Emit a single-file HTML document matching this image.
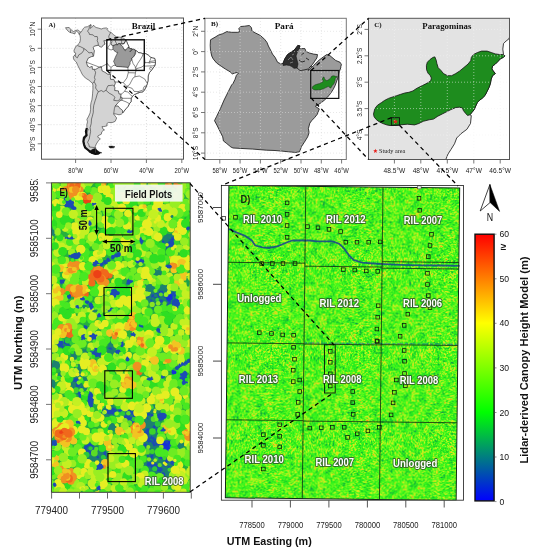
<!DOCTYPE html>
<html><head><meta charset="utf-8"><title>Figure</title>
<style>html,body{margin:0;padding:0;background:#fff;width:550px;height:550px;overflow:hidden}svg{display:block}</style>
</head><body>
<svg width="550" height="550" viewBox="0 0 550 550">
<defs>
<clipPath id="cA"><rect x="41.5" y="18" width="142" height="141.2"/></clipPath>
<clipPath id="cB"><rect x="204.9" y="18.3" width="141.4" height="141.2"/></clipPath>
<clipPath id="cC"><rect x="368.5" y="18.3" width="141" height="141.2"/></clipPath>
</defs>
<rect width="550" height="550" fill="#fff"/>
<g clip-path="url(#cA)">
<line x1="75.6" y1="18" x2="75.6" y2="159.2" stroke="#c8c8c8" stroke-width="0.6" stroke-dasharray="1 2"/>
<line x1="111" y1="18" x2="111" y2="159.2" stroke="#c8c8c8" stroke-width="0.6" stroke-dasharray="1 2"/>
<line x1="146.4" y1="18" x2="146.4" y2="159.2" stroke="#c8c8c8" stroke-width="0.6" stroke-dasharray="1 2"/>
<line x1="181.8" y1="18" x2="181.8" y2="159.2" stroke="#c8c8c8" stroke-width="0.6" stroke-dasharray="1 2"/>
<line x1="41.5" y1="29.2" x2="183.5" y2="29.2" stroke="#c8c8c8" stroke-width="0.6" stroke-dasharray="1 2"/>
<line x1="41.5" y1="48.3" x2="183.5" y2="48.3" stroke="#c8c8c8" stroke-width="0.6" stroke-dasharray="1 2"/>
<line x1="41.5" y1="67.4" x2="183.5" y2="67.4" stroke="#c8c8c8" stroke-width="0.6" stroke-dasharray="1 2"/>
<line x1="41.5" y1="86.5" x2="183.5" y2="86.5" stroke="#c8c8c8" stroke-width="0.6" stroke-dasharray="1 2"/>
<line x1="41.5" y1="105.6" x2="183.5" y2="105.6" stroke="#c8c8c8" stroke-width="0.6" stroke-dasharray="1 2"/>
<line x1="41.5" y1="124.7" x2="183.5" y2="124.7" stroke="#c8c8c8" stroke-width="0.6" stroke-dasharray="1 2"/>
<line x1="41.5" y1="143.8" x2="183.5" y2="143.8" stroke="#c8c8c8" stroke-width="0.6" stroke-dasharray="1 2"/>
<path d="M69.2 27.5 L71.2 30 L73.5 31.5 L75.6 30.5 L77.4 30 L79.3 31.1 L80.4 31.9 L81.3 31.9 L82.3 30.3 L83.4 28.4 L84.5 27.3 L85.9 26.9 L87.5 26.7 L89.2 25.6 L90.8 24.6 L91.4 26 L90.5 27.3 L90.3 28.4 L91.5 27.5 L92.9 26.3 L93.5 25.2 L94.4 26.3 L96.1 27.5 L98.6 28.1 L101.3 29 L103.6 28.2 L106.4 27.9 L107.6 28.6 L107.1 29.4 L109.2 31.9 L111 32.3 L112.4 33.8 L113.8 34.9 L114.9 35.7 L116.3 36.8 L118.4 37 L121.6 37.4 L123.7 38.4 L125.9 39.9 L126.6 41.4 L127.6 44.1 L128.7 46 L128.9 47.9 L127.3 48.7 L129.4 48.9 L131.5 48.7 L132.6 49.4 L134.7 50 L136.8 51 L138.4 52.7 L140.4 52.9 L142.9 53.6 L145.5 53.6 L148.2 55 L150.3 57.1 L152.6 58 L154.7 58.4 L155.4 61.3 L155.4 63.6 L154.7 65.9 L152.8 68.4 L151.2 70.6 L149.2 72.9 L148.2 76 L148 80.8 L147.3 83.6 L146.4 86.1 L144.8 89.4 L143 91.8 L140.2 92.2 L137.6 93.2 L134.4 94.5 L132.2 96.4 L131.2 98.7 L131 101.8 L129.4 103.7 L128 106.4 L126 108.7 L124.1 111.1 L122.7 112.9 L121.3 114.2 L119 114.8 L116.7 114.2 L114.7 113.8 L113.7 114 L115.2 116.1 L116.7 118 L115.2 121.3 L112.8 122.4 L108.3 122.6 L106.9 123.6 L107.1 125.8 L103.9 126.6 L102 126.6 L103 129.1 L104.5 129.9 L103.4 130.4 L101.8 131.8 L101.3 134.2 L98.1 135.8 L97.7 137.1 L100.4 138.8 L98.3 140.9 L96.3 144 L95.1 146.9 L96.1 148.2 L94.2 148.8 L92.4 150.5 L91 151.2 L88.9 150.5 L87.5 149.5 L85.3 147.6 L84.5 144.8 L83.4 140.9 L85.2 138.1 L83.6 137.1 L85.5 135.2 L87.1 132.3 L88.2 129.5 L86.9 127.6 L86.8 124.7 L87.5 121.8 L86.9 119.4 L88.7 116.1 L90.1 112.9 L90.6 109.4 L90.6 105.6 L91 102.7 L91.9 99.9 L92.4 96 L92.6 93.2 L92.9 89.4 L92.9 85.5 L92.6 83.3 L90.8 81.9 L88.9 80.2 L86.2 78.5 L83.9 76.6 L82.1 74.1 L80.9 71.6 L79.5 68.9 L77.7 65.3 L76.3 62.1 L74.2 60.1 L73.5 58.8 L73.3 56.5 L75.1 55 L75.8 53.1 L74.2 52.3 L74 50.2 L75.2 47.9 L75.6 46.6 L77.4 45.4 L77.9 44.5 L79.5 43 L80.2 40.9 L80.4 38.4 L80 35.7 L79 34 L78.4 32.6 L76.5 31.3 L75.1 32.4 L74.7 34 L72.9 33.2 L71.2 32.8 L69.2 32.1 L67.1 30 L65.5 27.7Z" fill="#d3d3d3" stroke="#111" stroke-width="0.5"/>
<path d="M86.9 128.1 L85.9 131.4 L86.6 135.2 L83.9 138.1 L83.4 141.5 L84.1 144.8 L85.2 147.6 L87.5 149.5 L89.8 151.4 L92.4 153 L95.4 153.9 L98.1 153.7 L99.5 152.6" fill="none" stroke="#111" stroke-width="2.2" stroke-linejoin="round"/>
<path d="M95.8 148.8 L95.8 153.2 L98.6 153.5 L101.8 152.8 L99.5 152 L96.8 150.1Z" fill="#111" stroke="#111" stroke-width="0.5"/>
<path d="M95.4 148.8 L92.9 149.1 L90.6 150.7 L88.9 152 L91.9 153.3 L95.1 153.9 L95.4 153.2Z" fill="#111" stroke="#111" stroke-width="0.5"/>
<path d="M108.9 146.3 L111.9 146.1 L114.9 146.7 L113.7 147.8 L110.5 148 L109.1 147.2Z" fill="#111" stroke="#111" stroke-width="0.5"/>
<path d="M90.8 24.6 L89.4 27.1 L88.9 29.2 L87.5 31.1 L89.1 33 L89.4 34.4 L93.1 34.9 L94.7 36.6 L97.2 36.5 L97.7 38.8 L97.2 40.7 L98.1 42.8 L98.3 45.2" fill="none" stroke="#111" stroke-width="0.5"/>
<path d="M77.5 45.6 L80.7 46.8 L83.9 48.5 L87.1 50.8 L88.9 52.9 L92.1 52.5 L93.3 56.3" fill="none" stroke="#111" stroke-width="0.5"/>
<path d="M75.1 54.8 L75.6 56.7 L77.4 57.8 L78.8 54.8 L81.6 53.3 L83.6 50.6 L83.9 48.5" fill="none" stroke="#111" stroke-width="0.5"/>
<path d="M94 69.3 L95.6 72.2 L95.2 74.5 L94.4 77.5 L95.1 79.4 L94.2 81.7 L92.6 83.3" fill="none" stroke="#111" stroke-width="0.5"/>
<path d="M94.2 81.7 L96 85.2 L95.6 88 L96.7 89.6 L98.3 91.8 L97.2 94.1 L96.1 98 L95.1 100.8 L93.7 105.6 L93.3 109.4 L93.3 112.3 L92.4 116.1 L91.5 119 L91.2 123.7 L90.1 127.6 L90.6 131.4 L90.1 134.2 L89.2 139 L87.6 142.3 L88.9 144.8 L89.4 147 L95.1 147.6" fill="none" stroke="#111" stroke-width="0.5"/>
<path d="M98.3 91.8 L101.3 90.5 L103.4 91.8 L106 90.3 L107.1 87.5 L108 85.7 L112.6 85.2 L114.2 86.1" fill="none" stroke="#111" stroke-width="0.5"/>
<path d="M106 90.3 L109.2 93.2 L112.8 95.1 L114.9 97.2 L113.7 100.3 L117.2 100.8 L119.9 99.9 L120.6 97" fill="none" stroke="#111" stroke-width="0.5"/>
<path d="M115.2 106 L114.4 108.5 L114 111.5 L113.7 114" fill="none" stroke="#111" stroke-width="0.5"/>
<path d="M111 32.3 L109.8 34 L108.9 35.9 L108.7 37.2 L109.8 38.4" fill="none" stroke="#111" stroke-width="0.5"/>
<path d="M116.3 36.8 L115.2 40.7 L115.8 42.2 L117.2 44.7" fill="none" stroke="#111" stroke-width="0.5"/>
<path d="M121.6 37.4 L120.9 39.7 L121.6 41.4 L121.6 43.9" fill="none" stroke="#111" stroke-width="0.5"/>
<path d="M80.4 31.9 L79.3 34.5" fill="none" stroke="#111" stroke-width="0.5"/>
<path d="M70.5 30.2 L70.5 32.6" fill="none" stroke="#111" stroke-width="0.5"/>
<path d="M125.9 39.9 L126.6 41.4 L127.6 44.1 L128.7 46 L128.9 47.9 L127.3 48.7 L129.4 48.9 L131.5 48.7 L132.6 49.4 L134.7 50 L136.8 51 L138.4 52.7 L140.4 52.9 L142.9 53.6 L145.5 53.6 L148.2 55 L150.3 57.1 L152.6 58 L154.7 58.4 L155.4 61.3 L155.4 63.6 L154.7 65.9 L152.8 68.4 L151.2 70.6 L149.2 72.9 L148.2 76 L148 80.8 L147.3 83.6 L146.4 86.1 L144.8 89.4 L143 91.8 L140.2 92.2 L137.6 93.2 L134.4 94.5 L132.2 96.4 L131.2 98.7 L131 101.8 L129.4 103.7 L128 106.4 L126 108.7 L124.1 111.1 L122.7 112.9 L122.5 110.4 L119 107.5 L118.1 106 L115.2 106 L118.1 102.7 L119.9 100.8 L122 100.1 L122 97.4 L120.6 97 L121.1 94.1 L119 93.9 L118.4 90.9 L114.7 90.5 L114.9 87.5 L114.2 86.1 L115.4 83.1 L113.8 79.4 L110.6 79.4 L110.3 77.1 L110.6 74.5 L107.6 74.1 L104.8 72.2 L102.2 71 L101.6 68.4 L101.4 66.8 L99.3 67.2 L95.8 69.3 L94 69.3 L92.4 69.3 L92.2 66.4 L89.4 67.4 L88.3 66.3 L87.6 66.3 L86.4 62.2 L88.2 58.2 L91.2 56.7 L93.5 56.3 L94.4 50.6 L93.7 49.4 L93.3 47.3 L94.2 46.2 L98.3 45.2 L99 46 L100.4 46.8 L101.3 47.2 L103 45.8 L103.9 44.5 L105 44.1 L103.9 40.7 L106 40.7 L108.7 39.7 L109.8 38.4 L111 38.6 L111.4 40.7 L111.9 41.6 L111.2 43.7 L111.9 45.4 L114 45.4 L117.2 44.7 L119.9 43.5 L121.6 43.9 L123.6 43.9 L125.2 41.6Z" fill="#fff" stroke="#111" stroke-width="0.6"/>
<path d="M111 38.6 L110.1 44.5 L108.5 46.4 L107.5 48.3 L111 50 L113.1 49.3" fill="none" stroke="#111" stroke-width="0.5"/>
<path d="M125.9 39.9 L124.3 43.5 L122 43.9" fill="none" stroke="#111" stroke-width="0.5"/>
<path d="M120 43.7 L121.6 46.4 L124.3 49.3 L126.6 50.2" fill="none" stroke="#111" stroke-width="0.5"/>
<path d="M86.4 62.2 L99 67" fill="none" stroke="#111" stroke-width="0.5"/>
<path d="M99.3 67.2 L101.4 66.8 L107.5 63.6 L108.3 65.1 L111 67.4 L114 65.1" fill="none" stroke="#111" stroke-width="0.5"/>
<path d="M111 67.4 L110.6 74.5" fill="none" stroke="#111" stroke-width="0.5"/>
<path d="M114 65.1 L117.2 66.1 L127.8 67" fill="none" stroke="#111" stroke-width="0.5"/>
<path d="M127.8 67 L128.3 72.7 L126.9 77.9 L123.4 82.7 L126 85.5" fill="none" stroke="#111" stroke-width="0.5"/>
<path d="M114.9 81.9 L122.5 82.5 L123.4 82.7" fill="none" stroke="#111" stroke-width="0.5"/>
<path d="M126 85.5 L126.9 87.5 L124.6 91.3 L122.5 93.2 L121.1 94.1" fill="none" stroke="#111" stroke-width="0.5"/>
<path d="M131.4 58.4 L133.1 63.6 L135.2 66.6 L135.8 71.2 L135.4 72.9" fill="none" stroke="#111" stroke-width="0.5"/>
<path d="M135.4 72.9 L128.3 72.7" fill="none" stroke="#111" stroke-width="0.5"/>
<path d="M135.4 72.9 L134.9 76.9 L133.1 77.9 L129.6 84.6 L126.9 86.5" fill="none" stroke="#111" stroke-width="0.5"/>
<path d="M132.6 49.4 L135.4 50.6 L135.8 53.1 L134.9 55 L132.9 57.5 L131.4 58.4" fill="none" stroke="#111" stroke-width="0.5"/>
<path d="M143.2 53.6 L142 56.9 L140.2 59.8 L137.6 63.6 L135.8 67.4 L136.7 68.5" fill="none" stroke="#111" stroke-width="0.5"/>
<path d="M144.1 54 L144.6 57.8 L145 62.6 L144.1 65.5 L141.1 67.4 L136.7 68.5 L135.8 71.2" fill="none" stroke="#111" stroke-width="0.5"/>
<path d="M151.2 57.3 L149.9 60.7 L148.9 62.6" fill="none" stroke="#111" stroke-width="0.5"/>
<path d="M148.9 62.6 L145 62.6" fill="none" stroke="#111" stroke-width="0.5"/>
<path d="M155.2 60.7 L150.8 61.3 L148.9 62.6" fill="none" stroke="#111" stroke-width="0.5"/>
<path d="M155.2 62.6 L151.7 62.4 L148.9 63.2" fill="none" stroke="#111" stroke-width="0.5"/>
<path d="M154.9 65.3 L152.6 65.9 L149.9 65.9 L145.5 66.1 L144.1 65.5" fill="none" stroke="#111" stroke-width="0.5"/>
<path d="M152.8 68.4 L150.3 67 L149.6 68.9 L150.8 70.3" fill="none" stroke="#111" stroke-width="0.5"/>
<path d="M147.1 83.1 L144.6 78.9 L139.3 76 L135.8 76.6 L134.9 76.9" fill="none" stroke="#111" stroke-width="0.5"/>
<path d="M146.4 86.1 L144.6 86.1 L143.2 88.4 L144.3 89.4" fill="none" stroke="#111" stroke-width="0.5"/>
<path d="M144.3 89.4 L141.1 90.7 L137.9 91.7 L138.3 92.8" fill="none" stroke="#111" stroke-width="0.5"/>
<path d="M137.9 91.7 L134 91.3 L132.2 88.4 L126.9 86.5" fill="none" stroke="#111" stroke-width="0.5"/>
<path d="M132.2 96.4 L130.5 94.7 L127.8 92 L124.6 91.3" fill="none" stroke="#111" stroke-width="0.5"/>
<path d="M131.2 98.3 L127.8 98.3 L122 98.3" fill="none" stroke="#111" stroke-width="0.5"/>
<path d="M129.4 103.7 L126 101.8 L122 100.3" fill="none" stroke="#111" stroke-width="0.5"/>
<path d="M210.5 39.8 L215.2 37.1 L218.6 35 L222.7 33.7 L226.8 31.6 L231.6 32.3 L237.7 32.3 L239.8 31.6 L238.8 28.6 L240.7 26.5 L244.5 26.2 L249.3 25.5 L251.4 27.5 L252 31 L255.5 33 L259.5 35 L262.3 37.1 L265 39.8 L267 42.5 L268.4 46 L270.5 50 L272.5 54.1 L275.2 57.5 L277.6 62.3 L280.9 63.9 L283 63.4 L284.7 59 L287.5 54.6 L291.3 51.9 L294 50.3 L296.7 47 L297.8 45.4 L300 45.9 L298.9 48.6 L301.6 48.6 L304.9 48.6 L306 51.4 L309.3 53 L313.6 54.1 L317.5 54.6 L316.9 57.9 L314.7 61.2 L312.5 64.5 L309.3 67.7 L308.2 70.5 L313.6 65.5 L319.1 60.1 L323.5 56.8 L326.7 54.6 L330 55.7 L335.6 60.4 L340.1 62.3 L341.4 64.2 L340.7 68 L338.8 73.1 L338.2 76.9 L336.9 80.7 L335 85.8 L333.1 89.6 L330.5 93.5 L327.4 97.3 L324.8 99.8 L321.6 102.4 L317.8 104.9 L315.3 106.2 L315.9 106.8 L319.3 108.9 L317.3 114.3 L314.5 117.7 L311.8 120.5 L309.8 123.2 L308.4 128.6 L309.1 132.7 L307.7 136.8 L304.3 142.3 L301.6 146.4 L299.5 151.8 L295.5 152.5 L288.6 151.8 L281.8 151.1 L275 150.5 L266.4 150.2 L252.7 149.1 L240.5 148.4 L233 148 L230.9 147 L226.8 143.6 L223.4 140.9 L222.7 136.8 L220 131.4 L217.3 125.9 L214.5 120.7 L216.6 116.4 L220 109.5 L224.1 100 L228.2 91.8 L231.6 85 L233 83.5 L235 79.4 L236.4 75.3 L238.4 73.2 L237 72.5 L234.3 73.2 L232.3 73.9 L230.2 71.9 L225.5 69.1 L221.4 66.4 L216.6 63 L213.2 58.9 L211.8 56.2 L210.5 50.7 L210.2 45.3Z" fill="#9a9a9a" stroke="#111" stroke-width="3" transform="matrix(0.17438,0,0,0.18818,76.21,38.65)"/>
<rect x="106.8" y="39.8" width="37.5" height="30.6" fill="none" stroke="#111" stroke-width="1.4"/>
</g>
<rect x="41.5" y="18" width="142" height="141.2" fill="none" stroke="#555" stroke-width="1"/>
<text x="48.4" y="26.8" font-family="'Liberation Serif', 'Times New Roman', serif" font-weight="bold" font-size="6.6" fill="#111">A)</text>
<text x="143.6" y="29" text-anchor="middle" font-family="'Liberation Serif', 'Times New Roman', serif" font-weight="bold" font-size="9" fill="#111">Brazil</text>
<line x1="75.6" y1="159.2" x2="75.6" y2="163" stroke="#555" stroke-width="0.8"/>
<text x="75.6" y="173" text-anchor="middle" font-family="'Liberation Sans', Arial, sans-serif" font-size="6.6" fill="#222" textLength="14.5" lengthAdjust="spacingAndGlyphs">80°W</text>
<line x1="111" y1="159.2" x2="111" y2="163" stroke="#555" stroke-width="0.8"/>
<text x="111" y="173" text-anchor="middle" font-family="'Liberation Sans', Arial, sans-serif" font-size="6.6" fill="#222" textLength="14.5" lengthAdjust="spacingAndGlyphs">60°W</text>
<line x1="146.4" y1="159.2" x2="146.4" y2="163" stroke="#555" stroke-width="0.8"/>
<text x="146.4" y="173" text-anchor="middle" font-family="'Liberation Sans', Arial, sans-serif" font-size="6.6" fill="#222" textLength="14.5" lengthAdjust="spacingAndGlyphs">40°W</text>
<line x1="181.8" y1="159.2" x2="181.8" y2="163" stroke="#555" stroke-width="0.8"/>
<text x="181.8" y="173" text-anchor="middle" font-family="'Liberation Sans', Arial, sans-serif" font-size="6.6" fill="#222" textLength="14.5" lengthAdjust="spacingAndGlyphs">20°W</text>
<line x1="37.7" y1="29.2" x2="41.5" y2="29.2" stroke="#555" stroke-width="0.8"/>
<text transform="translate(34.6,29.2) rotate(-90)" text-anchor="middle" font-family="'Liberation Sans', Arial, sans-serif" font-size="6.6" fill="#222">10°N</text>
<line x1="37.7" y1="48.3" x2="41.5" y2="48.3" stroke="#555" stroke-width="0.8"/>
<text transform="translate(34.6,48.3) rotate(-90)" text-anchor="middle" font-family="'Liberation Sans', Arial, sans-serif" font-size="6.6" fill="#222">0°</text>
<line x1="37.7" y1="67.4" x2="41.5" y2="67.4" stroke="#555" stroke-width="0.8"/>
<text transform="translate(34.6,67.4) rotate(-90)" text-anchor="middle" font-family="'Liberation Sans', Arial, sans-serif" font-size="6.6" fill="#222">10°S</text>
<line x1="37.7" y1="86.5" x2="41.5" y2="86.5" stroke="#555" stroke-width="0.8"/>
<text transform="translate(34.6,86.5) rotate(-90)" text-anchor="middle" font-family="'Liberation Sans', Arial, sans-serif" font-size="6.6" fill="#222">20°S</text>
<line x1="37.7" y1="105.6" x2="41.5" y2="105.6" stroke="#555" stroke-width="0.8"/>
<text transform="translate(34.6,105.6) rotate(-90)" text-anchor="middle" font-family="'Liberation Sans', Arial, sans-serif" font-size="6.6" fill="#222">30°S</text>
<line x1="37.7" y1="124.7" x2="41.5" y2="124.7" stroke="#555" stroke-width="0.8"/>
<text transform="translate(34.6,124.7) rotate(-90)" text-anchor="middle" font-family="'Liberation Sans', Arial, sans-serif" font-size="6.6" fill="#222">40°S</text>
<line x1="37.7" y1="143.8" x2="41.5" y2="143.8" stroke="#555" stroke-width="0.8"/>
<text transform="translate(34.6,143.8) rotate(-90)" text-anchor="middle" font-family="'Liberation Sans', Arial, sans-serif" font-size="6.6" fill="#222">50°S</text>
<g clip-path="url(#cB)">
<path d="M210.5 39.8 L215.2 37.1 L218.6 35 L222.7 33.7 L226.8 31.6 L231.6 32.3 L237.7 32.3 L239.8 31.6 L238.8 28.6 L240.7 26.5 L244.5 26.2 L249.3 25.5 L251.4 27.5 L252 31 L255.5 33 L259.5 35 L262.3 37.1 L265 39.8 L267 42.5 L268.4 46 L270.5 50 L272.5 54.1 L275.2 57.5 L277.6 62.3 L280.9 63.9 L283 63.4 L284.7 59 L287.5 54.6 L291.3 51.9 L294 50.3 L296.7 47 L297.8 45.4 L300 45.9 L298.9 48.6 L301.6 48.6 L304.9 48.6 L306 51.4 L309.3 53 L313.6 54.1 L317.5 54.6 L316.9 57.9 L314.7 61.2 L312.5 64.5 L309.3 67.7 L308.2 70.5 L313.6 65.5 L319.1 60.1 L323.5 56.8 L326.7 54.6 L330 55.7 L335.6 60.4 L340.1 62.3 L341.4 64.2 L340.7 68 L338.8 73.1 L338.2 76.9 L336.9 80.7 L335 85.8 L333.1 89.6 L330.5 93.5 L327.4 97.3 L324.8 99.8 L321.6 102.4 L317.8 104.9 L315.3 106.2 L315.9 106.8 L319.3 108.9 L317.3 114.3 L314.5 117.7 L311.8 120.5 L309.8 123.2 L308.4 128.6 L309.1 132.7 L307.7 136.8 L304.3 142.3 L301.6 146.4 L299.5 151.8 L295.5 152.5 L288.6 151.8 L281.8 151.1 L275 150.5 L266.4 150.2 L252.7 149.1 L240.5 148.4 L233 148 L230.9 147 L226.8 143.6 L223.4 140.9 L222.7 136.8 L220 131.4 L217.3 125.9 L214.5 120.7 L216.6 116.4 L220 109.5 L224.1 100 L228.2 91.8 L231.6 85 L233 83.5 L235 79.4 L236.4 75.3 L238.4 73.2 L237 72.5 L234.3 73.2 L232.3 73.9 L230.2 71.9 L225.5 69.1 L221.4 66.4 L216.6 63 L213.2 58.9 L211.8 56.2 L210.5 50.7 L210.2 45.3Z" fill="#9b9b9b" stroke="#111" stroke-width="0.8" stroke-linejoin="round"/>
<path d="M283 63.4 L284.7 59 L287.5 54.6 L291.3 51.9 L294 50.3 L296.7 47 L297.8 45.4 L300 45.9 L298.9 48.6 L297.5 52 L296 56 L297 60 L298 64 L297 68 L294 68.3 L291.8 66.6 L289.6 65.5 L286.4 65 L283.1 65.5 Z" fill="#2e2e2e" stroke="#111" stroke-width="0.6"/>
<path d="M288 60 L291 57 L293 60 M290 63 L293 62 M292 55 L294 54" fill="none" stroke="#8a8a8a" stroke-width="0.8"/>
<path d="M297 68 L300 70.5 L304 70 L308 69 M299 60 L302 62 L305 61 M301 55 L304 53 M306 58 L309 60 M309.3 67.7 L312 66" fill="none" stroke="#111" stroke-width="0.8"/>
<line x1="219.8" y1="18" x2="219.8" y2="160" stroke="#d8d8d8" stroke-width="0.6" stroke-dasharray="1 2"/>
<line x1="204" y1="31.3" x2="347" y2="31.3" stroke="#d8d8d8" stroke-width="0.6" stroke-dasharray="1 2"/>
<line x1="240.1" y1="18" x2="240.1" y2="160" stroke="#d8d8d8" stroke-width="0.6" stroke-dasharray="1 2"/>
<line x1="204" y1="51.6" x2="347" y2="51.6" stroke="#d8d8d8" stroke-width="0.6" stroke-dasharray="1 2"/>
<line x1="260.4" y1="18" x2="260.4" y2="160" stroke="#d8d8d8" stroke-width="0.6" stroke-dasharray="1 2"/>
<line x1="204" y1="71.9" x2="347" y2="71.9" stroke="#d8d8d8" stroke-width="0.6" stroke-dasharray="1 2"/>
<line x1="280.7" y1="18" x2="280.7" y2="160" stroke="#d8d8d8" stroke-width="0.6" stroke-dasharray="1 2"/>
<line x1="204" y1="92.2" x2="347" y2="92.2" stroke="#d8d8d8" stroke-width="0.6" stroke-dasharray="1 2"/>
<line x1="301" y1="18" x2="301" y2="160" stroke="#d8d8d8" stroke-width="0.6" stroke-dasharray="1 2"/>
<line x1="204" y1="112.5" x2="347" y2="112.5" stroke="#d8d8d8" stroke-width="0.6" stroke-dasharray="1 2"/>
<line x1="321.3" y1="18" x2="321.3" y2="160" stroke="#d8d8d8" stroke-width="0.6" stroke-dasharray="1 2"/>
<line x1="204" y1="132.8" x2="347" y2="132.8" stroke="#d8d8d8" stroke-width="0.6" stroke-dasharray="1 2"/>
<line x1="341.6" y1="18" x2="341.6" y2="160" stroke="#d8d8d8" stroke-width="0.6" stroke-dasharray="1 2"/>
<line x1="204" y1="153.1" x2="347" y2="153.1" stroke="#d8d8d8" stroke-width="0.6" stroke-dasharray="1 2"/>
<path d="M373.5 114.1 L374.8 108.6 L377.5 105.2 L381.6 102.5 L384.4 100.5 L388.5 98.4 L392.5 97 L396.6 95.7 L400.7 94.3 L404.8 93 L408.9 92.3 L413 90.9 L415 89.5 L417.1 88.2 L419.8 86.8 L422.5 85.5 L425.3 84.1 L428 82.7 L430.7 80.7 L431.4 78 L430 75.2 L428 73.2 L426.6 69.8 L426.4 65.7 L427.3 62.3 L430 59.5 L432.8 57.5 L434.8 56.8 L436.2 60.2 L436.9 63.6 L438.2 67.7 L441 70.5 L443.5 73.6 L447.5 75.7 L451.6 75.7 L455.7 73.6 L459.8 70.9 L463.9 67.5 L468 64.1 L470.7 60.7 L471.4 57.3 L473.5 54.5 L477.5 52.5 L481.6 51.1 L487.1 51.1 L491.2 52.5 L495.3 53.9 L499.4 54.5 L502.8 54.5 L504.8 55.9 L503.5 57.3 L500.7 58.6 L498 61.4 L495.3 64.1 L492.5 66.1 L491.9 68.9 L493.2 70.9 L495.3 73.6 L492.5 75.7 L491.2 79.1 L490.5 83.2 L489.1 87.3 L487.1 91.4 L485 95.5 L482.3 98.2 L479.6 100.2 L477.5 102.3 L476.2 105 L474.2 109.6 L472 112.5 L469.8 114.7 L467.6 115.5 L465.5 113.3 L463.3 110.4 L462.5 108.2 L459.6 107.2 L456 107.5 L450.9 109.6 L446.5 111.8 L442.2 114 L437.8 116.2 L433.5 119.1 L429.1 119.8 L423.3 121.3 L418.9 123.5 L414.5 124.9 L407.3 124.2 L400 124.9 L395 125.5 L390 125.5 L387.1 125 L383 123.6 L378.9 121.6 L376.2 119.5 L374.1 116.8Z" fill="#1e8c1e" stroke="#111" stroke-width="2" transform="matrix(0.19187,0,0,0.1915,240.55,66.03)"/>
<rect x="310.7" y="70.5" width="28.1" height="27.9" fill="none" stroke="#111" stroke-width="1.2"/>
</g>
<rect x="204.9" y="18.3" width="141.4" height="141.2" fill="none" stroke="#777" stroke-width="1"/>
<text x="211" y="26.3" font-family="'Liberation Serif', 'Times New Roman', serif" font-weight="bold" font-size="7" fill="#111">B)</text>
<text x="284.2" y="29" text-anchor="middle" font-family="'Liberation Serif', 'Times New Roman', serif" font-weight="bold" font-size="9.2" fill="#111">Pará</text>
<line x1="219.8" y1="159.5" x2="219.8" y2="163.5" stroke="#555" stroke-width="0.8"/>
<text x="219.8" y="173" text-anchor="middle" font-family="'Liberation Sans', Arial, sans-serif" font-size="6.6" fill="#222" textLength="14.5" lengthAdjust="spacingAndGlyphs">58°W</text>
<line x1="240.1" y1="159.5" x2="240.1" y2="163.5" stroke="#555" stroke-width="0.8"/>
<text x="240.1" y="173" text-anchor="middle" font-family="'Liberation Sans', Arial, sans-serif" font-size="6.6" fill="#222" textLength="14.5" lengthAdjust="spacingAndGlyphs">56°W</text>
<line x1="260.4" y1="159.5" x2="260.4" y2="163.5" stroke="#555" stroke-width="0.8"/>
<text x="260.4" y="173" text-anchor="middle" font-family="'Liberation Sans', Arial, sans-serif" font-size="6.6" fill="#222" textLength="14.5" lengthAdjust="spacingAndGlyphs">54°W</text>
<line x1="280.7" y1="159.5" x2="280.7" y2="163.5" stroke="#555" stroke-width="0.8"/>
<text x="280.7" y="173" text-anchor="middle" font-family="'Liberation Sans', Arial, sans-serif" font-size="6.6" fill="#222" textLength="14.5" lengthAdjust="spacingAndGlyphs">52°W</text>
<line x1="301" y1="159.5" x2="301" y2="163.5" stroke="#555" stroke-width="0.8"/>
<text x="301" y="173" text-anchor="middle" font-family="'Liberation Sans', Arial, sans-serif" font-size="6.6" fill="#222" textLength="14.5" lengthAdjust="spacingAndGlyphs">50°W</text>
<line x1="321.3" y1="159.5" x2="321.3" y2="163.5" stroke="#555" stroke-width="0.8"/>
<text x="321.3" y="173" text-anchor="middle" font-family="'Liberation Sans', Arial, sans-serif" font-size="6.6" fill="#222" textLength="14.5" lengthAdjust="spacingAndGlyphs">48°W</text>
<line x1="341.6" y1="159.5" x2="341.6" y2="163.5" stroke="#555" stroke-width="0.8"/>
<text x="341.6" y="173" text-anchor="middle" font-family="'Liberation Sans', Arial, sans-serif" font-size="6.6" fill="#222" textLength="14.5" lengthAdjust="spacingAndGlyphs">46°W</text>
<line x1="201" y1="31.3" x2="204.9" y2="31.3" stroke="#555" stroke-width="0.8"/>
<text transform="translate(198,31.3) rotate(-90)" text-anchor="middle" font-family="'Liberation Sans', Arial, sans-serif" font-size="6.6" fill="#222">2°N</text>
<line x1="201" y1="51.6" x2="204.9" y2="51.6" stroke="#555" stroke-width="0.8"/>
<text transform="translate(198,51.6) rotate(-90)" text-anchor="middle" font-family="'Liberation Sans', Arial, sans-serif" font-size="6.6" fill="#222">0°</text>
<line x1="201" y1="71.9" x2="204.9" y2="71.9" stroke="#555" stroke-width="0.8"/>
<text transform="translate(198,71.9) rotate(-90)" text-anchor="middle" font-family="'Liberation Sans', Arial, sans-serif" font-size="6.6" fill="#222">2°S</text>
<line x1="201" y1="92.2" x2="204.9" y2="92.2" stroke="#555" stroke-width="0.8"/>
<text transform="translate(198,92.2) rotate(-90)" text-anchor="middle" font-family="'Liberation Sans', Arial, sans-serif" font-size="6.6" fill="#222">4°S</text>
<line x1="201" y1="112.5" x2="204.9" y2="112.5" stroke="#555" stroke-width="0.8"/>
<text transform="translate(198,112.5) rotate(-90)" text-anchor="middle" font-family="'Liberation Sans', Arial, sans-serif" font-size="6.6" fill="#222">6°S</text>
<line x1="201" y1="132.8" x2="204.9" y2="132.8" stroke="#555" stroke-width="0.8"/>
<text transform="translate(198,132.8) rotate(-90)" text-anchor="middle" font-family="'Liberation Sans', Arial, sans-serif" font-size="6.6" fill="#222">8°S</text>
<line x1="201" y1="153.1" x2="204.9" y2="153.1" stroke="#555" stroke-width="0.8"/>
<text transform="translate(198,153.1) rotate(-90)" text-anchor="middle" font-family="'Liberation Sans', Arial, sans-serif" font-size="6.6" fill="#222">10°S</text>
<g clip-path="url(#cC)">
<path d="M368.5 18.3 L509.5 18.3 L509.5 37.2 L508.9 38.9 L506.2 40.9 L503.5 43.6 L502.8 49.1 L503.5 54.5 L504.8 55.9 L503.5 57.3 L500.7 58.6 L498 61.4 L495.3 64.1 L492.5 66.1 L491.9 68.9 L493.2 70.9 L495.3 73.6 L492.5 75.7 L491.2 79.1 L490.5 83.2 L489.1 87.3 L487.1 91.4 L485 95.5 L482.3 98.2 L479.6 100.2 L477.5 102.3 L476.2 105 L474.2 109.6 L472 112.5 L469.8 114.7 L471.3 115.5 L470.5 123.5 L466.9 129.3 L461.1 133.6 L456.7 138 L454.5 143.8 L450.9 149.6 L448 154 L445.8 159.5 L368.5 159.5Z" fill="#e3e3e3" stroke="none"/>
<path d="M509.5 37.2 L508.9 38.9 L506.2 40.9 L503.5 43.6 L502.8 49.1 L503.5 54.5 L504.8 55.9 L503.5 57.3 L500.7 58.6 L498 61.4 L495.3 64.1 L492.5 66.1 L491.9 68.9 L493.2 70.9 L495.3 73.6 L492.5 75.7 L491.2 79.1 L490.5 83.2 L489.1 87.3 L487.1 91.4 L485 95.5 L482.3 98.2 L479.6 100.2 L477.5 102.3 L476.2 105 L474.2 109.6 L472 112.5 L469.8 114.7 L471.3 115.5 L470.5 123.5 L466.9 129.3 L461.1 133.6 L456.7 138 L454.5 143.8 L450.9 149.6 L448 154 L445.8 159.5" fill="none" stroke="#111" stroke-width="0.8"/>
<path d="M373.5 114.1 L374.8 108.6 L377.5 105.2 L381.6 102.5 L384.4 100.5 L388.5 98.4 L392.5 97 L396.6 95.7 L400.7 94.3 L404.8 93 L408.9 92.3 L413 90.9 L415 89.5 L417.1 88.2 L419.8 86.8 L422.5 85.5 L425.3 84.1 L428 82.7 L430.7 80.7 L431.4 78 L430 75.2 L428 73.2 L426.6 69.8 L426.4 65.7 L427.3 62.3 L430 59.5 L432.8 57.5 L434.8 56.8 L436.2 60.2 L436.9 63.6 L438.2 67.7 L441 70.5 L443.5 73.6 L447.5 75.7 L451.6 75.7 L455.7 73.6 L459.8 70.9 L463.9 67.5 L468 64.1 L470.7 60.7 L471.4 57.3 L473.5 54.5 L477.5 52.5 L481.6 51.1 L487.1 51.1 L491.2 52.5 L495.3 53.9 L499.4 54.5 L502.8 54.5 L504.8 55.9 L503.5 57.3 L500.7 58.6 L498 61.4 L495.3 64.1 L492.5 66.1 L491.9 68.9 L493.2 70.9 L495.3 73.6 L492.5 75.7 L491.2 79.1 L490.5 83.2 L489.1 87.3 L487.1 91.4 L485 95.5 L482.3 98.2 L479.6 100.2 L477.5 102.3 L476.2 105 L474.2 109.6 L472 112.5 L469.8 114.7 L467.6 115.5 L465.5 113.3 L463.3 110.4 L462.5 108.2 L459.6 107.2 L456 107.5 L450.9 109.6 L446.5 111.8 L442.2 114 L437.8 116.2 L433.5 119.1 L429.1 119.8 L423.3 121.3 L418.9 123.5 L414.5 124.9 L407.3 124.2 L400 124.9 L395 125.5 L390 125.5 L387.1 125 L383 123.6 L378.9 121.6 L376.2 119.5 L374.1 116.8Z" fill="#1e8c1e" stroke="#111" stroke-width="0.8" stroke-linejoin="round"/>
<line x1="394.4" y1="18" x2="394.4" y2="160" stroke="#f4f4f4" stroke-opacity="0.9" stroke-width="0.6" stroke-dasharray="1 2"/>
<line x1="368" y1="29.4" x2="510" y2="29.4" stroke="#f4f4f4" stroke-opacity="0.9" stroke-width="0.6" stroke-dasharray="1 2"/>
<line x1="420.8" y1="18" x2="420.8" y2="160" stroke="#f4f4f4" stroke-opacity="0.9" stroke-width="0.6" stroke-dasharray="1 2"/>
<line x1="368" y1="55.8" x2="510" y2="55.8" stroke="#f4f4f4" stroke-opacity="0.9" stroke-width="0.6" stroke-dasharray="1 2"/>
<line x1="447.3" y1="18" x2="447.3" y2="160" stroke="#f4f4f4" stroke-opacity="0.9" stroke-width="0.6" stroke-dasharray="1 2"/>
<line x1="368" y1="82.2" x2="510" y2="82.2" stroke="#f4f4f4" stroke-opacity="0.9" stroke-width="0.6" stroke-dasharray="1 2"/>
<line x1="473.8" y1="18" x2="473.8" y2="160" stroke="#f4f4f4" stroke-opacity="0.9" stroke-width="0.6" stroke-dasharray="1 2"/>
<line x1="368" y1="108.6" x2="510" y2="108.6" stroke="#f4f4f4" stroke-opacity="0.9" stroke-width="0.6" stroke-dasharray="1 2"/>
<line x1="500.2" y1="18" x2="500.2" y2="160" stroke="#f4f4f4" stroke-opacity="0.9" stroke-width="0.6" stroke-dasharray="1 2"/>
<line x1="368" y1="135" x2="510" y2="135" stroke="#f4f4f4" stroke-opacity="0.9" stroke-width="0.6" stroke-dasharray="1 2"/>
<rect x="391.4" y="117.7" width="8.1" height="7.5" fill="none" stroke="#111" stroke-width="0.9"/>
</g>
<rect x="368.5" y="18.3" width="141" height="141.2" fill="none" stroke="#555" stroke-width="1"/>
<path d="M395.5 119 L396.2 120.7 L398 120.8 L396.6 122 L397 123.7 L395.5 122.8 L394 123.7 L394.4 122 L393 120.8 L394.8 120.7Z" fill="#e8201c"/>
<path d="M375.4 148.7 L376 150.2 L377.6 150.3 L376.4 151.3 L376.8 152.9 L375.4 152 L374 152.9 L374.4 151.3 L373.2 150.3 L374.8 150.2Z" fill="#e8201c"/>
<text x="379" y="153.2" font-family="'Liberation Serif', 'Times New Roman', serif" font-size="6.2" fill="#222">Study area</text>
<text x="374.3" y="26.5" font-family="'Liberation Serif', 'Times New Roman', serif" font-weight="bold" font-size="7" fill="#111">C)</text>
<text x="446.8" y="28.6" text-anchor="middle" font-family="'Liberation Serif', 'Times New Roman', serif" font-weight="bold" font-size="9" fill="#111" textLength="49" lengthAdjust="spacingAndGlyphs">Paragominas</text>
<line x1="394.4" y1="159.5" x2="394.4" y2="163.5" stroke="#555" stroke-width="0.8"/>
<text x="394.4" y="173" text-anchor="middle" font-family="'Liberation Sans', Arial, sans-serif" font-size="6.6" fill="#222">48.5°W</text>
<line x1="420.8" y1="159.5" x2="420.8" y2="163.5" stroke="#555" stroke-width="0.8"/>
<text x="420.8" y="173" text-anchor="middle" font-family="'Liberation Sans', Arial, sans-serif" font-size="6.6" fill="#222">48°W</text>
<line x1="447.3" y1="159.5" x2="447.3" y2="163.5" stroke="#555" stroke-width="0.8"/>
<text x="447.3" y="173" text-anchor="middle" font-family="'Liberation Sans', Arial, sans-serif" font-size="6.6" fill="#222">47.5°W</text>
<line x1="473.8" y1="159.5" x2="473.8" y2="163.5" stroke="#555" stroke-width="0.8"/>
<text x="473.8" y="173" text-anchor="middle" font-family="'Liberation Sans', Arial, sans-serif" font-size="6.6" fill="#222">47°W</text>
<line x1="500.2" y1="159.5" x2="500.2" y2="163.5" stroke="#555" stroke-width="0.8"/>
<text x="500.2" y="173" text-anchor="middle" font-family="'Liberation Sans', Arial, sans-serif" font-size="6.6" fill="#222">46.5°W</text>
<line x1="364.5" y1="29.4" x2="368.5" y2="29.4" stroke="#555" stroke-width="0.8"/>
<text transform="translate(361.5,29.4) rotate(-90)" text-anchor="middle" font-family="'Liberation Sans', Arial, sans-serif" font-size="6.6" fill="#222">2°S</text>
<line x1="364.5" y1="55.8" x2="368.5" y2="55.8" stroke="#555" stroke-width="0.8"/>
<text transform="translate(361.5,55.8) rotate(-90)" text-anchor="middle" font-family="'Liberation Sans', Arial, sans-serif" font-size="6.6" fill="#222">2.5°S</text>
<line x1="364.5" y1="82.2" x2="368.5" y2="82.2" stroke="#555" stroke-width="0.8"/>
<text transform="translate(361.5,82.2) rotate(-90)" text-anchor="middle" font-family="'Liberation Sans', Arial, sans-serif" font-size="6.6" fill="#222">3°S</text>
<line x1="364.5" y1="108.6" x2="368.5" y2="108.6" stroke="#555" stroke-width="0.8"/>
<text transform="translate(361.5,108.6) rotate(-90)" text-anchor="middle" font-family="'Liberation Sans', Arial, sans-serif" font-size="6.6" fill="#222">3.5°S</text>
<line x1="364.5" y1="135" x2="368.5" y2="135" stroke="#555" stroke-width="0.8"/>
<text transform="translate(361.5,135) rotate(-90)" text-anchor="middle" font-family="'Liberation Sans', Arial, sans-serif" font-size="6.6" fill="#222">4°S</text>
<defs>
<clipPath id="cD"><path d="M229.2 185.5 L460 185.5 L456.1 500.2 L225.4 500.2Z"/></clipPath>
<filter id="nD" x="0" y="0" width="1" height="1" color-interpolation-filters="sRGB"><feTurbulence type="fractalNoise" baseFrequency="0.55" numOctaves="2" seed="5" result="t1"/><feColorMatrix in="t1" type="matrix" values="1 0 0 0 0  1 0 0 0 0  1 0 0 0 0  0 0 0 0 1" result="a1"/><feTurbulence type="fractalNoise" baseFrequency="0.13" numOctaves="2" seed="9" result="t2"/><feColorMatrix in="t2" type="matrix" values="1 0 0 0 0  1 0 0 0 0  1 0 0 0 0  0 0 0 0 1" result="a2"/><feComposite in="a1" in2="a2" operator="arithmetic" k1="0" k2="0.85" k3="0.45" k4="-0.105"/><feComponentTransfer><feFuncR type="table" tableValues="0.098 0.098 0.098 0.098 0.098 0.098 0.098 0.118 0.149 0.176 0.216 0.294 0.412 0.569 0.725 0.843 0.910 0.933 0.941 0.941 0.922"/><feFuncG type="table" tableValues="0.490 0.490 0.490 0.502 0.541 0.608 0.714 0.816 0.894 0.941 0.965 0.973 0.973 0.973 0.965 0.933 0.855 0.745 0.588 0.373 0.235"/><feFuncB type="table" tableValues="0.392 0.392 0.392 0.384 0.345 0.282 0.204 0.149 0.118 0.110 0.110 0.110 0.110 0.110 0.110 0.110 0.110 0.110 0.102 0.086 0.078"/></feComponentTransfer><feGaussianBlur stdDeviation="0.2"/></filter>
</defs>
<clipPath id="cDf"><rect x="221.4" y="185.5" width="242.1" height="314.7"/></clipPath>
<g clip-path="url(#cDf)">
<g transform="translate(228.9,185.5) rotate(0.65)">
<clipPath id="cDr"><rect x="0" y="0" width="230.8" height="312.3"/></clipPath>
<g clip-path="url(#cDr)">
<rect x="-2" y="-2" width="235" height="317" filter="url(#nD)"/>
</g>
</g>
<path d="M229 229 L236.4 232.4 L244.5 235.6 L251.9 240.5 L255.2 245.5 L262.5 247.4 L269 248 L277.3 246.3 L285.5 243 L292 240.5 L301.8 240.5 L310 240.5 L316.4 241.4 L332.7 241.4 L339.3 243.8 L344.2 248.7 L349 255.3 L354 260.2 L362.2 262.6 L373.6 263.5 L385 264.2 L400 264.8 L420 265.3 L440 265.5 L459.5 265.8" fill="none" stroke="#1a4a8a" stroke-opacity="0.9" stroke-width="1.8" stroke-linejoin="round"/>
<path d="M380 343.5 L457 344.3 M304 342.9 L380 343.7" fill="none" stroke="#1a6aa0" stroke-opacity="0.55" stroke-width="1.4" stroke-dasharray="3 1.5 6 2"/>
<g transform="translate(228.9,185.5) rotate(0.65)" stroke="#0e2a12" stroke-width="0.8">
<rect x="0" y="0" width="230.8" height="312.3" fill="none" stroke-width="1"/>
<line x1="76.9" y1="0" x2="76.9" y2="312.3"/>
<line x1="154.1" y1="0" x2="154.1" y2="312.3"/>
<line x1="0" y1="76.8" x2="76.9" y2="76.8"/>
<line x1="0" y1="157.4" x2="76.9" y2="157.4"/>
<line x1="0" y1="234.3" x2="76.9" y2="234.3"/>
<line x1="76.9" y1="79.8" x2="154.1" y2="79.8"/>
<line x1="76.9" y1="157.7" x2="154.1" y2="157.7"/>
<line x1="76.9" y1="234.7" x2="154.1" y2="234.7"/>
<line x1="154.1" y1="74.4" x2="230.8" y2="74.4"/>
<line x1="154.1" y1="80.9" x2="230.8" y2="80.9"/>
<line x1="154.1" y1="157.4" x2="230.8" y2="157.4"/>
<line x1="154.1" y1="234.7" x2="230.8" y2="234.7"/>
</g>
</g>
<g fill="none" stroke="#0a160a" stroke-width="0.75">
<rect x="233.7" y="215.5" width="3.6" height="3.6"/>
<rect x="285.3" y="201.1" width="3.6" height="3.6"/>
<rect x="285.3" y="212.6" width="3.6" height="3.6"/>
<rect x="285.3" y="223.7" width="3.6" height="3.6"/>
<rect x="285.3" y="235.5" width="3.6" height="3.6"/>
<rect x="259.9" y="261.7" width="3.6" height="3.6"/>
<rect x="270.6" y="261.7" width="3.6" height="3.6"/>
<rect x="281.2" y="261.7" width="3.6" height="3.6"/>
<rect x="293.2" y="261.7" width="3.6" height="3.6"/>
<rect x="305.7" y="224.8" width="3.6" height="3.6"/>
<rect x="316.2" y="226" width="3.6" height="3.6"/>
<rect x="327.2" y="227.6" width="3.6" height="3.6"/>
<rect x="338.8" y="229.7" width="3.6" height="3.6"/>
<rect x="344" y="240.4" width="3.6" height="3.6"/>
<rect x="355.2" y="240.4" width="3.6" height="3.6"/>
<rect x="366.9" y="240.4" width="3.6" height="3.6"/>
<rect x="378.4" y="240.1" width="3.6" height="3.6"/>
<rect x="341.6" y="267.9" width="3.6" height="3.6"/>
<rect x="353" y="268.2" width="3.6" height="3.6"/>
<rect x="364.5" y="269.1" width="3.6" height="3.6"/>
<rect x="375.9" y="269.6" width="3.6" height="3.6"/>
<rect x="417.2" y="196.5" width="3.6" height="3.6"/>
<rect x="418" y="208.5" width="3.6" height="3.6"/>
<rect x="429.7" y="232.5" width="3.6" height="3.6"/>
<rect x="428.2" y="243.7" width="3.6" height="3.6"/>
<rect x="426.5" y="254.8" width="3.6" height="3.6"/>
<rect x="257.5" y="330.9" width="3.6" height="3.6"/>
<rect x="269.7" y="331.7" width="3.6" height="3.6"/>
<rect x="280.9" y="333.1" width="3.6" height="3.6"/>
<rect x="291.8" y="333.4" width="3.6" height="3.6"/>
<rect x="376.4" y="303.9" width="3.6" height="3.6"/>
<rect x="375.9" y="315.4" width="3.6" height="3.6"/>
<rect x="375.1" y="327.2" width="3.6" height="3.6"/>
<rect x="375.1" y="339.1" width="3.6" height="3.6"/>
<rect x="425.7" y="271.5" width="3.6" height="3.6"/>
<rect x="425.7" y="282.7" width="3.6" height="3.6"/>
<rect x="426.5" y="293.8" width="3.6" height="3.6"/>
<rect x="428.2" y="305.9" width="3.6" height="3.6"/>
<rect x="406" y="312.4" width="3.6" height="3.6"/>
<rect x="402.4" y="323.6" width="3.6" height="3.6"/>
<rect x="398.3" y="334.5" width="3.6" height="3.6"/>
<rect x="291.8" y="345.5" width="3.6" height="3.6"/>
<rect x="292.7" y="357.4" width="3.6" height="3.6"/>
<rect x="291.5" y="368.4" width="3.6" height="3.6"/>
<rect x="291.5" y="379.8" width="3.6" height="3.6"/>
<rect x="297.9" y="378.2" width="3.6" height="3.6"/>
<rect x="297.9" y="389.7" width="3.6" height="3.6"/>
<rect x="296.4" y="400.6" width="3.6" height="3.6"/>
<rect x="295.9" y="412.6" width="3.6" height="3.6"/>
<rect x="328.5" y="349.6" width="3.6" height="3.6"/>
<rect x="328.5" y="360.5" width="3.6" height="3.6"/>
<rect x="328.5" y="372" width="3.6" height="3.6"/>
<rect x="328.5" y="384.2" width="3.6" height="3.6"/>
<rect x="350.9" y="389.7" width="3.6" height="3.6"/>
<rect x="350.9" y="400.8" width="3.6" height="3.6"/>
<rect x="351.4" y="412.6" width="3.6" height="3.6"/>
<rect x="375.6" y="339.7" width="3.6" height="3.6"/>
<rect x="402.4" y="348.7" width="3.6" height="3.6"/>
<rect x="402.7" y="359.4" width="3.6" height="3.6"/>
<rect x="402.7" y="371.7" width="3.6" height="3.6"/>
<rect x="394.6" y="378.2" width="3.6" height="3.6"/>
<rect x="403.6" y="383.9" width="3.6" height="3.6"/>
<rect x="392.6" y="390.5" width="3.6" height="3.6"/>
<rect x="391.3" y="401.1" width="3.6" height="3.6"/>
<rect x="389.3" y="413.1" width="3.6" height="3.6"/>
<rect x="277.9" y="423" width="3.6" height="3.6"/>
<rect x="261.6" y="432.8" width="3.6" height="3.6"/>
<rect x="277.9" y="434.5" width="3.6" height="3.6"/>
<rect x="261.6" y="443.5" width="3.6" height="3.6"/>
<rect x="277.9" y="445.1" width="3.6" height="3.6"/>
<rect x="261.6" y="467.2" width="3.6" height="3.6"/>
<rect x="308" y="426.3" width="3.6" height="3.6"/>
<rect x="319.5" y="426" width="3.6" height="3.6"/>
<rect x="330.6" y="425.5" width="3.6" height="3.6"/>
<rect x="342.4" y="425.5" width="3.6" height="3.6"/>
<rect x="345.7" y="435.6" width="3.6" height="3.6"/>
<rect x="355.5" y="432" width="3.6" height="3.6"/>
<rect x="366.1" y="429.1" width="3.6" height="3.6"/>
<rect x="377.6" y="425.5" width="3.6" height="3.6"/>
<rect x="221.9" y="216.5" width="3.6" height="3.6" stroke="#222"/>
<rect x="324.5" y="344.8" width="10.7" height="48.2" stroke-width="0.9"/>
</g>
<rect x="417.5" y="185.9" width="3.6" height="3" fill="#e8f0e8" stroke="#333" stroke-width="0.5"/>
<text x="262.5" y="223" text-anchor="middle" font-family="'Liberation Sans', Arial, sans-serif" font-weight="bold" font-size="10.2" fill="#fff" stroke="#2a3a2a" stroke-opacity="0.7" stroke-width="2" paint-order="stroke" stroke-linejoin="round" textLength="39" lengthAdjust="spacingAndGlyphs">RIL 2010</text>
<text x="345.8" y="223" text-anchor="middle" font-family="'Liberation Sans', Arial, sans-serif" font-weight="bold" font-size="10.2" fill="#fff" stroke="#2a3a2a" stroke-opacity="0.7" stroke-width="2" paint-order="stroke" stroke-linejoin="round" textLength="39.5" lengthAdjust="spacingAndGlyphs">RIL 2012</text>
<text x="423" y="224" text-anchor="middle" font-family="'Liberation Sans', Arial, sans-serif" font-weight="bold" font-size="10.2" fill="#fff" stroke="#2a3a2a" stroke-opacity="0.7" stroke-width="2" paint-order="stroke" stroke-linejoin="round" textLength="38.5" lengthAdjust="spacingAndGlyphs">RIL 2007</text>
<text x="259.3" y="302.2" text-anchor="middle" font-family="'Liberation Sans', Arial, sans-serif" font-weight="bold" font-size="10.2" fill="#fff" stroke="#2a3a2a" stroke-opacity="0.7" stroke-width="2" paint-order="stroke" stroke-linejoin="round" textLength="44.2" lengthAdjust="spacingAndGlyphs">Unlogged</text>
<text x="339.3" y="307" text-anchor="middle" font-family="'Liberation Sans', Arial, sans-serif" font-weight="bold" font-size="10.2" fill="#fff" stroke="#2a3a2a" stroke-opacity="0.7" stroke-width="2" paint-order="stroke" stroke-linejoin="round" textLength="39.4" lengthAdjust="spacingAndGlyphs">RIL 2012</text>
<text x="422.6" y="307.2" text-anchor="middle" font-family="'Liberation Sans', Arial, sans-serif" font-weight="bold" font-size="10.2" fill="#fff" stroke="#2a3a2a" stroke-opacity="0.7" stroke-width="2" paint-order="stroke" stroke-linejoin="round" textLength="39.2" lengthAdjust="spacingAndGlyphs">RIL 2006</text>
<text x="258.5" y="382.5" text-anchor="middle" font-family="'Liberation Sans', Arial, sans-serif" font-weight="bold" font-size="10.2" fill="#fff" stroke="#2a3a2a" stroke-opacity="0.7" stroke-width="2" paint-order="stroke" stroke-linejoin="round" textLength="39.3" lengthAdjust="spacingAndGlyphs">RIL 2013</text>
<text x="342.2" y="382.5" text-anchor="middle" font-family="'Liberation Sans', Arial, sans-serif" font-weight="bold" font-size="10.2" fill="#fff" stroke="#2a3a2a" stroke-opacity="0.7" stroke-width="2" paint-order="stroke" stroke-linejoin="round" textLength="38.4" lengthAdjust="spacingAndGlyphs">RIL 2008</text>
<text x="418.9" y="383.8" text-anchor="middle" font-family="'Liberation Sans', Arial, sans-serif" font-weight="bold" font-size="10.2" fill="#fff" stroke="#2a3a2a" stroke-opacity="0.7" stroke-width="2" paint-order="stroke" stroke-linejoin="round" textLength="38.5" lengthAdjust="spacingAndGlyphs">RIL 2008</text>
<text x="264.2" y="463.2" text-anchor="middle" font-family="'Liberation Sans', Arial, sans-serif" font-weight="bold" font-size="10.2" fill="#fff" stroke="#2a3a2a" stroke-opacity="0.7" stroke-width="2" paint-order="stroke" stroke-linejoin="round" textLength="39.3" lengthAdjust="spacingAndGlyphs">RIL 2010</text>
<text x="334.8" y="466.4" text-anchor="middle" font-family="'Liberation Sans', Arial, sans-serif" font-weight="bold" font-size="10.2" fill="#fff" stroke="#2a3a2a" stroke-opacity="0.7" stroke-width="2" paint-order="stroke" stroke-linejoin="round" textLength="38.5" lengthAdjust="spacingAndGlyphs">RIL 2007</text>
<text x="415.2" y="466.6" text-anchor="middle" font-family="'Liberation Sans', Arial, sans-serif" font-weight="bold" font-size="10.2" fill="#fff" stroke="#2a3a2a" stroke-opacity="0.7" stroke-width="2" paint-order="stroke" stroke-linejoin="round" textLength="44.2" lengthAdjust="spacingAndGlyphs">Unlogged</text>
<text x="240.5" y="203" font-family="'Liberation Sans', Arial, sans-serif" font-weight="bold" font-size="11" fill="#0f2a10" textLength="9.8" lengthAdjust="spacingAndGlyphs">D)</text>
<rect x="221.4" y="185.5" width="242.1" height="314.7" fill="none" stroke="#333" stroke-width="0.9"/>
<line x1="213" y1="207.5" x2="221.4" y2="207.5" stroke="#333" stroke-width="0.9"/>
<text transform="translate(202.6,207.5) rotate(-90)" text-anchor="middle" font-family="'Liberation Sans', Arial, sans-serif" font-size="7.6" fill="#222" textLength="31" lengthAdjust="spacingAndGlyphs">9587000</text>
<line x1="213" y1="284.3" x2="221.4" y2="284.3" stroke="#333" stroke-width="0.9"/>
<text transform="translate(202.6,284.3) rotate(-90)" text-anchor="middle" font-family="'Liberation Sans', Arial, sans-serif" font-size="7.6" fill="#222" textLength="31" lengthAdjust="spacingAndGlyphs">9586000</text>
<line x1="213" y1="361.1" x2="221.4" y2="361.1" stroke="#333" stroke-width="0.9"/>
<text transform="translate(202.6,361.1) rotate(-90)" text-anchor="middle" font-family="'Liberation Sans', Arial, sans-serif" font-size="7.6" fill="#222" textLength="31" lengthAdjust="spacingAndGlyphs">9585000</text>
<line x1="213" y1="438" x2="221.4" y2="438" stroke="#333" stroke-width="0.9"/>
<text transform="translate(202.6,438) rotate(-90)" text-anchor="middle" font-family="'Liberation Sans', Arial, sans-serif" font-size="7.6" fill="#222" textLength="31" lengthAdjust="spacingAndGlyphs">9584000</text>
<line x1="252" y1="500.2" x2="252" y2="507.5" stroke="#444" stroke-width="0.9"/>
<text x="252" y="528" text-anchor="middle" font-family="'Liberation Sans', Arial, sans-serif" font-size="8.6" fill="#222" textLength="25.5" lengthAdjust="spacingAndGlyphs">778500</text>
<line x1="290.4" y1="500.2" x2="290.4" y2="507.5" stroke="#444" stroke-width="0.9"/>
<text x="290.4" y="528" text-anchor="middle" font-family="'Liberation Sans', Arial, sans-serif" font-size="8.6" fill="#222" textLength="25.5" lengthAdjust="spacingAndGlyphs">779000</text>
<line x1="328.9" y1="500.2" x2="328.9" y2="507.5" stroke="#444" stroke-width="0.9"/>
<text x="328.9" y="528" text-anchor="middle" font-family="'Liberation Sans', Arial, sans-serif" font-size="8.6" fill="#222" textLength="25.5" lengthAdjust="spacingAndGlyphs">779500</text>
<line x1="367.4" y1="500.2" x2="367.4" y2="507.5" stroke="#444" stroke-width="0.9"/>
<text x="367.4" y="528" text-anchor="middle" font-family="'Liberation Sans', Arial, sans-serif" font-size="8.6" fill="#222" textLength="25.5" lengthAdjust="spacingAndGlyphs">780000</text>
<line x1="405.8" y1="500.2" x2="405.8" y2="507.5" stroke="#444" stroke-width="0.9"/>
<text x="405.8" y="528" text-anchor="middle" font-family="'Liberation Sans', Arial, sans-serif" font-size="8.6" fill="#222" textLength="25.5" lengthAdjust="spacingAndGlyphs">780500</text>
<line x1="444.2" y1="500.2" x2="444.2" y2="507.5" stroke="#444" stroke-width="0.9"/>
<text x="444.2" y="528" text-anchor="middle" font-family="'Liberation Sans', Arial, sans-serif" font-size="8.6" fill="#222" textLength="25.5" lengthAdjust="spacingAndGlyphs">781000</text>
<defs><clipPath id="cE"><rect x="51.4" y="182.8" width="138.8" height="309.5"/></clipPath></defs>
<filter id="soft" x="-2%" y="-2%" width="104%" height="104%"><feGaussianBlur stdDeviation="0.45"/></filter>
<g clip-path="url(#cE)"><g filter="url(#soft)">
<rect x="51.4" y="182.8" width="138.8" height="309.5" fill="#26b03c"/>
<ellipse cx="169.5" cy="241.8" rx="6.8" ry="7.4" fill="#1c8070"/><circle cx="167.9" cy="245.3" r="2.5" fill="#1c8070"/><circle cx="174.2" cy="244.3" r="2" fill="#1c8070"/><circle cx="174.3" cy="243.8" r="1.6" fill="#1c8070"/><circle cx="166.5" cy="243.3" r="1.6" fill="#1c8070"/><circle cx="163.8" cy="245" r="1.7" fill="#1c8070"/><circle cx="170.4" cy="247.8" r="2.9" fill="#1c8070"/><circle cx="165.4" cy="239.4" r="3" fill="#1c8070"/><circle cx="175.8" cy="243.9" r="1.9" fill="#1c8070"/><circle cx="171.6" cy="244.8" r="2" fill="#1c8070"/><circle cx="171" cy="238.1" r="2.4" fill="#1c8070"/><circle cx="166.6" cy="238" r="2.3" fill="#1c8070"/><circle cx="172.5" cy="243.2" r="1.8" fill="#1c8070"/><circle cx="167.5" cy="237.1" r="2" fill="#1c8070"/><circle cx="165.3" cy="239.1" r="1.9" fill="#1c8070"/><circle cx="171.1" cy="235.6" r="1.9" fill="#1c8070"/><circle cx="164.9" cy="239.3" r="2.8" fill="#1c8070"/><circle cx="169" cy="237.3" r="3" fill="#1c8070"/><circle cx="173" cy="245.3" r="2.6" fill="#1c8070"/><circle cx="172.4" cy="246.3" r="1.6" fill="#1c8070"/><circle cx="166.5" cy="235.9" r="2.4" fill="#1c8070"/>
<circle cx="172.3" cy="238.7" r="2" fill="#1c4cb4"/>
<circle cx="163.1" cy="241.9" r="1.3" fill="#1c4cb4"/>
<circle cx="174.1" cy="240" r="2" fill="#1c4cb4"/>
<circle cx="169" cy="237.5" r="1.9" fill="#1c4cb4"/>
<circle cx="171.2" cy="238.1" r="1.7" fill="#1c4cb4"/>
<circle cx="165.5" cy="248" r="1.6" fill="#1c4cb4"/>
<circle cx="170.8" cy="243.1" r="2.1" fill="#1c4cb4"/>
<circle cx="169.2" cy="236.9" r="2.3" fill="#1c8070"/>
<circle cx="173.7" cy="244.3" r="1.9" fill="#1c4cb4"/>
<circle cx="172.3" cy="235.2" r="1.5" fill="#1c8070"/>
<ellipse cx="162" cy="297" rx="14.8" ry="10.3" fill="#1c8070"/><circle cx="174.7" cy="296.2" r="3.2" fill="#1c8070"/><circle cx="162.9" cy="302.1" r="2.6" fill="#1c8070"/><circle cx="158.4" cy="293.1" r="4.2" fill="#1c8070"/><circle cx="165.8" cy="302.8" r="2.6" fill="#1c8070"/><circle cx="150.2" cy="295.2" r="3" fill="#1c8070"/><circle cx="172.1" cy="304.1" r="4.5" fill="#1c8070"/><circle cx="154.5" cy="289.3" r="3.4" fill="#1c8070"/><circle cx="172.5" cy="289.3" r="3.9" fill="#1c8070"/><circle cx="152.5" cy="294.4" r="3.2" fill="#1c8070"/><circle cx="151.8" cy="297.8" r="2.7" fill="#1c8070"/><circle cx="172.5" cy="296.3" r="2.6" fill="#1c8070"/><circle cx="155.9" cy="293.9" r="3.6" fill="#1c8070"/><circle cx="147.2" cy="294.6" r="3.7" fill="#1c8070"/><circle cx="169.7" cy="299.5" r="3.2" fill="#1c8070"/><circle cx="151.9" cy="289" r="3.7" fill="#1c8070"/><circle cx="154.5" cy="297.9" r="3.4" fill="#1c8070"/><circle cx="172.9" cy="295.9" r="3" fill="#1c8070"/><circle cx="170.3" cy="304.3" r="4" fill="#1c8070"/><circle cx="149.2" cy="298.2" r="3.5" fill="#1c8070"/><circle cx="166.2" cy="307.2" r="3.1" fill="#1c8070"/><circle cx="156.5" cy="287.3" r="4" fill="#1c8070"/><circle cx="158.3" cy="305.3" r="2.5" fill="#1c8070"/><circle cx="168.4" cy="290.5" r="4.4" fill="#1c8070"/><circle cx="156.7" cy="301.7" r="3.5" fill="#1c8070"/><circle cx="149.6" cy="296.9" r="3.7" fill="#1c8070"/><circle cx="165.2" cy="287.9" r="2.7" fill="#1c8070"/><circle cx="162.7" cy="304.1" r="4.1" fill="#1c8070"/><circle cx="165.4" cy="304.3" r="4" fill="#1c8070"/><circle cx="175.7" cy="296.4" r="3.4" fill="#1c8070"/><circle cx="166.2" cy="304.9" r="3.1" fill="#1c8070"/><circle cx="166.7" cy="288.4" r="3.1" fill="#1c8070"/><circle cx="169.2" cy="296.2" r="2.5" fill="#1c8070"/><circle cx="152.5" cy="298.3" r="3.4" fill="#1c8070"/><circle cx="174.1" cy="296.2" r="2.3" fill="#1c8070"/><circle cx="170.2" cy="293.3" r="3.8" fill="#1c8070"/><circle cx="165.9" cy="292.4" r="3.2" fill="#1c8070"/><circle cx="160" cy="291.3" r="4.3" fill="#1c8070"/><circle cx="150.7" cy="300.5" r="2.5" fill="#1c8070"/><circle cx="174.4" cy="294" r="3.4" fill="#1c8070"/><circle cx="161.7" cy="291.9" r="2.7" fill="#1c8070"/><circle cx="168.8" cy="296.8" r="3.7" fill="#1c8070"/><circle cx="149.7" cy="298.9" r="3.7" fill="#1c8070"/><circle cx="153" cy="292.7" r="4.5" fill="#1c8070"/><circle cx="168.5" cy="303.7" r="2.3" fill="#1c8070"/><circle cx="166" cy="288.2" r="2.5" fill="#1c8070"/><circle cx="162" cy="291.5" r="4.6" fill="#1c8070"/><circle cx="166.9" cy="306.5" r="2.4" fill="#1c8070"/><circle cx="164.6" cy="304.6" r="4.1" fill="#1c8070"/><circle cx="156.7" cy="304.1" r="4.2" fill="#1c8070"/><circle cx="174.4" cy="300.5" r="4.4" fill="#1c8070"/><circle cx="154.7" cy="288.7" r="3.5" fill="#1c8070"/><circle cx="168.8" cy="288" r="2.6" fill="#1c8070"/><circle cx="168.5" cy="303.4" r="4.3" fill="#1c8070"/><circle cx="164" cy="288.7" r="4.1" fill="#1c8070"/><circle cx="166.6" cy="301.4" r="3.7" fill="#1c8070"/><circle cx="167.2" cy="300.4" r="3.9" fill="#1c8070"/><circle cx="151.2" cy="295.5" r="4.1" fill="#1c8070"/><circle cx="167.3" cy="293.7" r="2.7" fill="#1c8070"/><circle cx="169.2" cy="298.4" r="3.3" fill="#1c8070"/><circle cx="176.5" cy="298.8" r="2.4" fill="#1c8070"/><circle cx="154.9" cy="306.6" r="3.7" fill="#1c8070"/><circle cx="164.8" cy="303" r="3.5" fill="#1c8070"/><circle cx="166" cy="289.7" r="2.9" fill="#1c8070"/>
<circle cx="147.5" cy="295.5" r="2.3" fill="#1c4cb4"/>
<circle cx="167.5" cy="293.9" r="1.7" fill="#1c8070"/>
<circle cx="169.5" cy="302" r="1.3" fill="#1c4cb4"/>
<circle cx="155.5" cy="299.2" r="1.6" fill="#1c4cb4"/>
<circle cx="166.9" cy="294.4" r="2.1" fill="#1c4cb4"/>
<circle cx="156.7" cy="301.1" r="1.4" fill="#1c8070"/>
<circle cx="164.9" cy="307.5" r="1.7" fill="#1c8070"/>
<circle cx="168.7" cy="304.6" r="1.5" fill="#1c4cb4"/>
<circle cx="151.8" cy="300.3" r="1.6" fill="#1c4cb4"/>
<circle cx="159" cy="299.6" r="1.6" fill="#1c8070"/>
<circle cx="152.2" cy="294.6" r="1.2" fill="#1c8070"/>
<circle cx="153.5" cy="296.4" r="2.4" fill="#1c4cb4"/>
<circle cx="175.9" cy="296.1" r="2.4" fill="#1c4cb4"/>
<circle cx="169.1" cy="299.9" r="2.3" fill="#1c4cb4"/>
<circle cx="161.3" cy="300.9" r="1.7" fill="#1c4cb4"/>
<circle cx="165.3" cy="292" r="1.4" fill="#1c4cb4"/>
<circle cx="150.2" cy="293.1" r="1.3" fill="#1c4cb4"/>
<circle cx="164.1" cy="292.5" r="2.3" fill="#1c8070"/>
<circle cx="173.6" cy="293.7" r="2.2" fill="#1c4cb4"/>
<circle cx="156.3" cy="293.8" r="1.5" fill="#1c4cb4"/>
<circle cx="153.3" cy="298.8" r="1.9" fill="#1c8070"/>
<circle cx="159.6" cy="295.4" r="2.1" fill="#1c4cb4"/>
<circle cx="169.9" cy="295.9" r="1.4" fill="#1c8070"/>
<circle cx="154.1" cy="291.2" r="1.4" fill="#1c8070"/>
<circle cx="155.4" cy="297" r="1.6" fill="#1c4cb4"/>
<circle cx="165" cy="296.9" r="1.2" fill="#1c4cb4"/>
<circle cx="155.5" cy="295.5" r="1.8" fill="#1c8070"/>
<circle cx="173.1" cy="303.1" r="1.7" fill="#1c8070"/>
<circle cx="147.8" cy="294.1" r="2.4" fill="#1c8070"/>
<circle cx="156.1" cy="287" r="1.6" fill="#1c4cb4"/>
<circle cx="161.2" cy="293" r="2.4" fill="#1c4cb4"/>
<ellipse cx="64" cy="343.5" rx="8.1" ry="4" fill="#1c8070"/><circle cx="65.9" cy="341.9" r="1.5" fill="#1c8070"/><circle cx="68.2" cy="341.5" r="0.9" fill="#1c8070"/><circle cx="61.2" cy="341.1" r="1.4" fill="#1c8070"/><circle cx="70.5" cy="342.9" r="1.5" fill="#1c8070"/><circle cx="68.3" cy="344.1" r="1.1" fill="#1c8070"/><circle cx="69.4" cy="343.6" r="1.2" fill="#1c8070"/><circle cx="69.2" cy="343.3" r="0.9" fill="#1c8070"/><circle cx="67.5" cy="341.9" r="1.1" fill="#1c8070"/><circle cx="61.9" cy="345.2" r="1.2" fill="#1c8070"/><circle cx="61.3" cy="341.5" r="1.6" fill="#1c8070"/><circle cx="70.4" cy="345.6" r="1" fill="#1c8070"/><circle cx="59.3" cy="342.1" r="1.2" fill="#1c8070"/><circle cx="61.2" cy="342" r="1.8" fill="#1c8070"/>
<circle cx="66" cy="342.2" r="2.3" fill="#1c4cb4"/>
<circle cx="60.2" cy="345.1" r="2.4" fill="#1c4cb4"/>
<circle cx="62.6" cy="346.8" r="1.4" fill="#1c4cb4"/>
<circle cx="69.3" cy="341.4" r="2.1" fill="#1c4cb4"/>
<circle cx="68" cy="345.9" r="1.8" fill="#1c4cb4"/>
<circle cx="67" cy="340.6" r="2.3" fill="#1c4cb4"/>
<ellipse cx="111.5" cy="349" rx="4" ry="8.1" fill="#1c8070"/><circle cx="114.8" cy="347.2" r="1" fill="#1c8070"/><circle cx="114.8" cy="350.8" r="1.8" fill="#1c8070"/><circle cx="109.4" cy="353.1" r="0.9" fill="#1c8070"/><circle cx="114.6" cy="349.7" r="1.1" fill="#1c8070"/><circle cx="111.2" cy="354.8" r="1" fill="#1c8070"/><circle cx="115.2" cy="345.7" r="1" fill="#1c8070"/><circle cx="107.9" cy="347.8" r="1.3" fill="#1c8070"/><circle cx="112.9" cy="341.7" r="1.1" fill="#1c8070"/><circle cx="111.6" cy="344.3" r="1.5" fill="#1c8070"/><circle cx="107.7" cy="350.9" r="1" fill="#1c8070"/><circle cx="113.6" cy="346.3" r="0.9" fill="#1c8070"/><circle cx="110" cy="345.6" r="1.4" fill="#1c8070"/><circle cx="109.8" cy="354.9" r="1.5" fill="#1c8070"/>
<circle cx="110.4" cy="346.8" r="1.8" fill="#1c8070"/>
<circle cx="111.1" cy="356" r="2" fill="#1c4cb4"/>
<circle cx="107.9" cy="349.5" r="1.5" fill="#1c8070"/>
<circle cx="110.1" cy="349.6" r="2.3" fill="#1c4cb4"/>
<circle cx="111" cy="351.3" r="1.8" fill="#1c8070"/>
<circle cx="107.8" cy="351" r="2.4" fill="#1c8070"/>
<ellipse cx="89.5" cy="449.7" rx="5.9" ry="5.7" fill="#1c4cb4"/><circle cx="93.5" cy="449.6" r="2.4" fill="#1c4cb4"/><circle cx="92.1" cy="448.5" r="1.4" fill="#1c4cb4"/><circle cx="89.4" cy="446.3" r="1.7" fill="#1c4cb4"/><circle cx="85.6" cy="446.9" r="1.6" fill="#1c4cb4"/><circle cx="92.5" cy="452.2" r="1.9" fill="#1c4cb4"/><circle cx="92.4" cy="447" r="1.5" fill="#1c4cb4"/><circle cx="94.3" cy="448.2" r="1.8" fill="#1c4cb4"/><circle cx="88.9" cy="445.8" r="1.7" fill="#1c4cb4"/><circle cx="92.2" cy="452.2" r="1.7" fill="#1c4cb4"/><circle cx="87.4" cy="453" r="2.4" fill="#1c4cb4"/><circle cx="90.4" cy="452.1" r="2.2" fill="#1c4cb4"/><circle cx="89.4" cy="452.4" r="1.8" fill="#1c4cb4"/><circle cx="91.5" cy="447.7" r="2.4" fill="#1c4cb4"/>
<circle cx="89.7" cy="444.2" r="1.5" fill="#1c4cb4"/>
<circle cx="91.2" cy="446.9" r="2.3" fill="#1c4cb4"/>
<circle cx="93.5" cy="449" r="1.6" fill="#1c8070"/>
<circle cx="90.4" cy="445.9" r="1.2" fill="#1c4cb4"/>
<circle cx="84.8" cy="453" r="1.9" fill="#1c4cb4"/>
<circle cx="89.2" cy="448.4" r="2.1" fill="#1c8070"/>
<ellipse cx="151.8" cy="431" rx="8.1" ry="25.7" fill="#1c8070"/><circle cx="148.6" cy="422" r="3.4" fill="#1c8070"/><circle cx="143.7" cy="433.3" r="2.8" fill="#1c8070"/><circle cx="154.5" cy="446.7" r="2.3" fill="#1c8070"/><circle cx="151.5" cy="454" r="3" fill="#1c8070"/><circle cx="147.8" cy="439.4" r="2.7" fill="#1c8070"/><circle cx="149.8" cy="419.4" r="3" fill="#1c8070"/><circle cx="157.2" cy="439.8" r="3.3" fill="#1c8070"/><circle cx="146.2" cy="425.2" r="2.4" fill="#1c8070"/><circle cx="152.1" cy="412.9" r="2.8" fill="#1c8070"/><circle cx="152" cy="445.1" r="2.8" fill="#1c8070"/><circle cx="149.5" cy="446.6" r="3.3" fill="#1c8070"/><circle cx="152.9" cy="442.2" r="3.4" fill="#1c8070"/><circle cx="146.4" cy="446.5" r="2.2" fill="#1c8070"/><circle cx="150.9" cy="454" r="2.7" fill="#1c8070"/><circle cx="147" cy="423.3" r="3" fill="#1c8070"/><circle cx="144.4" cy="426.7" r="3.3" fill="#1c8070"/><circle cx="158.5" cy="445" r="2.5" fill="#1c8070"/><circle cx="148.3" cy="416.6" r="2.4" fill="#1c8070"/><circle cx="155.1" cy="406.6" r="2" fill="#1c8070"/><circle cx="145.2" cy="441.6" r="3.2" fill="#1c8070"/><circle cx="157.7" cy="427.2" r="1.9" fill="#1c8070"/><circle cx="159.2" cy="420" r="2.8" fill="#1c8070"/><circle cx="146.1" cy="434.7" r="3.2" fill="#1c8070"/><circle cx="152.5" cy="444.6" r="3.5" fill="#1c8070"/><circle cx="157.8" cy="446.4" r="3.1" fill="#1c8070"/><circle cx="156.4" cy="410.1" r="2" fill="#1c8070"/><circle cx="152.4" cy="419.7" r="2" fill="#1c8070"/><circle cx="148.4" cy="425.9" r="3.1" fill="#1c8070"/><circle cx="158.3" cy="426" r="2.8" fill="#1c8070"/><circle cx="145" cy="440" r="2" fill="#1c8070"/><circle cx="149.2" cy="455.9" r="2.1" fill="#1c8070"/><circle cx="151.3" cy="454.7" r="1.8" fill="#1c8070"/><circle cx="143.5" cy="424.7" r="2.3" fill="#1c8070"/><circle cx="148.7" cy="453.5" r="2.2" fill="#1c8070"/><circle cx="145.6" cy="427.7" r="1.9" fill="#1c8070"/><circle cx="146" cy="442.4" r="1.9" fill="#1c8070"/><circle cx="154.5" cy="454.7" r="3" fill="#1c8070"/><circle cx="155.9" cy="438.3" r="2.6" fill="#1c8070"/><circle cx="147.7" cy="444.9" r="3.1" fill="#1c8070"/><circle cx="150.7" cy="414.3" r="2.5" fill="#1c8070"/><circle cx="156.8" cy="431.7" r="3.3" fill="#1c8070"/><circle cx="157.3" cy="438.9" r="2.2" fill="#1c8070"/><circle cx="152.3" cy="416.6" r="2.6" fill="#1c8070"/><circle cx="151" cy="456.2" r="2" fill="#1c8070"/><circle cx="147.1" cy="416.3" r="3.4" fill="#1c8070"/><circle cx="143.7" cy="433.4" r="1.9" fill="#1c8070"/><circle cx="145" cy="416.5" r="1.9" fill="#1c8070"/><circle cx="158.3" cy="434.1" r="2.5" fill="#1c8070"/><circle cx="150.7" cy="417.2" r="2.6" fill="#1c8070"/><circle cx="150.6" cy="415.1" r="2" fill="#1c8070"/><circle cx="155.7" cy="437.7" r="2.1" fill="#1c8070"/><circle cx="148.2" cy="414.9" r="2.6" fill="#1c8070"/><circle cx="149.1" cy="452.1" r="3.3" fill="#1c8070"/><circle cx="157.6" cy="429.3" r="2" fill="#1c8070"/><circle cx="155.3" cy="437" r="2.6" fill="#1c8070"/><circle cx="156.6" cy="417.7" r="3.2" fill="#1c8070"/><circle cx="146.4" cy="447" r="2.4" fill="#1c8070"/><circle cx="153.1" cy="419" r="3.1" fill="#1c8070"/><circle cx="153.9" cy="449.7" r="2.6" fill="#1c8070"/><circle cx="148.6" cy="451.6" r="2.7" fill="#1c8070"/><circle cx="148.5" cy="419.7" r="2.9" fill="#1c8070"/><circle cx="147.3" cy="440.7" r="2.6" fill="#1c8070"/><circle cx="153.1" cy="419.3" r="2.2" fill="#1c8070"/><circle cx="157.9" cy="439" r="2.5" fill="#1c8070"/><circle cx="147.6" cy="453.7" r="1.9" fill="#1c8070"/><circle cx="151.6" cy="408.8" r="3.5" fill="#1c8070"/><circle cx="149.7" cy="452.7" r="2.9" fill="#1c8070"/><circle cx="154.6" cy="406.4" r="1.9" fill="#1c8070"/><circle cx="153.7" cy="419.4" r="3.1" fill="#1c8070"/><circle cx="144.5" cy="436" r="3.2" fill="#1c8070"/><circle cx="158.3" cy="418.5" r="2" fill="#1c8070"/><circle cx="148.2" cy="431.3" r="3.5" fill="#1c8070"/><circle cx="149.5" cy="452" r="2.1" fill="#1c8070"/><circle cx="152.5" cy="455.8" r="2.6" fill="#1c8070"/><circle cx="153.2" cy="410.7" r="2.7" fill="#1c8070"/><circle cx="148.4" cy="439.8" r="2.5" fill="#1c8070"/><circle cx="148.3" cy="415.7" r="2.8" fill="#1c8070"/><circle cx="154.8" cy="446.3" r="2" fill="#1c8070"/><circle cx="157.8" cy="440.3" r="2.2" fill="#1c8070"/><circle cx="144.3" cy="443.8" r="3.5" fill="#1c8070"/><circle cx="153.8" cy="442.9" r="2.6" fill="#1c8070"/><circle cx="155.5" cy="421.5" r="2.8" fill="#1c8070"/><circle cx="152.9" cy="408" r="3.2" fill="#1c8070"/><circle cx="150.4" cy="446.2" r="2.3" fill="#1c8070"/><circle cx="151.7" cy="446.5" r="2.6" fill="#1c8070"/>
<circle cx="153.4" cy="443.1" r="1.5" fill="#1c4cb4"/>
<circle cx="152.6" cy="437.4" r="1.5" fill="#1c4cb4"/>
<circle cx="147.7" cy="430.4" r="2.2" fill="#1c4cb4"/>
<circle cx="150.2" cy="432.2" r="1.2" fill="#1c4cb4"/>
<circle cx="156.2" cy="409.2" r="1.2" fill="#1c8070"/>
<circle cx="152" cy="437" r="1.9" fill="#1c4cb4"/>
<circle cx="152.6" cy="438" r="1.8" fill="#1c4cb4"/>
<circle cx="147.7" cy="435.3" r="2.1" fill="#1c4cb4"/>
<circle cx="157" cy="443.9" r="1.9" fill="#1c4cb4"/>
<circle cx="156.6" cy="434.7" r="1.3" fill="#1c8070"/>
<circle cx="158.9" cy="436.5" r="2.3" fill="#1c4cb4"/>
<circle cx="154.1" cy="415.3" r="1.6" fill="#1c4cb4"/>
<circle cx="150.3" cy="442.3" r="2.2" fill="#1c4cb4"/>
<circle cx="146.4" cy="432.8" r="2.2" fill="#1c4cb4"/>
<circle cx="145.3" cy="424.3" r="1.3" fill="#1c4cb4"/>
<circle cx="148.2" cy="439.4" r="2.4" fill="#1c4cb4"/>
<circle cx="148.8" cy="455.7" r="1.6" fill="#1c4cb4"/>
<circle cx="155.9" cy="419.4" r="1.2" fill="#1c8070"/>
<circle cx="148.5" cy="417.7" r="1.7" fill="#1c4cb4"/>
<circle cx="148.7" cy="435.3" r="1.3" fill="#1c4cb4"/>
<circle cx="145.1" cy="445.1" r="1.8" fill="#1c4cb4"/>
<circle cx="153.1" cy="435.5" r="1.4" fill="#1c8070"/>
<circle cx="157.5" cy="442.3" r="1.6" fill="#1c4cb4"/>
<circle cx="154.2" cy="445.1" r="1.4" fill="#1c4cb4"/>
<circle cx="154.3" cy="427" r="1.8" fill="#1c4cb4"/>
<circle cx="149.3" cy="454.5" r="1.3" fill="#1c8070"/>
<circle cx="149.2" cy="450.4" r="2" fill="#1c4cb4"/>
<circle cx="157.4" cy="418.9" r="2.2" fill="#1c4cb4"/>
<circle cx="146.8" cy="411.7" r="1.9" fill="#1c4cb4"/>
<circle cx="156.2" cy="410.7" r="1.4" fill="#1c4cb4"/>
<circle cx="159.8" cy="437.8" r="1.4" fill="#1c8070"/>
<circle cx="154.8" cy="440.4" r="2.1" fill="#1c4cb4"/>
<circle cx="158" cy="436.2" r="2.1" fill="#1c4cb4"/>
<circle cx="149.4" cy="417.6" r="1.7" fill="#1c8070"/>
<circle cx="145.4" cy="424.4" r="1.6" fill="#1c8070"/>
<circle cx="150.3" cy="443.6" r="1.7" fill="#1c8070"/>
<circle cx="146.5" cy="436.9" r="1.2" fill="#1c4cb4"/>
<circle cx="157.6" cy="429.4" r="1.7" fill="#1c4cb4"/>
<circle cx="152.9" cy="413" r="1.4" fill="#1c8070"/>
<circle cx="150" cy="435.1" r="1.6" fill="#1c8070"/>
<circle cx="156.6" cy="440.8" r="1.8" fill="#1c4cb4"/>
<circle cx="154.8" cy="433.5" r="2.3" fill="#1c8070"/>
<ellipse cx="128" cy="416.5" rx="6.3" ry="6.8" fill="#1c4cb4"/><circle cx="128.8" cy="411.5" r="1.5" fill="#1c4cb4"/><circle cx="123.7" cy="416.4" r="2.7" fill="#1c4cb4"/><circle cx="132" cy="421.4" r="2.8" fill="#1c4cb4"/><circle cx="127.3" cy="410.2" r="1.7" fill="#1c4cb4"/><circle cx="132.7" cy="415.9" r="2.7" fill="#1c4cb4"/><circle cx="131" cy="414.6" r="2.5" fill="#1c4cb4"/><circle cx="130.8" cy="415.1" r="1.9" fill="#1c4cb4"/><circle cx="128.1" cy="412.8" r="2.7" fill="#1c4cb4"/><circle cx="127.1" cy="422.8" r="1.6" fill="#1c4cb4"/><circle cx="121.7" cy="416.4" r="1.7" fill="#1c4cb4"/><circle cx="127.6" cy="421.6" r="1.8" fill="#1c4cb4"/><circle cx="131.4" cy="417.4" r="1.6" fill="#1c4cb4"/><circle cx="133" cy="414.2" r="2.7" fill="#1c4cb4"/><circle cx="130.8" cy="421.9" r="1.6" fill="#1c4cb4"/><circle cx="122.8" cy="415.4" r="1.9" fill="#1c4cb4"/><circle cx="131.4" cy="412.7" r="2.2" fill="#1c4cb4"/><circle cx="130.4" cy="414.2" r="2.8" fill="#1c4cb4"/>
<circle cx="125.1" cy="413.2" r="2.2" fill="#1c8070"/>
<circle cx="125.1" cy="419.5" r="1.4" fill="#1c8070"/>
<circle cx="128.4" cy="411.8" r="1.4" fill="#1c4cb4"/>
<circle cx="131.5" cy="415.5" r="1.8" fill="#1c8070"/>
<circle cx="123.8" cy="411.1" r="1.9" fill="#1c4cb4"/>
<circle cx="132.5" cy="412.8" r="2.1" fill="#1c4cb4"/>
<circle cx="131.1" cy="421" r="1.7" fill="#1c4cb4"/>
<circle cx="127" cy="417.7" r="1.8" fill="#1c4cb4"/>
<ellipse cx="167" cy="446.6" rx="6.8" ry="6.3" fill="#1830d8"/><circle cx="165.2" cy="444.2" r="1.4" fill="#1830d8"/><circle cx="164.9" cy="449.1" r="1.9" fill="#1830d8"/><circle cx="167.9" cy="451.6" r="2.2" fill="#1830d8"/><circle cx="168.6" cy="451.6" r="2.1" fill="#1830d8"/><circle cx="171.6" cy="451.4" r="1.7" fill="#1830d8"/><circle cx="169" cy="449.2" r="2.3" fill="#1830d8"/><circle cx="171.4" cy="442.4" r="2" fill="#1830d8"/><circle cx="166.7" cy="449.4" r="2.3" fill="#1830d8"/><circle cx="162.8" cy="445" r="2.3" fill="#1830d8"/><circle cx="160.5" cy="448.8" r="2.4" fill="#1830d8"/><circle cx="167.1" cy="452.9" r="1.5" fill="#1830d8"/><circle cx="162.4" cy="445.7" r="1.7" fill="#1830d8"/><circle cx="172.9" cy="448.7" r="1.4" fill="#1830d8"/><circle cx="160.4" cy="444.6" r="1.6" fill="#1830d8"/><circle cx="168.7" cy="451.5" r="2.1" fill="#1830d8"/><circle cx="162.9" cy="442" r="1.6" fill="#1830d8"/><circle cx="165.4" cy="450.3" r="1.5" fill="#1830d8"/>
<circle cx="171.9" cy="442.8" r="2.1" fill="#1c4cb4"/>
<circle cx="163.6" cy="449.7" r="2.3" fill="#1c4cb4"/>
<circle cx="166.7" cy="442.1" r="1.5" fill="#1c4cb4"/>
<circle cx="166.6" cy="451.9" r="1.3" fill="#1830d8"/>
<circle cx="173.3" cy="443.7" r="1.5" fill="#1c4cb4"/>
<circle cx="166.5" cy="451.5" r="1.7" fill="#1830d8"/>
<circle cx="170.9" cy="446" r="2.3" fill="#1c4cb4"/>
<circle cx="171.4" cy="449" r="1.4" fill="#1c4cb4"/>
<ellipse cx="159.5" cy="465.3" rx="12.6" ry="11.4" fill="#1c8070"/><circle cx="163.4" cy="459.9" r="2.9" fill="#1c8070"/><circle cx="165.6" cy="462" r="3.5" fill="#1c8070"/><circle cx="152.6" cy="460.7" r="4.7" fill="#1c8070"/><circle cx="171.1" cy="459.7" r="4.7" fill="#1c8070"/><circle cx="150.5" cy="463.4" r="3.9" fill="#1c8070"/><circle cx="165.3" cy="465.5" r="5" fill="#1c8070"/><circle cx="160.8" cy="476.5" r="4.5" fill="#1c8070"/><circle cx="151.6" cy="471.1" r="4" fill="#1c8070"/><circle cx="162.3" cy="470" r="2.8" fill="#1c8070"/><circle cx="154.6" cy="461" r="5" fill="#1c8070"/><circle cx="157.7" cy="460.3" r="2.9" fill="#1c8070"/><circle cx="155.8" cy="461.1" r="2.7" fill="#1c8070"/><circle cx="171.2" cy="468.5" r="4.5" fill="#1c8070"/><circle cx="163.6" cy="476.5" r="3.9" fill="#1c8070"/><circle cx="153.1" cy="455.7" r="4.5" fill="#1c8070"/><circle cx="157.4" cy="457.8" r="3.2" fill="#1c8070"/><circle cx="161.2" cy="470.4" r="5" fill="#1c8070"/><circle cx="169.2" cy="459.8" r="2.8" fill="#1c8070"/><circle cx="159.6" cy="455.8" r="3.8" fill="#1c8070"/><circle cx="167.4" cy="473.2" r="4.2" fill="#1c8070"/><circle cx="157.2" cy="472.4" r="3.2" fill="#1c8070"/><circle cx="151.9" cy="474.6" r="2.7" fill="#1c8070"/><circle cx="160.3" cy="453.9" r="4.5" fill="#1c8070"/><circle cx="152.1" cy="460.3" r="3.3" fill="#1c8070"/><circle cx="159.2" cy="454.7" r="2.6" fill="#1c8070"/><circle cx="153.2" cy="464.6" r="3.7" fill="#1c8070"/><circle cx="169" cy="468" r="4.4" fill="#1c8070"/><circle cx="164.2" cy="457.3" r="3.3" fill="#1c8070"/><circle cx="150.6" cy="468.7" r="3.3" fill="#1c8070"/><circle cx="159.5" cy="459.8" r="3.4" fill="#1c8070"/><circle cx="168.5" cy="470.9" r="4.6" fill="#1c8070"/><circle cx="169.4" cy="463.4" r="5" fill="#1c8070"/><circle cx="149.5" cy="464.4" r="2.9" fill="#1c8070"/><circle cx="164.6" cy="454.6" r="3.1" fill="#1c8070"/><circle cx="166" cy="475.3" r="4.5" fill="#1c8070"/><circle cx="146.3" cy="466" r="4" fill="#1c8070"/><circle cx="165.9" cy="469.8" r="2.8" fill="#1c8070"/><circle cx="170.7" cy="460.4" r="4.4" fill="#1c8070"/><circle cx="150.2" cy="469.8" r="3.5" fill="#1c8070"/><circle cx="156.6" cy="472.9" r="3.9" fill="#1c8070"/><circle cx="165.8" cy="475.8" r="4.1" fill="#1c8070"/><circle cx="165.7" cy="463.2" r="4" fill="#1c8070"/><circle cx="155.7" cy="456.7" r="2.6" fill="#1c8070"/><circle cx="151.1" cy="461" r="4.7" fill="#1c8070"/><circle cx="150.1" cy="468" r="3.4" fill="#1c8070"/><circle cx="148.9" cy="467.6" r="3.2" fill="#1c8070"/><circle cx="160.5" cy="472.7" r="4.2" fill="#1c8070"/><circle cx="156.4" cy="457.2" r="3.2" fill="#1c8070"/><circle cx="159.9" cy="454.5" r="4.1" fill="#1c8070"/><circle cx="157.3" cy="453.6" r="4.4" fill="#1c8070"/><circle cx="152.9" cy="460.8" r="3.1" fill="#1c8070"/><circle cx="166.8" cy="463.4" r="5" fill="#1c8070"/><circle cx="166.4" cy="465.1" r="4.2" fill="#1c8070"/><circle cx="161.8" cy="471.1" r="2.9" fill="#1c8070"/><circle cx="157" cy="472.1" r="3.2" fill="#1c8070"/><circle cx="169.3" cy="472.6" r="3.3" fill="#1c8070"/><circle cx="166.4" cy="459.8" r="2.6" fill="#1c8070"/><circle cx="165" cy="458.9" r="3.1" fill="#1c8070"/><circle cx="167.3" cy="464.4" r="2.6" fill="#1c8070"/>
<circle cx="159" cy="475.7" r="1.2" fill="#1c4cb4"/>
<circle cx="166.8" cy="461" r="1.9" fill="#1c4cb4"/>
<circle cx="152.1" cy="456.4" r="2" fill="#1c4cb4"/>
<circle cx="168" cy="458" r="2" fill="#1c4cb4"/>
<circle cx="154.9" cy="456.6" r="1.7" fill="#1c8070"/>
<circle cx="158.8" cy="475.4" r="2.3" fill="#1c4cb4"/>
<circle cx="161.8" cy="455.3" r="2" fill="#1c8070"/>
<circle cx="164.9" cy="458.5" r="1.2" fill="#1c8070"/>
<circle cx="148.8" cy="464.2" r="2.2" fill="#1c4cb4"/>
<circle cx="158.9" cy="466.4" r="2.2" fill="#1c4cb4"/>
<circle cx="169" cy="467.4" r="1.4" fill="#1c4cb4"/>
<circle cx="155.3" cy="464.8" r="1.9" fill="#1c4cb4"/>
<circle cx="162.1" cy="473.3" r="1.2" fill="#1c8070"/>
<circle cx="151.1" cy="464.3" r="2.3" fill="#1c4cb4"/>
<circle cx="165.2" cy="465" r="1.8" fill="#1c4cb4"/>
<circle cx="158.1" cy="455.9" r="2" fill="#1c8070"/>
<circle cx="158.2" cy="472.8" r="1.2" fill="#1c8070"/>
<circle cx="168.6" cy="460.5" r="2" fill="#1c4cb4"/>
<circle cx="158.9" cy="471" r="2.1" fill="#1c4cb4"/>
<circle cx="172.5" cy="463.2" r="2.4" fill="#1c8070"/>
<circle cx="160.6" cy="469.5" r="2.1" fill="#1c4cb4"/>
<circle cx="163.2" cy="474.4" r="2.1" fill="#1c4cb4"/>
<circle cx="153.1" cy="473" r="2.2" fill="#1c8070"/>
<circle cx="152.4" cy="466.6" r="1.9" fill="#1c4cb4"/>
<circle cx="161.2" cy="457.2" r="2.1" fill="#1c4cb4"/>
<circle cx="158.6" cy="472.7" r="1.5" fill="#1c8070"/>
<circle cx="155.5" cy="457.8" r="2.2" fill="#1c8070"/>
<circle cx="152.7" cy="472.9" r="1.6" fill="#1c8070"/>
<circle cx="149.9" cy="469.5" r="2" fill="#1c8070"/>
<ellipse cx="97" cy="456" rx="10.8" ry="7.2" fill="#1c8070"/><circle cx="100.9" cy="459.7" r="2.2" fill="#1c8070"/><circle cx="104.3" cy="458.9" r="2.1" fill="#1c8070"/><circle cx="104.8" cy="454" r="2.2" fill="#1c8070"/><circle cx="89.1" cy="453" r="1.9" fill="#1c8070"/><circle cx="103.1" cy="458" r="2.6" fill="#1c8070"/><circle cx="87.8" cy="452.7" r="1.9" fill="#1c8070"/><circle cx="87.5" cy="458" r="1.9" fill="#1c8070"/><circle cx="90.2" cy="459.2" r="2.6" fill="#1c8070"/><circle cx="92.7" cy="449.1" r="1.7" fill="#1c8070"/><circle cx="103.9" cy="452.7" r="2.6" fill="#1c8070"/><circle cx="94.7" cy="461.1" r="1.9" fill="#1c8070"/><circle cx="106.1" cy="459.3" r="2.7" fill="#1c8070"/><circle cx="101.1" cy="458.5" r="2.3" fill="#1c8070"/><circle cx="100.7" cy="451.3" r="2.5" fill="#1c8070"/><circle cx="86.3" cy="456.7" r="2.7" fill="#1c8070"/><circle cx="97.1" cy="459.9" r="2.6" fill="#1c8070"/><circle cx="96.4" cy="452.1" r="2.1" fill="#1c8070"/><circle cx="94.3" cy="450.9" r="2.1" fill="#1c8070"/><circle cx="89.6" cy="457.1" r="3.2" fill="#1c8070"/><circle cx="94.3" cy="452.4" r="2.2" fill="#1c8070"/><circle cx="94" cy="453.4" r="1.7" fill="#1c8070"/><circle cx="96" cy="448.4" r="2.9" fill="#1c8070"/><circle cx="103.6" cy="459" r="2.8" fill="#1c8070"/><circle cx="100.8" cy="459.3" r="2.3" fill="#1c8070"/><circle cx="100.8" cy="458.6" r="2.7" fill="#1c8070"/><circle cx="91.6" cy="461.6" r="2.5" fill="#1c8070"/><circle cx="102.7" cy="453.7" r="2.1" fill="#1c8070"/><circle cx="96.9" cy="459.4" r="2.1" fill="#1c8070"/><circle cx="92.1" cy="460.2" r="2.1" fill="#1c8070"/><circle cx="107.5" cy="455.3" r="2.2" fill="#1c8070"/><circle cx="99.3" cy="461.1" r="1.8" fill="#1c8070"/><circle cx="100.4" cy="461.9" r="1.8" fill="#1c8070"/>
<circle cx="100.3" cy="455.6" r="2.4" fill="#1c8070"/>
<circle cx="95.2" cy="449" r="1.9" fill="#1c4cb4"/>
<circle cx="94" cy="457.5" r="1.3" fill="#1c8070"/>
<circle cx="89.8" cy="452.1" r="2.1" fill="#1c4cb4"/>
<circle cx="90.2" cy="452.1" r="2" fill="#1c4cb4"/>
<circle cx="93" cy="449.4" r="1.3" fill="#1c4cb4"/>
<circle cx="93.2" cy="451.5" r="2.1" fill="#1c4cb4"/>
<circle cx="91.5" cy="449.9" r="1.7" fill="#1c4cb4"/>
<circle cx="104.9" cy="452.8" r="1.6" fill="#1c4cb4"/>
<circle cx="98.9" cy="450.5" r="1.5" fill="#1c8070"/>
<circle cx="97.8" cy="457.3" r="1.2" fill="#1c4cb4"/>
<circle cx="90.1" cy="450.3" r="1.3" fill="#1c4cb4"/>
<circle cx="86.7" cy="455" r="2.1" fill="#1c8070"/>
<circle cx="87.3" cy="452.7" r="1.7" fill="#1c4cb4"/>
<circle cx="93.3" cy="450.7" r="2.4" fill="#1c4cb4"/>
<circle cx="104.8" cy="455.4" r="1.7" fill="#1c4cb4"/>
<ellipse cx="80" cy="384" rx="7.2" ry="11.7" fill="#1c8070"/><circle cx="84.6" cy="388.3" r="3" fill="#1c8070"/><circle cx="76.5" cy="378.1" r="1.6" fill="#1c8070"/><circle cx="76.3" cy="373.3" r="3" fill="#1c8070"/><circle cx="80.7" cy="389.9" r="2.4" fill="#1c8070"/><circle cx="79.1" cy="393.2" r="2.3" fill="#1c8070"/><circle cx="79.7" cy="372.2" r="2.2" fill="#1c8070"/><circle cx="79.9" cy="373.8" r="1.8" fill="#1c8070"/><circle cx="80.3" cy="376.7" r="2.5" fill="#1c8070"/><circle cx="73.9" cy="384.1" r="3" fill="#1c8070"/><circle cx="82.9" cy="381.1" r="1.7" fill="#1c8070"/><circle cx="86.6" cy="388.3" r="2.7" fill="#1c8070"/><circle cx="76.4" cy="378.6" r="2.1" fill="#1c8070"/><circle cx="74" cy="376.9" r="2.9" fill="#1c8070"/><circle cx="76.4" cy="379.3" r="3.1" fill="#1c8070"/><circle cx="79.3" cy="375.5" r="1.9" fill="#1c8070"/><circle cx="83.6" cy="382.7" r="3.1" fill="#1c8070"/><circle cx="83.5" cy="393.4" r="2.4" fill="#1c8070"/><circle cx="80.9" cy="375.7" r="2" fill="#1c8070"/><circle cx="80.1" cy="376.4" r="2" fill="#1c8070"/><circle cx="75.6" cy="377.2" r="2.9" fill="#1c8070"/><circle cx="74.3" cy="377.3" r="2.8" fill="#1c8070"/><circle cx="83.8" cy="384.6" r="2.9" fill="#1c8070"/><circle cx="73.5" cy="377.8" r="2" fill="#1c8070"/><circle cx="76.3" cy="389.1" r="2.8" fill="#1c8070"/><circle cx="80.5" cy="392.4" r="2.7" fill="#1c8070"/><circle cx="78.1" cy="390.4" r="1.9" fill="#1c8070"/><circle cx="85.8" cy="378.9" r="2.9" fill="#1c8070"/><circle cx="79.1" cy="390" r="3" fill="#1c8070"/><circle cx="83.8" cy="383.7" r="3.2" fill="#1c8070"/><circle cx="81.6" cy="375.3" r="2.8" fill="#1c8070"/><circle cx="74.4" cy="384" r="2.5" fill="#1c8070"/><circle cx="75.1" cy="384.8" r="2.9" fill="#1c8070"/><circle cx="78.7" cy="372" r="2.1" fill="#1c8070"/><circle cx="84.6" cy="386.8" r="2.7" fill="#1c8070"/>
<circle cx="85.2" cy="379.8" r="1.2" fill="#1c8070"/>
<circle cx="77.8" cy="384.9" r="2.2" fill="#1c4cb4"/>
<circle cx="80.6" cy="393.3" r="2.3" fill="#1c4cb4"/>
<circle cx="77.7" cy="391.9" r="1.4" fill="#1c4cb4"/>
<circle cx="81.1" cy="388.9" r="2" fill="#1c8070"/>
<circle cx="76" cy="380.5" r="2.1" fill="#1c4cb4"/>
<circle cx="80.2" cy="395.9" r="1.8" fill="#1c4cb4"/>
<circle cx="76.4" cy="390.1" r="1.3" fill="#1c8070"/>
<circle cx="76.3" cy="379.8" r="1.8" fill="#1c4cb4"/>
<circle cx="82.9" cy="387.1" r="2.2" fill="#1c4cb4"/>
<circle cx="74.3" cy="384.8" r="1.5" fill="#1c8070"/>
<circle cx="73.4" cy="389.4" r="2.1" fill="#1c4cb4"/>
<circle cx="83.7" cy="382.6" r="1.2" fill="#1c4cb4"/>
<circle cx="84.7" cy="383.7" r="1.2" fill="#1c4cb4"/>
<circle cx="73.4" cy="379.9" r="1.7" fill="#1c4cb4"/>
<circle cx="84" cy="376.5" r="2.3" fill="#1c4cb4"/>
<circle cx="83.7" cy="382.4" r="1.9" fill="#1c4cb4"/>
<ellipse cx="112" cy="412" rx="11.7" ry="5.4" fill="#1c8070"/><circle cx="122" cy="414.9" r="1.8" fill="#1c8070"/><circle cx="116.6" cy="416.7" r="1.6" fill="#1c8070"/><circle cx="113" cy="416.8" r="1.4" fill="#1c8070"/><circle cx="123.1" cy="410" r="1.3" fill="#1c8070"/><circle cx="106.9" cy="411.2" r="2.3" fill="#1c8070"/><circle cx="111.6" cy="416.1" r="2.1" fill="#1c8070"/><circle cx="112.6" cy="408" r="1.3" fill="#1c8070"/><circle cx="109.8" cy="414.2" r="1.4" fill="#1c8070"/><circle cx="111.9" cy="407.7" r="1.7" fill="#1c8070"/><circle cx="107.1" cy="408.8" r="1.6" fill="#1c8070"/><circle cx="105.9" cy="414.3" r="1.7" fill="#1c8070"/><circle cx="101.8" cy="413.8" r="2.3" fill="#1c8070"/><circle cx="118.7" cy="409.5" r="2.3" fill="#1c8070"/><circle cx="113.9" cy="409.2" r="2.2" fill="#1c8070"/><circle cx="120.5" cy="414.1" r="1.6" fill="#1c8070"/><circle cx="111.9" cy="407" r="2.3" fill="#1c8070"/><circle cx="119.1" cy="410.4" r="1.2" fill="#1c8070"/><circle cx="122.8" cy="414.6" r="1.6" fill="#1c8070"/><circle cx="112.6" cy="414.8" r="1.6" fill="#1c8070"/><circle cx="106.8" cy="416.2" r="1.4" fill="#1c8070"/><circle cx="101" cy="413.6" r="1.7" fill="#1c8070"/><circle cx="116.8" cy="415" r="1.5" fill="#1c8070"/><circle cx="121.2" cy="412.7" r="1.6" fill="#1c8070"/><circle cx="114.4" cy="408.9" r="1.3" fill="#1c8070"/><circle cx="103.7" cy="413.1" r="1.4" fill="#1c8070"/><circle cx="102.3" cy="411.6" r="2.1" fill="#1c8070"/>
<circle cx="120.2" cy="410.1" r="2.2" fill="#1c4cb4"/>
<circle cx="111.7" cy="414.6" r="1.6" fill="#1c8070"/>
<circle cx="123.9" cy="411.9" r="1.3" fill="#1c8070"/>
<circle cx="107.7" cy="413.2" r="2.2" fill="#1c8070"/>
<circle cx="118.1" cy="415.6" r="1.7" fill="#1c4cb4"/>
<circle cx="109.5" cy="413.8" r="1.2" fill="#1c4cb4"/>
<circle cx="110.3" cy="415.3" r="1.2" fill="#1c8070"/>
<circle cx="113.8" cy="416.2" r="1.4" fill="#1c4cb4"/>
<circle cx="106.1" cy="411.6" r="1.4" fill="#1c4cb4"/>
<circle cx="115.2" cy="412.8" r="1.9" fill="#1c8070"/>
<circle cx="112.4" cy="409.6" r="1.4" fill="#1c4cb4"/>
<circle cx="109.1" cy="407" r="1.9" fill="#1c4cb4"/>
<circle cx="122.3" cy="412.3" r="1.8" fill="#1c4cb4"/>
<ellipse cx="92" cy="352" rx="9" ry="4.5" fill="#1c8070"/><circle cx="97.9" cy="350.3" r="1.3" fill="#1c8070"/><circle cx="90.5" cy="355.7" r="1.9" fill="#1c8070"/><circle cx="97.3" cy="353.7" r="1.8" fill="#1c8070"/><circle cx="97.1" cy="354.8" r="1.2" fill="#1c8070"/><circle cx="83.3" cy="350.2" r="1" fill="#1c8070"/><circle cx="89.9" cy="348.6" r="1.9" fill="#1c8070"/><circle cx="86.4" cy="355.6" r="2" fill="#1c8070"/><circle cx="97.4" cy="353.3" r="1.2" fill="#1c8070"/><circle cx="96.3" cy="348" r="1.8" fill="#1c8070"/><circle cx="96.8" cy="349.4" r="1.9" fill="#1c8070"/><circle cx="90.8" cy="354.2" r="1.7" fill="#1c8070"/><circle cx="88.1" cy="352.7" r="1.8" fill="#1c8070"/><circle cx="95.5" cy="354" r="1.1" fill="#1c8070"/><circle cx="88.4" cy="350.3" r="1.3" fill="#1c8070"/><circle cx="83.3" cy="350.4" r="1" fill="#1c8070"/><circle cx="99.2" cy="350.2" r="1.3" fill="#1c8070"/>
<circle cx="96" cy="348.8" r="1.8" fill="#1c4cb4"/>
<circle cx="91.1" cy="350.5" r="2.2" fill="#1c4cb4"/>
<circle cx="94.1" cy="354.2" r="1.8" fill="#1c4cb4"/>
<circle cx="87" cy="352" r="1.3" fill="#1c8070"/>
<circle cx="97.2" cy="349.7" r="1.5" fill="#1c4cb4"/>
<circle cx="96.3" cy="354.9" r="2.1" fill="#1c4cb4"/>
<circle cx="93.2" cy="351.8" r="2" fill="#1c4cb4"/>
<circle cx="84.4" cy="354.1" r="1.8" fill="#1c8070"/>
<ellipse cx="155" cy="412" rx="10.8" ry="4.5" fill="#1c8070"/><circle cx="160.1" cy="411.6" r="1.4" fill="#1c8070"/><circle cx="146.6" cy="414.5" r="1.7" fill="#1c8070"/><circle cx="159.7" cy="409" r="2" fill="#1c8070"/><circle cx="151.8" cy="414.8" r="1.6" fill="#1c8070"/><circle cx="152.4" cy="414.1" r="1.7" fill="#1c8070"/><circle cx="148.6" cy="415.5" r="1.7" fill="#1c8070"/><circle cx="160.5" cy="412.2" r="1.2" fill="#1c8070"/><circle cx="152.2" cy="414.3" r="1.7" fill="#1c8070"/><circle cx="156.2" cy="415.1" r="1.4" fill="#1c8070"/><circle cx="162.8" cy="411.9" r="1" fill="#1c8070"/><circle cx="166.1" cy="411.4" r="1" fill="#1c8070"/><circle cx="160.9" cy="409.2" r="1.9" fill="#1c8070"/><circle cx="148.6" cy="409.4" r="1.8" fill="#1c8070"/><circle cx="160.3" cy="412.5" r="1.1" fill="#1c8070"/><circle cx="161.3" cy="412.2" r="1" fill="#1c8070"/><circle cx="160.4" cy="413.9" r="1.2" fill="#1c8070"/><circle cx="165.3" cy="413.7" r="1.9" fill="#1c8070"/><circle cx="159.4" cy="410.7" r="1.6" fill="#1c8070"/><circle cx="162" cy="410.7" r="1.5" fill="#1c8070"/><circle cx="163.1" cy="409" r="1.6" fill="#1c8070"/>
<circle cx="153.5" cy="416" r="2.1" fill="#1c8070"/>
<circle cx="159.8" cy="408.9" r="1.9" fill="#1c4cb4"/>
<circle cx="148.6" cy="414.3" r="1.6" fill="#1c4cb4"/>
<circle cx="152.4" cy="415.1" r="2.2" fill="#1c4cb4"/>
<circle cx="155.3" cy="414.2" r="1.8" fill="#1c8070"/>
<circle cx="162" cy="411.4" r="2.3" fill="#1c4cb4"/>
<circle cx="158.6" cy="410.2" r="1.9" fill="#1c8070"/>
<circle cx="153.7" cy="416.4" r="1.5" fill="#1c4cb4"/>
<circle cx="155.6" cy="410.1" r="1.3" fill="#1c8070"/>
<circle cx="152.4" cy="412.4" r="1.7" fill="#1c8070"/>
<circle cx="170.7" cy="457.9" r="3.7" fill="#c4f022"/>
<circle cx="148.7" cy="356.5" r="3.8" fill="#e6ee24"/>
<circle cx="109.3" cy="275" r="3.4" fill="#f0681c"/>
<circle cx="61.8" cy="201.3" r="3.7" fill="#c4f022"/>
<circle cx="64.9" cy="321" r="3.7" fill="#c4f022"/>
<circle cx="85.9" cy="419" r="3.6" fill="#2ede20"/>
<circle cx="104.8" cy="355.9" r="3.8" fill="#e6ee22"/>
<circle cx="140.7" cy="270.8" r="3.8" fill="#c4f022"/>
<circle cx="89.8" cy="220.1" r="3.7" fill="#e6ee22"/>
<circle cx="78.6" cy="351.7" r="3.8" fill="#98ee22"/>
<circle cx="141.6" cy="339.1" r="4.7" fill="#f09020"/>
<circle cx="121.9" cy="275.3" r="4.4" fill="#e6ee22"/>
<circle cx="46.9" cy="179.7" r="4.2" fill="#e6ee22"/>
<circle cx="128" cy="395.6" r="4.2" fill="#6cec22"/>
<circle cx="113.6" cy="270.1" r="4.6" fill="#f2c424"/>
<circle cx="185.8" cy="476.2" r="4.7" fill="#98ee22"/>
<circle cx="154.7" cy="240.6" r="4.8" fill="#2ede20"/>
<circle cx="186.7" cy="315.7" r="3.6" fill="#98ee22"/>
<circle cx="191.8" cy="418.6" r="4.2" fill="#6cec22"/>
<circle cx="60.5" cy="340.3" r="3.3" fill="#2cc83a"/>
<circle cx="172.2" cy="257.5" r="3.6" fill="#f2c424"/>
<circle cx="108.3" cy="422.9" r="4.6" fill="#6cec22"/>
<circle cx="84" cy="185" r="4.5" fill="#c4f022"/>
<circle cx="133.5" cy="259.8" r="4.5" fill="#2ede20"/>
<circle cx="143.9" cy="380" r="4.1" fill="#c4f022"/>
<circle cx="139.5" cy="487.8" r="4" fill="#2ede20"/>
<circle cx="66.8" cy="429.3" r="4.5" fill="#f09020"/>
<circle cx="150.8" cy="322.8" r="3.5" fill="#98ee22"/>
<circle cx="48.9" cy="288.7" r="4.5" fill="#98ee22"/>
<circle cx="137.9" cy="287.5" r="3.4" fill="#e6ee24"/>
<circle cx="56.5" cy="457.4" r="3.5" fill="#f2c424"/>
<circle cx="69.6" cy="229.7" r="3.9" fill="#6cec22"/>
<circle cx="89.8" cy="277.5" r="4.2" fill="#f0681c"/>
<circle cx="53.6" cy="418.5" r="3.5" fill="#98ee22"/>
<circle cx="138.2" cy="241.4" r="4.3" fill="#46e820"/>
<circle cx="50.8" cy="343.4" r="4.3" fill="#e6ee22"/>
<circle cx="59.3" cy="397.1" r="3.4" fill="#e6ee22"/>
<circle cx="193.7" cy="190.9" r="4.8" fill="#2ede20"/>
<circle cx="132.8" cy="281.7" r="4.3" fill="#46e820"/>
<circle cx="92.3" cy="180.1" r="3.8" fill="#98ee22"/>
<circle cx="141.8" cy="333.3" r="3.9" fill="#c4f022"/>
<circle cx="58.6" cy="401" r="4.6" fill="#e6ee24"/>
<circle cx="79.8" cy="419.2" r="5" fill="#e6ee22"/>
<circle cx="143.6" cy="354.5" r="4.1" fill="#c4f022"/>
<circle cx="177.4" cy="184.4" r="4" fill="#f09020"/>
<circle cx="117.6" cy="276.6" r="4" fill="#c4f022"/>
<circle cx="46" cy="385.6" r="4.6" fill="#98ee22"/>
<circle cx="108.9" cy="388.6" r="4.8" fill="#46e820"/>
<circle cx="172" cy="191.4" r="4" fill="#6cec22"/>
<circle cx="69.4" cy="218.5" r="4.3" fill="#2ede20"/>
<circle cx="138" cy="431.6" r="4.7" fill="#f2c424"/>
<circle cx="147.9" cy="371.7" r="4.2" fill="#98ee22"/>
<circle cx="151.7" cy="281.5" r="4.5" fill="#c4f022"/>
<circle cx="108.7" cy="300" r="3.8" fill="#98ee22"/>
<circle cx="109.5" cy="494.9" r="3.4" fill="#6cec22"/>
<circle cx="113.3" cy="189.2" r="4.8" fill="#98ee22"/>
<circle cx="138.2" cy="217.3" r="3.6" fill="#e6ee22"/>
<circle cx="112.7" cy="327.3" r="4.5" fill="#c4f022"/>
<circle cx="128.7" cy="391.8" r="4.7" fill="#2ede20"/>
<circle cx="169.2" cy="276.2" r="3.8" fill="#c4f022"/>
<circle cx="167.9" cy="419.9" r="4.4" fill="#6cec22"/>
<circle cx="174.5" cy="253.3" r="3.5" fill="#98ee22"/>
<circle cx="149" cy="459.3" r="2.1" fill="#8ae424"/>
<circle cx="68.7" cy="408.6" r="3.7" fill="#2ede20"/>
<circle cx="64.8" cy="447.4" r="3.4" fill="#c4f022"/>
<circle cx="193.7" cy="294.6" r="4.7" fill="#c4f022"/>
<circle cx="181.1" cy="217.5" r="3.4" fill="#2ede20"/>
<circle cx="85.4" cy="281.5" r="4.2" fill="#c4f022"/>
<circle cx="53.8" cy="315.6" r="4.8" fill="#98ee22"/>
<circle cx="130.5" cy="308.5" r="4.9" fill="#46e820"/>
<circle cx="162" cy="400.6" r="3.3" fill="#f2c424"/>
<circle cx="59.3" cy="177.7" r="4.3" fill="#46e820"/>
<circle cx="117.6" cy="356.2" r="4.8" fill="#98ee22"/>
<circle cx="131.1" cy="264" r="4.3" fill="#c4f022"/>
<circle cx="52.4" cy="322.7" r="4.7" fill="#98ee22"/>
<circle cx="52.8" cy="257.6" r="4.9" fill="#6cec22"/>
<circle cx="94.4" cy="394.4" r="4.5" fill="#98ee22"/>
<circle cx="123.9" cy="491.4" r="3.4" fill="#2ede20"/>
<circle cx="119.9" cy="418.6" r="4.4" fill="#c4f022"/>
<circle cx="186.9" cy="442" r="4.7" fill="#e6ee22"/>
<circle cx="60" cy="351.8" r="3.5" fill="#46e820"/>
<circle cx="121.8" cy="322.1" r="4.5" fill="#46e820"/>
<circle cx="49.1" cy="237.2" r="5" fill="#46e820"/>
<circle cx="60.2" cy="189.7" r="3.9" fill="#e6ee22"/>
<circle cx="106.4" cy="384.1" r="3.3" fill="#6cec22"/>
<circle cx="138" cy="321.9" r="3.4" fill="#46e820"/>
<circle cx="169.2" cy="366.5" r="4.6" fill="#46e820"/>
<circle cx="121.6" cy="192" r="4.3" fill="#6cec22"/>
<circle cx="58.8" cy="194.5" r="3.8" fill="#46e820"/>
<circle cx="114.5" cy="248.7" r="3.7" fill="#46e820"/>
<circle cx="158.4" cy="349.1" r="3.6" fill="#6cec22"/>
<circle cx="91.9" cy="228.9" r="3.8" fill="#2ede20"/>
<circle cx="89.4" cy="298.5" r="3.3" fill="#46e820"/>
<circle cx="179.1" cy="326.8" r="3.5" fill="#46e820"/>
<circle cx="174.5" cy="486.4" r="3.4" fill="#c4f022"/>
<circle cx="104.7" cy="276.2" r="3.9" fill="#ec4014"/>
<circle cx="189.2" cy="286.1" r="4.8" fill="#98ee22"/>
<circle cx="131.9" cy="361.6" r="4.1" fill="#46e820"/>
<circle cx="146.8" cy="259.5" r="4.7" fill="#6cec22"/>
<circle cx="47.8" cy="351.4" r="4" fill="#46e820"/>
<circle cx="176.8" cy="195.9" r="4.1" fill="#c4f022"/>
<circle cx="194.3" cy="474.2" r="4.8" fill="#c4f022"/>
<circle cx="101.4" cy="224" r="3.9" fill="#6cec22"/>
<circle cx="187.7" cy="326" r="3.7" fill="#e6ee24"/>
<circle cx="183.6" cy="276" r="4.8" fill="#f2c424"/>
<circle cx="169.1" cy="412" r="4.4" fill="#6cec22"/>
<circle cx="59.2" cy="451.9" r="4.2" fill="#46e820"/>
<circle cx="86.8" cy="405.7" r="3.7" fill="#98ee22"/>
<circle cx="185.2" cy="431.3" r="4.1" fill="#f09020"/>
<circle cx="190.9" cy="471.6" r="4.9" fill="#c4f022"/>
<circle cx="173.9" cy="269.7" r="3.5" fill="#f2c424"/>
<circle cx="88.5" cy="337.2" r="4.3" fill="#6cec22"/>
<circle cx="68.6" cy="486.6" r="4.7" fill="#2ede20"/>
<circle cx="62.1" cy="209" r="3.6" fill="#c4f022"/>
<circle cx="185.4" cy="213" r="3.7" fill="#46e820"/>
<circle cx="75.5" cy="425.8" r="4.7" fill="#2ede20"/>
<circle cx="167.7" cy="225.9" r="4.8" fill="#c4f022"/>
<circle cx="181.2" cy="297.3" r="4.2" fill="#c4f022"/>
<circle cx="153.7" cy="191.2" r="3.7" fill="#46e820"/>
<circle cx="150.8" cy="481.7" r="3.6" fill="#46e820"/>
<circle cx="104.9" cy="219.8" r="4.2" fill="#e6ee22"/>
<circle cx="130.4" cy="436.9" r="4.9" fill="#98ee22"/>
<circle cx="48.5" cy="360" r="4.1" fill="#2ede20"/>
<circle cx="148.1" cy="350" r="4" fill="#46e820"/>
<circle cx="149.8" cy="276" r="4.4" fill="#e6ee22"/>
<circle cx="174.7" cy="449" r="4.8" fill="#2ede20"/>
<circle cx="171.1" cy="350.1" r="4.6" fill="#f09020"/>
<circle cx="108.7" cy="436" r="4.6" fill="#e6ee24"/>
<circle cx="131.5" cy="305.1" r="4.8" fill="#c4f022"/>
<circle cx="128.4" cy="190.4" r="4" fill="#98ee22"/>
<circle cx="95.1" cy="231.6" r="3.7" fill="#6cec22"/>
<circle cx="49" cy="299.5" r="4.7" fill="#6cec22"/>
<circle cx="126.5" cy="316.6" r="4.7" fill="#2ede20"/>
<circle cx="83" cy="472.1" r="4.6" fill="#e6ee24"/>
<circle cx="103.4" cy="378.3" r="3.9" fill="#98ee22"/>
<circle cx="55.9" cy="275.1" r="4" fill="#6cec22"/>
<circle cx="133.3" cy="223.7" r="3.7" fill="#98ee22"/>
<circle cx="118.3" cy="236.7" r="4" fill="#98ee22"/>
<circle cx="163.5" cy="308.5" r="3.9" fill="#46e820"/>
<circle cx="93.5" cy="305.8" r="3.4" fill="#46e820"/>
<circle cx="65.7" cy="286.7" r="3.4" fill="#46e820"/>
<circle cx="109.2" cy="447.5" r="3.8" fill="#f2c424"/>
<circle cx="52.8" cy="189.8" r="3.3" fill="#e6ee22"/>
<circle cx="191.3" cy="349.1" r="4" fill="#c4f022"/>
<circle cx="125.1" cy="420.5" r="2.6" fill="#8ae424"/>
<circle cx="136.2" cy="426.2" r="4.1" fill="#f09020"/>
<circle cx="105.8" cy="282.7" r="3.7" fill="#f09020"/>
<circle cx="124.5" cy="437.4" r="3.9" fill="#46e820"/>
<circle cx="157.2" cy="483.5" r="3.5" fill="#2ede20"/>
<circle cx="55.1" cy="465.2" r="4.1" fill="#f2c424"/>
<circle cx="133.5" cy="235.9" r="4.4" fill="#6cec22"/>
<circle cx="155.9" cy="286" r="4.3" fill="#46e820"/>
<circle cx="194" cy="328.9" r="4.1" fill="#e6ee22"/>
<circle cx="163.2" cy="231" r="4.5" fill="#2ede20"/>
<circle cx="51.1" cy="332.4" r="4.1" fill="#c4f022"/>
<circle cx="94.3" cy="453" r="3.4" fill="#5cdc26"/>
<circle cx="161.3" cy="447.1" r="2.4" fill="#8ae424"/>
<circle cx="84.6" cy="310.4" r="3.7" fill="#98ee22"/>
<circle cx="101.3" cy="487.3" r="4.7" fill="#e6ee22"/>
<circle cx="185.6" cy="203.4" r="4.7" fill="#6cec22"/>
<circle cx="120.8" cy="271.1" r="3.4" fill="#6cec22"/>
<circle cx="131.1" cy="288.4" r="4.1" fill="#2ede20"/>
<circle cx="48.9" cy="357.1" r="4.6" fill="#98ee22"/>
<circle cx="153.5" cy="271.3" r="4.5" fill="#6cec22"/>
<circle cx="161.2" cy="437.3" r="4.7" fill="#6cec22"/>
<circle cx="190.4" cy="219.1" r="4.5" fill="#2ede20"/>
<circle cx="62.3" cy="441.4" r="3.9" fill="#f2c424"/>
<circle cx="50.6" cy="424.8" r="4.9" fill="#c4f022"/>
<circle cx="151.4" cy="219.5" r="4.5" fill="#e6ee24"/>
<circle cx="73.7" cy="245.8" r="4.5" fill="#6cec22"/>
<circle cx="140.6" cy="201" r="4.3" fill="#6cec22"/>
<circle cx="65.2" cy="228.6" r="3.3" fill="#c4f022"/>
<circle cx="90.5" cy="389.5" r="4.6" fill="#98ee22"/>
<circle cx="95.6" cy="423" r="4" fill="#6cec22"/>
<circle cx="54.7" cy="431.9" r="3.3" fill="#f09020"/>
<circle cx="185.7" cy="178.4" r="4.6" fill="#e6ee22"/>
<circle cx="98.5" cy="379.1" r="3.6" fill="#98ee22"/>
<circle cx="67.9" cy="417.3" r="4.2" fill="#46e820"/>
<circle cx="47.7" cy="258.3" r="3.9" fill="#98ee22"/>
<circle cx="93.1" cy="486.2" r="3.4" fill="#e6ee22"/>
<circle cx="56.8" cy="263.3" r="4.9" fill="#98ee22"/>
<circle cx="118" cy="206.4" r="4.6" fill="#c4f022"/>
<circle cx="164.1" cy="426" r="3.7" fill="#98ee22"/>
<circle cx="47.8" cy="212.7" r="3.4" fill="#2ede20"/>
<circle cx="176.3" cy="243.2" r="3.4" fill="#3cd42c"/>
<circle cx="165.1" cy="360.3" r="3.8" fill="#f2c424"/>
<circle cx="126" cy="339.7" r="3.6" fill="#98ee22"/>
<circle cx="69.5" cy="447.3" r="3.3" fill="#46e820"/>
<circle cx="125.3" cy="271.9" r="4.8" fill="#46e820"/>
<circle cx="191.6" cy="201.2" r="3.4" fill="#98ee22"/>
<circle cx="177.8" cy="230.3" r="3.3" fill="#e6ee24"/>
<circle cx="51.2" cy="243.1" r="3.8" fill="#6cec22"/>
<circle cx="189.3" cy="251.7" r="4.4" fill="#46e820"/>
<circle cx="105.8" cy="339.7" r="4.7" fill="#46e820"/>
<circle cx="69.6" cy="333" r="5" fill="#f0681c"/>
<circle cx="151.7" cy="476.1" r="4.6" fill="#46e820"/>
<circle cx="62.4" cy="389.8" r="4" fill="#98ee22"/>
<circle cx="106.3" cy="475.2" r="4.8" fill="#c4f022"/>
<circle cx="139.1" cy="247.5" r="4" fill="#98ee22"/>
<circle cx="181.1" cy="357.7" r="4.2" fill="#c4f022"/>
<circle cx="110.2" cy="321" r="4" fill="#6cec22"/>
<circle cx="131.4" cy="228.9" r="3.8" fill="#98ee22"/>
<circle cx="49.1" cy="418.1" r="4.4" fill="#6cec22"/>
<circle cx="96.2" cy="448.9" r="2.2" fill="#5cdc26"/>
<circle cx="132.6" cy="180.5" r="4.3" fill="#46e820"/>
<circle cx="159.7" cy="465.2" r="2.1" fill="#5cdc26"/>
<circle cx="134.1" cy="291.4" r="4.7" fill="#c4f022"/>
<circle cx="124.9" cy="230.9" r="4.7" fill="#46e820"/>
<circle cx="85.6" cy="374.4" r="4.4" fill="#46e820"/>
<circle cx="79.8" cy="474.8" r="4.7" fill="#e6ee24"/>
<circle cx="135.9" cy="400.3" r="4.7" fill="#e6ee22"/>
<circle cx="62.2" cy="465" r="3.5" fill="#98ee22"/>
<circle cx="118.9" cy="382.8" r="4.4" fill="#98ee22"/>
<circle cx="149.7" cy="194.8" r="4.9" fill="#c4f022"/>
<circle cx="160.8" cy="179.6" r="4" fill="#6cec22"/>
<circle cx="169" cy="194.5" r="4.4" fill="#46e820"/>
<circle cx="144.7" cy="470" r="4.3" fill="#46e820"/>
<circle cx="98.5" cy="214.6" r="3.7" fill="#6cec22"/>
<circle cx="134.4" cy="429.3" r="4.9" fill="#f09020"/>
<circle cx="158.9" cy="374.7" r="4.7" fill="#6cec22"/>
<circle cx="78.2" cy="219.9" r="3.7" fill="#b0ee22"/>
<circle cx="70" cy="414.2" r="3.5" fill="#2ede20"/>
<circle cx="141.1" cy="283.5" r="4.7" fill="#f2c424"/>
<circle cx="183.8" cy="460.2" r="4.8" fill="#2ede20"/>
<circle cx="148.5" cy="366.2" r="4.3" fill="#c4f022"/>
<circle cx="149.4" cy="264.9" r="4.1" fill="#6cec22"/>
<circle cx="138.1" cy="276.8" r="3.9" fill="#6cec22"/>
<circle cx="46.5" cy="202.1" r="3.5" fill="#6cec22"/>
<circle cx="104.7" cy="400.5" r="4.3" fill="#46e820"/>
<circle cx="69.4" cy="458.9" r="3.5" fill="#2ede20"/>
<circle cx="154" cy="395.9" r="3.9" fill="#e6ee24"/>
<circle cx="148.1" cy="389.1" r="3.6" fill="#c4f022"/>
<circle cx="52.3" cy="489" r="3.7" fill="#98ee22"/>
<circle cx="173.1" cy="408" r="3.7" fill="#e6ee22"/>
<circle cx="62.5" cy="334.2" r="3.9" fill="#f2c424"/>
<circle cx="71" cy="471.6" r="3.6" fill="#f09020"/>
<circle cx="91.4" cy="254.8" r="4" fill="#2ede20"/>
<circle cx="64.8" cy="263.2" r="4.7" fill="#e6ee22"/>
<circle cx="193.4" cy="282.5" r="3.4" fill="#46e820"/>
<circle cx="107.5" cy="211.4" r="5" fill="#6cec22"/>
<circle cx="184.2" cy="424.8" r="5" fill="#2ede20"/>
<circle cx="143.2" cy="458.9" r="3.6" fill="#46e820"/>
<circle cx="161.2" cy="247.2" r="4.8" fill="#2ede20"/>
<circle cx="82.4" cy="217.3" r="4.9" fill="#6cec22"/>
<circle cx="134.1" cy="212.3" r="4.1" fill="#2ede20"/>
<circle cx="75.3" cy="190.4" r="4" fill="#f09020"/>
<circle cx="53.6" cy="294.1" r="4.7" fill="#e6ee24"/>
<circle cx="193.4" cy="339.7" r="3.7" fill="#46e820"/>
<circle cx="127.9" cy="485.7" r="4.2" fill="#98ee22"/>
<circle cx="79.9" cy="340.5" r="4.5" fill="#46e820"/>
<circle cx="134.7" cy="474.6" r="3.5" fill="#98ee22"/>
<circle cx="158" cy="252.5" r="4.9" fill="#98ee22"/>
<circle cx="47.5" cy="406.4" r="4" fill="#98ee22"/>
<circle cx="171.2" cy="177.8" r="4" fill="#98ee22"/>
<circle cx="142.1" cy="208.6" r="4.4" fill="#e6ee24"/>
<circle cx="128.4" cy="413.2" r="2.2" fill="#5cdc26"/>
<circle cx="54.4" cy="396.3" r="4.5" fill="#98ee22"/>
<circle cx="87.8" cy="464" r="4.9" fill="#e6ee22"/>
<circle cx="67.8" cy="283.4" r="4.7" fill="#6cec22"/>
<circle cx="168.5" cy="400.8" r="4.8" fill="#6cec22"/>
<circle cx="134" cy="419.2" r="2.4" fill="#2cc83a"/>
<circle cx="115.7" cy="426.3" r="3.3" fill="#c4f022"/>
<circle cx="156.8" cy="228.5" r="3.5" fill="#98ee22"/>
<circle cx="180.7" cy="223.5" r="4.9" fill="#e6ee22"/>
<circle cx="136.1" cy="391.7" r="3.8" fill="#6cec22"/>
<circle cx="83.9" cy="365.6" r="4" fill="#e6ee22"/>
<circle cx="76.1" cy="457.9" r="3.4" fill="#46e820"/>
<circle cx="57.8" cy="322.4" r="4.9" fill="#46e820"/>
<circle cx="191.3" cy="248.9" r="3.7" fill="#2ede20"/>
<circle cx="97.4" cy="275.1" r="4.6" fill="#f0681c"/>
<circle cx="129.4" cy="206.4" r="4.1" fill="#46e820"/>
<circle cx="90.2" cy="288.6" r="3.5" fill="#2ede20"/>
<circle cx="161" cy="188.7" r="4.9" fill="#c4f022"/>
<circle cx="139.3" cy="361.9" r="4.6" fill="#98ee22"/>
<circle cx="172.6" cy="280.6" r="4.5" fill="#46e820"/>
<circle cx="135.4" cy="494.4" r="4" fill="#e6ee22"/>
<circle cx="186.6" cy="395.1" r="4.3" fill="#e6ee22"/>
<circle cx="135.6" cy="333.7" r="3.9" fill="#c4f022"/>
<circle cx="178.6" cy="281.9" r="4.5" fill="#f2c424"/>
<circle cx="155" cy="334.7" r="4.6" fill="#98ee22"/>
<circle cx="172.6" cy="417.8" r="3.8" fill="#c4f022"/>
<circle cx="157.6" cy="423.9" r="2.8" fill="#2cc83a"/>
<circle cx="71.5" cy="436.8" r="4.6" fill="#f2c424"/>
<circle cx="127" cy="326" r="4.1" fill="#e6ee24"/>
<circle cx="100.2" cy="291.7" r="4.6" fill="#e6ee22"/>
<circle cx="102" cy="253" r="4.5" fill="#e6ee24"/>
<circle cx="118.3" cy="258.4" r="4.2" fill="#46e820"/>
<circle cx="173.3" cy="339.9" r="4" fill="#98ee22"/>
<circle cx="130.7" cy="241.2" r="3.4" fill="#c4f022"/>
<circle cx="101.8" cy="183.3" r="4.6" fill="#f09020"/>
<circle cx="126.6" cy="247.7" r="3.9" fill="#c4f022"/>
<circle cx="90.6" cy="197.5" r="3.5" fill="#f09020"/>
<circle cx="72.4" cy="270.4" r="4.8" fill="#f09020"/>
<circle cx="60.3" cy="476.1" r="3.5" fill="#f2c424"/>
<circle cx="115" cy="310" r="3.5" fill="#46e820"/>
<circle cx="125" cy="348.9" r="3.3" fill="#c4f022"/>
<circle cx="69.3" cy="402.3" r="3.5" fill="#e6ee22"/>
<circle cx="188.5" cy="343.2" r="4.8" fill="#e6ee22"/>
<circle cx="64.6" cy="297.9" r="3.8" fill="#6cec22"/>
<circle cx="182.5" cy="401.7" r="3.3" fill="#46e820"/>
<circle cx="185.9" cy="258.8" r="4.6" fill="#e6ee22"/>
<circle cx="138.9" cy="259.2" r="5" fill="#2ede20"/>
<circle cx="49.1" cy="365.7" r="4.2" fill="#46e820"/>
<circle cx="46.1" cy="463" r="4.5" fill="#2ede20"/>
<circle cx="175.8" cy="434.9" r="4.7" fill="#c4f022"/>
<circle cx="138.1" cy="383.9" r="4.4" fill="#98ee22"/>
<circle cx="51.9" cy="265.6" r="3.5" fill="#c4f022"/>
<circle cx="147.3" cy="328.4" r="4" fill="#2ede20"/>
<circle cx="174.4" cy="394.8" r="4.6" fill="#6cec22"/>
<circle cx="146.1" cy="291.7" r="5" fill="#98ee22"/>
<circle cx="131.5" cy="369.2" r="5" fill="#98ee22"/>
<circle cx="159.4" cy="281.1" r="3.6" fill="#6cec22"/>
<circle cx="191.4" cy="428.9" r="3.9" fill="#e6ee22"/>
<circle cx="73.3" cy="419.9" r="4.8" fill="#6cec22"/>
<circle cx="98.5" cy="260.4" r="4.1" fill="#c4f022"/>
<circle cx="181.2" cy="437.7" r="3.7" fill="#6cec22"/>
<circle cx="115.8" cy="320.1" r="3.4" fill="#46e820"/>
<circle cx="106.4" cy="430.5" r="4.9" fill="#2ede20"/>
<circle cx="136.4" cy="310.3" r="4.9" fill="#98ee22"/>
<circle cx="175.7" cy="343.9" r="4.3" fill="#f2c424"/>
<circle cx="170.1" cy="379.5" r="4.4" fill="#c4f022"/>
<circle cx="47.8" cy="430.2" r="4.4" fill="#98ee22"/>
<circle cx="49.5" cy="434.5" r="4.6" fill="#f2c424"/>
<circle cx="170.3" cy="388.9" r="3.8" fill="#6cec22"/>
<circle cx="54.6" cy="326.5" r="3.6" fill="#46e820"/>
<circle cx="177.7" cy="207.8" r="4.9" fill="#98ee22"/>
<circle cx="159.5" cy="452.1" r="4.8" fill="#46e820"/>
<circle cx="134.8" cy="469.8" r="4.2" fill="#46e820"/>
<circle cx="133.2" cy="339.4" r="3.5" fill="#e6ee22"/>
<circle cx="119.6" cy="178.1" r="4.2" fill="#c4f022"/>
<circle cx="122.8" cy="389.4" r="3.6" fill="#e6ee24"/>
<circle cx="130.6" cy="482.5" r="4.1" fill="#6cec22"/>
<circle cx="60.7" cy="268.5" r="3.6" fill="#f2c424"/>
<circle cx="78.6" cy="282.1" r="3.5" fill="#46e820"/>
<circle cx="51" cy="402.9" r="3.8" fill="#c4f022"/>
<circle cx="67" cy="384.3" r="3.8" fill="#e6ee22"/>
<circle cx="75.9" cy="390.3" r="3" fill="#3cd42c"/>
<circle cx="131.9" cy="191.1" r="4.5" fill="#2ede20"/>
<circle cx="147.6" cy="211.6" r="4.4" fill="#98ee22"/>
<circle cx="56.8" cy="219.1" r="4.3" fill="#46e820"/>
<circle cx="69.7" cy="391" r="4.2" fill="#e6ee22"/>
<circle cx="100.2" cy="431.9" r="3.6" fill="#b0ee22"/>
<circle cx="144.3" cy="345.1" r="4.1" fill="#f2c424"/>
<circle cx="169.3" cy="332.5" r="4.6" fill="#c4f022"/>
<circle cx="80.2" cy="443.4" r="4.3" fill="#46e820"/>
<circle cx="56.1" cy="423.2" r="4.6" fill="#e6ee24"/>
<circle cx="92.3" cy="349.3" r="2.3" fill="#2cc83a"/>
<circle cx="154.5" cy="202.9" r="3.7" fill="#2ede20"/>
<circle cx="177.8" cy="373.9" r="4.7" fill="#2ede20"/>
<circle cx="141.7" cy="425.1" r="4.1" fill="#f09020"/>
<circle cx="178.3" cy="397.7" r="3.7" fill="#e6ee22"/>
<circle cx="135.9" cy="459.3" r="3.4" fill="#46e820"/>
<circle cx="56.1" cy="185.1" r="3.8" fill="#6cec22"/>
<circle cx="79.8" cy="464.4" r="4.7" fill="#46e820"/>
<circle cx="97.1" cy="287.4" r="3.7" fill="#46e820"/>
<circle cx="45.8" cy="315" r="3.6" fill="#98ee22"/>
<circle cx="123.8" cy="471.6" r="4.9" fill="#98ee22"/>
<circle cx="184.1" cy="186.2" r="3.4" fill="#98ee22"/>
<circle cx="106.5" cy="190.7" r="4.3" fill="#e6ee24"/>
<circle cx="157.8" cy="357.6" r="5" fill="#6cec22"/>
<circle cx="181" cy="362.2" r="4.2" fill="#c4f022"/>
<circle cx="117.9" cy="369.1" r="3.5" fill="#c4f022"/>
<circle cx="98.4" cy="184.1" r="3.5" fill="#2ede20"/>
<circle cx="117" cy="344.5" r="3.8" fill="#98ee22"/>
<circle cx="142.6" cy="493.6" r="4.2" fill="#46e820"/>
<circle cx="121.6" cy="183" r="4.9" fill="#98ee22"/>
<circle cx="146.8" cy="451.4" r="3.2" fill="#5cdc26"/>
<circle cx="119.6" cy="372" r="3.4" fill="#c4f022"/>
<circle cx="50.7" cy="483" r="3.6" fill="#6cec22"/>
<circle cx="57.9" cy="434.5" r="3.7" fill="#f09020"/>
<circle cx="159.4" cy="212.1" r="4.9" fill="#98ee22"/>
<circle cx="164.2" cy="389.5" r="4.2" fill="#c4f022"/>
<circle cx="133.1" cy="316.6" r="4.5" fill="#f2c424"/>
<circle cx="163.4" cy="331.5" r="4.8" fill="#98ee22"/>
<circle cx="49.2" cy="487.6" r="4.9" fill="#46e820"/>
<circle cx="73.5" cy="440.8" r="3.8" fill="#f2c424"/>
<circle cx="49.6" cy="491.7" r="4.4" fill="#6cec22"/>
<circle cx="84.1" cy="411.6" r="3.8" fill="#e6ee22"/>
<circle cx="114.1" cy="362.6" r="3.7" fill="#6cec22"/>
<circle cx="96.7" cy="400.9" r="3.5" fill="#c4f022"/>
<circle cx="178.6" cy="465.2" r="4.6" fill="#e6ee24"/>
<circle cx="51.9" cy="207.4" r="3.5" fill="#2ede20"/>
<circle cx="97.7" cy="391.5" r="3.9" fill="#e6ee22"/>
<circle cx="106.7" cy="326.5" r="4.4" fill="#46e820"/>
<circle cx="47" cy="270.2" r="4.9" fill="#98ee22"/>
<circle cx="168.2" cy="207.4" r="4.2" fill="#c4f022"/>
<circle cx="122.3" cy="287.7" r="3.9" fill="#2ede20"/>
<circle cx="100.7" cy="281.1" r="3.9" fill="#f09020"/>
<circle cx="106.6" cy="360.3" r="4.9" fill="#c4f022"/>
<circle cx="85.3" cy="294" r="3.5" fill="#f0681c"/>
<circle cx="101.2" cy="362.2" r="4.2" fill="#c4f022"/>
<circle cx="93" cy="465" r="3.5" fill="#6cec22"/>
<circle cx="183.8" cy="343.3" r="4.2" fill="#98ee22"/>
<circle cx="159.7" cy="477.5" r="4.6" fill="#6cec22"/>
<circle cx="98.5" cy="311.1" r="4.8" fill="#6cec22"/>
<circle cx="137.9" cy="445.7" r="4.7" fill="#6cec22"/>
<circle cx="111.6" cy="240.8" r="3.8" fill="#6cec22"/>
<circle cx="81.7" cy="222.8" r="3.8" fill="#98ee22"/>
<circle cx="138.4" cy="225.6" r="5" fill="#46e820"/>
<circle cx="161.4" cy="383.6" r="4.8" fill="#46e820"/>
<circle cx="75.4" cy="292.1" r="4.4" fill="#f0681c"/>
<circle cx="151.3" cy="182.9" r="3.6" fill="#98ee22"/>
<circle cx="143.5" cy="288.8" r="4.1" fill="#b0ee22"/>
<circle cx="114.5" cy="281.8" r="3.4" fill="#c4f022"/>
<circle cx="120.9" cy="350.6" r="5" fill="#2ede20"/>
<circle cx="128.4" cy="372.5" r="3.8" fill="#e6ee24"/>
<circle cx="61.6" cy="328.6" r="4.5" fill="#f09020"/>
<circle cx="174.7" cy="265.2" r="3.4" fill="#f09020"/>
<circle cx="50.2" cy="184" r="3.4" fill="#6cec22"/>
<circle cx="121.9" cy="401.5" r="4.7" fill="#e6ee22"/>
<circle cx="126.8" cy="292.4" r="4" fill="#2ede20"/>
<circle cx="117" cy="470.9" r="3.9" fill="#46e820"/>
<circle cx="130.7" cy="217.9" r="4.3" fill="#98ee22"/>
<circle cx="59.8" cy="280.6" r="3.7" fill="#2ede20"/>
<circle cx="179.8" cy="293.2" r="4.1" fill="#6cec22"/>
<circle cx="88.4" cy="384.3" r="3.6" fill="#c4f022"/>
<circle cx="141.8" cy="252.3" r="4.8" fill="#c4f022"/>
<circle cx="128" cy="257.3" r="4.3" fill="#46e820"/>
<circle cx="50.4" cy="460.2" r="4.2" fill="#e6ee22"/>
<circle cx="73.2" cy="234.3" r="4.1" fill="#46e820"/>
<circle cx="177.4" cy="332.1" r="3.9" fill="#46e820"/>
<circle cx="174" cy="326.2" r="3.6" fill="#c4f022"/>
<circle cx="71.7" cy="252.4" r="3.7" fill="#98ee22"/>
<circle cx="111.5" cy="184.6" r="3.5" fill="#46e820"/>
<circle cx="147.2" cy="189" r="3.3" fill="#c4f022"/>
<circle cx="154.1" cy="488.7" r="4.8" fill="#46e820"/>
<circle cx="109.1" cy="480.7" r="3.3" fill="#46e820"/>
<circle cx="178" cy="486.4" r="4" fill="#e6ee22"/>
<circle cx="161.3" cy="252.5" r="4.1" fill="#46e820"/>
<circle cx="65.4" cy="201.6" r="3.4" fill="#e6ee22"/>
<circle cx="182.4" cy="414.6" r="4.9" fill="#6cec22"/>
<circle cx="73.5" cy="489" r="3.7" fill="#6cec22"/>
<circle cx="163.1" cy="219.7" r="4.4" fill="#46e820"/>
<circle cx="128.1" cy="459.1" r="4" fill="#2ede20"/>
<circle cx="160.1" cy="440.3" r="3.9" fill="#e6ee24"/>
<circle cx="151.9" cy="373.7" r="4.1" fill="#c4f022"/>
<circle cx="94.6" cy="431.9" r="3.3" fill="#46e820"/>
<circle cx="112.7" cy="465" r="4.8" fill="#98ee22"/>
<circle cx="111.8" cy="287.2" r="4.5" fill="#6cec22"/>
<circle cx="72.1" cy="315.2" r="3.8" fill="#e6ee22"/>
<circle cx="80.9" cy="294.6" r="3.7" fill="#f09020"/>
<circle cx="156.1" cy="459.2" r="2" fill="#2cc83a"/>
<circle cx="99.4" cy="202.2" r="4.9" fill="#98ee22"/>
<circle cx="95.4" cy="480.4" r="3.9" fill="#46e820"/>
<circle cx="141.4" cy="451.6" r="4.5" fill="#c4f022"/>
<circle cx="179.6" cy="248.5" r="4.1" fill="#98ee22"/>
<circle cx="77.7" cy="448.4" r="4.4" fill="#6cec22"/>
<circle cx="100.8" cy="271.7" r="4.1" fill="#f0681c"/>
<circle cx="167.1" cy="189.1" r="4.5" fill="#2ede20"/>
<circle cx="175.3" cy="218.8" r="3.5" fill="#46e820"/>
<circle cx="189.8" cy="298.9" r="4.8" fill="#e6ee22"/>
<circle cx="126.7" cy="475.7" r="4.2" fill="#2ede20"/>
<circle cx="119.1" cy="464.9" r="3.8" fill="#c4f022"/>
<circle cx="130.9" cy="378.9" r="3.7" fill="#f09020"/>
<circle cx="68.3" cy="291.4" r="3.4" fill="#f09020"/>
<circle cx="173.8" cy="442.5" r="3.8" fill="#46e820"/>
<circle cx="114.6" cy="236.5" r="3.4" fill="#98ee22"/>
<circle cx="160.6" cy="223.7" r="4.3" fill="#c4f022"/>
<circle cx="130.4" cy="402" r="4.9" fill="#46e820"/>
<circle cx="192.9" cy="179.5" r="4.6" fill="#2ede20"/>
<circle cx="104.6" cy="332.3" r="3.9" fill="#6cec22"/>
<circle cx="165.3" cy="259.7" r="4.5" fill="#46e820"/>
<circle cx="155.3" cy="264" r="4.7" fill="#98ee22"/>
<circle cx="191.9" cy="363.4" r="3.7" fill="#e6ee22"/>
<circle cx="98.8" cy="374" r="4.5" fill="#98ee22"/>
<circle cx="153.4" cy="223.2" r="4.2" fill="#b0ee22"/>
<circle cx="166.4" cy="429" r="4.8" fill="#f2c424"/>
<circle cx="126.8" cy="225.3" r="4.3" fill="#e6ee24"/>
<circle cx="144.7" cy="177.9" r="4.8" fill="#46e820"/>
<circle cx="85.7" cy="395.5" r="4.8" fill="#2ede20"/>
<circle cx="68.3" cy="477.1" r="4.8" fill="#f09020"/>
<circle cx="175.5" cy="424.7" r="4.9" fill="#98ee22"/>
<circle cx="152.6" cy="325.9" r="4.9" fill="#2ede20"/>
<circle cx="82.5" cy="343.5" r="4.2" fill="#6cec22"/>
<circle cx="164.8" cy="325.9" r="3.6" fill="#98ee22"/>
<circle cx="74.8" cy="226.3" r="4" fill="#e6ee22"/>
<circle cx="58.6" cy="241.4" r="4" fill="#c4f022"/>
<circle cx="186.6" cy="246.6" r="3.7" fill="#c4f022"/>
<circle cx="145.2" cy="363.1" r="3.9" fill="#e6ee22"/>
<circle cx="166.5" cy="384.1" r="3.4" fill="#c4f022"/>
<circle cx="178.8" cy="260.5" r="5" fill="#e6ee24"/>
<circle cx="193.8" cy="406.1" r="3.3" fill="#2ede20"/>
<circle cx="120.6" cy="200.1" r="4.6" fill="#2ede20"/>
<circle cx="60.6" cy="224.9" r="4.7" fill="#46e820"/>
<circle cx="124.9" cy="453.1" r="3.4" fill="#c4f022"/>
<circle cx="109.1" cy="471.3" r="3.4" fill="#6cec22"/>
<circle cx="193.2" cy="222.8" r="4.7" fill="#e6ee22"/>
<circle cx="72" cy="342.9" r="2.6" fill="#2cc83a"/>
<circle cx="119.5" cy="327.2" r="4.9" fill="#e6ee22"/>
<circle cx="138.6" cy="371.6" r="4.2" fill="#f0681c"/>
<circle cx="103.4" cy="457.2" r="2.5" fill="#2cc83a"/>
<circle cx="154.7" cy="235.1" r="4.4" fill="#c4f022"/>
<circle cx="193.4" cy="372.6" r="4.5" fill="#6cec22"/>
<circle cx="92" cy="483.4" r="4.5" fill="#c4f022"/>
<circle cx="52.3" cy="223.9" r="4.8" fill="#2ede20"/>
<circle cx="67.4" cy="245.8" r="4.5" fill="#c4f022"/>
<circle cx="102.7" cy="368.8" r="4.2" fill="#e6ee24"/>
<circle cx="187.6" cy="351.6" r="4.9" fill="#98ee22"/>
<circle cx="125.9" cy="383.5" r="4.8" fill="#f09020"/>
<circle cx="75.6" cy="483.2" r="4.7" fill="#98ee22"/>
<circle cx="185.3" cy="268.6" r="3.8" fill="#6cec22"/>
<circle cx="177" cy="403" r="3.5" fill="#c4f022"/>
<circle cx="90.3" cy="242.2" r="4.4" fill="#98ee22"/>
<circle cx="141.1" cy="303.6" r="4.8" fill="#46e820"/>
<circle cx="102.6" cy="242" r="3.8" fill="#98ee22"/>
<circle cx="137.8" cy="253.5" r="4.2" fill="#2ede20"/>
<circle cx="117.7" cy="265.6" r="4.5" fill="#e6ee22"/>
<circle cx="116.6" cy="494" r="4.4" fill="#e6ee22"/>
<circle cx="64.6" cy="423.5" r="3.7" fill="#e6ee24"/>
<circle cx="132" cy="463.5" r="3.5" fill="#46e820"/>
<circle cx="160.9" cy="294.4" r="2" fill="#5cdc26"/>
<circle cx="176.6" cy="320.8" r="3.7" fill="#6cec22"/>
<circle cx="189.4" cy="231.5" r="4.9" fill="#2ede20"/>
<circle cx="98" cy="208.2" r="3.9" fill="#98ee22"/>
<circle cx="146.9" cy="201.1" r="3.7" fill="#46e820"/>
<circle cx="192.2" cy="488.2" r="3.9" fill="#c4f022"/>
<circle cx="55.6" cy="202.3" r="3.6" fill="#e6ee24"/>
<circle cx="159.2" cy="361.9" r="3.8" fill="#2ede20"/>
<circle cx="130.4" cy="276.7" r="4.6" fill="#6cec22"/>
<circle cx="67.6" cy="340.6" r="2.9" fill="#2cc83a"/>
<circle cx="135.8" cy="436.1" r="3.8" fill="#f2c424"/>
<circle cx="119" cy="405.9" r="3.4" fill="#2ede20"/>
<circle cx="135.1" cy="345.4" r="3.9" fill="#c4f022"/>
<circle cx="116.2" cy="299" r="4.9" fill="#46e820"/>
<circle cx="156.3" cy="345.3" r="4.5" fill="#e6ee22"/>
<circle cx="85.9" cy="258.5" r="3.6" fill="#46e820"/>
<circle cx="159.2" cy="406.3" r="4.1" fill="#c4f022"/>
<circle cx="65.5" cy="184.5" r="5" fill="#98ee22"/>
<circle cx="61.4" cy="386" r="4.7" fill="#c4f022"/>
<circle cx="124.9" cy="442.6" r="4.4" fill="#e6ee24"/>
<circle cx="125" cy="240.9" r="4.6" fill="#e6ee22"/>
<circle cx="177.1" cy="277.2" r="3.6" fill="#b0ee22"/>
<circle cx="117.9" cy="414.4" r="2.9" fill="#2cc83a"/>
<circle cx="189" cy="436.3" r="4.8" fill="#f09020"/>
<circle cx="107.4" cy="442.4" r="3.9" fill="#f2c424"/>
<circle cx="181.6" cy="263.7" r="4.9" fill="#f2c424"/>
<circle cx="70.3" cy="277.2" r="4.4" fill="#c4f022"/>
<circle cx="162.6" cy="367.6" r="3.3" fill="#2ede20"/>
<circle cx="108.2" cy="316.2" r="3.6" fill="#c4f022"/>
<circle cx="83.5" cy="481" r="4.3" fill="#6cec22"/>
<circle cx="182.6" cy="367" r="3.9" fill="#c4f022"/>
<circle cx="88.5" cy="182.7" r="4.5" fill="#98ee22"/>
<circle cx="179.7" cy="317.6" r="4.3" fill="#6cec22"/>
<circle cx="111.6" cy="394.4" r="3.8" fill="#6cec22"/>
<circle cx="127.3" cy="361.9" r="4" fill="#46e820"/>
<circle cx="83.8" cy="207.1" r="4.2" fill="#98ee22"/>
<circle cx="108.5" cy="396.4" r="5" fill="#98ee22"/>
<circle cx="73.1" cy="200.3" r="3.8" fill="#e6ee22"/>
<circle cx="180.3" cy="304.8" r="4.8" fill="#e6ee22"/>
<circle cx="101.6" cy="317.6" r="3.6" fill="#2ede20"/>
<circle cx="188.3" cy="320.9" r="4.4" fill="#c4f022"/>
<circle cx="151.6" cy="407.3" r="2.2" fill="#3cd42c"/>
<circle cx="85.7" cy="246.8" r="4.2" fill="#2ede20"/>
<circle cx="120.8" cy="340.4" r="3.6" fill="#6cec22"/>
<circle cx="179.9" cy="180.3" r="3.6" fill="#46e820"/>
<circle cx="83.5" cy="403" r="3.6" fill="#46e820"/>
<circle cx="155.1" cy="367.4" r="4.3" fill="#98ee22"/>
<circle cx="78.5" cy="344.8" r="4" fill="#6cec22"/>
<circle cx="62.2" cy="470.5" r="4.8" fill="#f09020"/>
<circle cx="162.4" cy="481.2" r="4.3" fill="#2ede20"/>
<circle cx="55.6" cy="338.2" r="4.4" fill="#e6ee22"/>
<circle cx="153.7" cy="419" r="3" fill="#5cdc26"/>
<circle cx="100.3" cy="441.8" r="3.4" fill="#e6ee24"/>
<circle cx="63.6" cy="413.2" r="4.7" fill="#c4f022"/>
<circle cx="58.7" cy="297.7" r="4.9" fill="#f2c424"/>
<circle cx="123.4" cy="378" r="4.6" fill="#e6ee24"/>
<circle cx="141.1" cy="191.1" r="4.6" fill="#2ede20"/>
<circle cx="61.9" cy="304.4" r="3.8" fill="#46e820"/>
<circle cx="70.9" cy="195.7" r="4.6" fill="#f09020"/>
<circle cx="189.6" cy="460.6" r="4.5" fill="#6cec22"/>
<circle cx="117.1" cy="183.2" r="4.2" fill="#98ee22"/>
<circle cx="90.7" cy="310.8" r="3.5" fill="#c4f022"/>
<circle cx="175.3" cy="377.3" r="3.9" fill="#2ede20"/>
<circle cx="75.7" cy="286" r="3.6" fill="#f2c424"/>
<circle cx="132.4" cy="325.7" r="5" fill="#f09020"/>
<circle cx="157.8" cy="488.4" r="4.3" fill="#6cec22"/>
<circle cx="104" cy="424.3" r="3.4" fill="#e6ee22"/>
<circle cx="148.7" cy="254.6" r="3.4" fill="#98ee22"/>
<circle cx="173.6" cy="203.4" r="4.3" fill="#98ee22"/>
<circle cx="137.7" cy="196.4" r="4.2" fill="#98ee22"/>
<circle cx="79.8" cy="190" r="3.8" fill="#f09020"/>
<circle cx="152.7" cy="384.1" r="4.8" fill="#2ede20"/>
<circle cx="173.9" cy="383.7" r="4.6" fill="#6cec22"/>
<circle cx="133.3" cy="203.1" r="4.5" fill="#2ede20"/>
<circle cx="127.7" cy="430.3" r="3.5" fill="#c4f022"/>
<circle cx="142.3" cy="182.8" r="4.4" fill="#c4f022"/>
<circle cx="76" cy="319.9" r="4.2" fill="#c4f022"/>
<circle cx="159.1" cy="316.6" r="4.6" fill="#46e820"/>
<circle cx="129.4" cy="423.1" r="2.9" fill="#5cdc26"/>
<circle cx="68.3" cy="451.7" r="4.4" fill="#c4f022"/>
<circle cx="105.1" cy="463.2" r="4.3" fill="#f2c424"/>
<circle cx="132.2" cy="372.8" r="4.5" fill="#6cec22"/>
<circle cx="98.3" cy="334.7" r="3.9" fill="#c4f022"/>
<circle cx="63.5" cy="241.2" r="4.4" fill="#98ee22"/>
<circle cx="81.9" cy="271.7" r="4.4" fill="#2ede20"/>
<circle cx="59" cy="431.3" r="3.4" fill="#ec4014"/>
<circle cx="55.7" cy="208.1" r="4.8" fill="#2ede20"/>
<circle cx="90.6" cy="368.6" r="3.3" fill="#e6ee24"/>
<circle cx="56.6" cy="446.4" r="4.6" fill="#98ee22"/>
<circle cx="190.5" cy="446.9" r="4.1" fill="#98ee22"/>
<circle cx="77.3" cy="471.4" r="4.1" fill="#c4f022"/>
<circle cx="144.8" cy="474.2" r="3.7" fill="#c4f022"/>
<circle cx="122.3" cy="196" r="3.9" fill="#e6ee22"/>
<circle cx="152.5" cy="340.4" r="3.7" fill="#2ede20"/>
<circle cx="113.9" cy="177" r="4.6" fill="#e6ee22"/>
<circle cx="66.1" cy="211.7" r="4.5" fill="#6cec22"/>
<circle cx="75.6" cy="178" r="4.4" fill="#98ee22"/>
<circle cx="182.6" cy="208" r="4.2" fill="#e6ee22"/>
<circle cx="82" cy="452.6" r="4" fill="#e6ee22"/>
<circle cx="170.9" cy="228.7" r="3.5" fill="#e6ee22"/>
<circle cx="169.7" cy="469.6" r="2.2" fill="#3cd42c"/>
<circle cx="181.8" cy="308.9" r="4.9" fill="#46e820"/>
<circle cx="98" cy="240.8" r="4.2" fill="#2ede20"/>
<circle cx="72.2" cy="310.2" r="3.6" fill="#2ede20"/>
<circle cx="150.3" cy="208.1" r="3.7" fill="#6cec22"/>
<circle cx="52.3" cy="274.9" r="3.8" fill="#6cec22"/>
<circle cx="55.8" cy="269.1" r="4.7" fill="#46e820"/>
<circle cx="180.8" cy="350.6" r="3.9" fill="#f2c424"/>
<circle cx="58.1" cy="331.8" r="3.6" fill="#e6ee22"/>
<circle cx="185.9" cy="337.4" r="3.3" fill="#6cec22"/>
<circle cx="111.9" cy="374.6" r="3.3" fill="#46e820"/>
<circle cx="188" cy="391.5" r="4.1" fill="#98ee22"/>
<circle cx="101.3" cy="189.3" r="3.9" fill="#e6ee24"/>
<circle cx="87.4" cy="270" r="4.9" fill="#6cec22"/>
<circle cx="160.9" cy="430.5" r="3.8" fill="#46e820"/>
<circle cx="134.3" cy="397.2" r="4.9" fill="#46e820"/>
<circle cx="60.1" cy="487.7" r="4.9" fill="#e6ee22"/>
<circle cx="167.1" cy="348.7" r="4.2" fill="#e6ee24"/>
<circle cx="142.6" cy="368.9" r="3.7" fill="#46e820"/>
<circle cx="79.2" cy="201.5" r="4.3" fill="#46e820"/>
<circle cx="162.2" cy="263.1" r="3.8" fill="#c4f022"/>
<circle cx="141.3" cy="298" r="4.5" fill="#e6ee22"/>
<circle cx="75.2" cy="339.4" r="3.7" fill="#6cec22"/>
<circle cx="77.7" cy="310.3" r="3.3" fill="#6cec22"/>
<circle cx="133.7" cy="348.9" r="3.6" fill="#46e820"/>
<circle cx="165.2" cy="314.9" r="3.8" fill="#2ede20"/>
<circle cx="79.1" cy="329" r="4.8" fill="#6cec22"/>
<circle cx="156.4" cy="208.1" r="4.6" fill="#e6ee22"/>
<circle cx="186.4" cy="385.6" r="4.7" fill="#98ee22"/>
<circle cx="129.8" cy="184.3" r="4.7" fill="#98ee22"/>
<circle cx="112.6" cy="202.1" r="4.5" fill="#c4f022"/>
<circle cx="65.6" cy="275.1" r="3.6" fill="#e6ee22"/>
<circle cx="105.1" cy="323.4" r="3.6" fill="#e6ee24"/>
<circle cx="154.7" cy="360.4" r="4.3" fill="#f2c424"/>
<circle cx="97.6" cy="495" r="4" fill="#e6ee22"/>
<circle cx="110.6" cy="401.7" r="3.5" fill="#e6ee22"/>
<circle cx="188" cy="356.5" r="3.9" fill="#46e820"/>
<circle cx="66.6" cy="190.8" r="4.9" fill="#f09020"/>
<circle cx="64.4" cy="377.6" r="4.8" fill="#c4f022"/>
<circle cx="127.3" cy="235.7" r="4.4" fill="#6cec22"/>
<circle cx="66.6" cy="363.3" r="3.6" fill="#46e820"/>
<circle cx="103.3" cy="493.7" r="4.8" fill="#46e820"/>
<circle cx="97.7" cy="218.2" r="4.5" fill="#98ee22"/>
<circle cx="83.5" cy="423" r="3.4" fill="#e6ee22"/>
<circle cx="161.9" cy="195.1" r="4.9" fill="#46e820"/>
<circle cx="187.3" cy="191.8" r="3.6" fill="#6cec22"/>
<circle cx="93.5" cy="202.6" r="3.9" fill="#c4f022"/>
<circle cx="144.9" cy="310.7" r="3.7" fill="#c4f022"/>
<circle cx="167.7" cy="345.2" r="4.4" fill="#e6ee24"/>
<circle cx="192.6" cy="464.9" r="5" fill="#c4f022"/>
<circle cx="101.8" cy="288.9" r="4.5" fill="#e6ee22"/>
<circle cx="85.2" cy="252.5" r="4.7" fill="#46e820"/>
<circle cx="194" cy="213.5" r="4.4" fill="#c4f022"/>
<circle cx="58.8" cy="491.7" r="4.6" fill="#98ee22"/>
<circle cx="86.3" cy="224.2" r="4.5" fill="#c4f022"/>
<circle cx="111.8" cy="454.7" r="4" fill="#c4f022"/>
<circle cx="182.4" cy="471.4" r="3.4" fill="#e6ee24"/>
<circle cx="124.5" cy="264.2" r="3.4" fill="#b0ee22"/>
<circle cx="98.7" cy="304.8" r="3.4" fill="#46e820"/>
<circle cx="193.5" cy="259.3" r="3.6" fill="#98ee22"/>
<circle cx="70.8" cy="481.1" r="3.7" fill="#f09020"/>
<circle cx="143.4" cy="218.1" r="3.9" fill="#6cec22"/>
<circle cx="54.7" cy="303.4" r="5" fill="#e6ee22"/>
<circle cx="112.3" cy="420.4" r="4.9" fill="#46e820"/>
<circle cx="154.7" cy="317.4" r="3.7" fill="#c4f022"/>
<circle cx="173.4" cy="475.3" r="4.5" fill="#98ee22"/>
<circle cx="93.1" cy="212.6" r="3.9" fill="#98ee22"/>
<circle cx="77.7" cy="207.6" r="4.1" fill="#98ee22"/>
<circle cx="191" cy="483.3" r="3.5" fill="#6cec22"/>
<circle cx="64.6" cy="220.3" r="4.8" fill="#2ede20"/>
<circle cx="47.2" cy="306" r="3.7" fill="#6cec22"/>
<circle cx="190.5" cy="242.3" r="4.6" fill="#6cec22"/>
<circle cx="155.2" cy="400.6" r="3.7" fill="#b0ee22"/>
<circle cx="139.2" cy="236.1" r="3.9" fill="#c4f022"/>
<circle cx="86.4" cy="454.8" r="3.1" fill="#2cc83a"/>
<circle cx="144.6" cy="303.1" r="3.9" fill="#6cec22"/>
<circle cx="72" cy="265.4" r="4.7" fill="#f09020"/>
<circle cx="93.8" cy="191.3" r="4.2" fill="#6cec22"/>
<circle cx="129.9" cy="254.7" r="3.5" fill="#98ee22"/>
<circle cx="161.2" cy="258.5" r="4" fill="#2ede20"/>
<circle cx="53.1" cy="474.6" r="4.8" fill="#6cec22"/>
<circle cx="88.1" cy="475.4" r="3.8" fill="#98ee22"/>
<circle cx="89.5" cy="437.3" r="4.4" fill="#98ee22"/>
<circle cx="114.4" cy="213.1" r="3.4" fill="#46e820"/>
<circle cx="106.3" cy="178.3" r="4.2" fill="#98ee22"/>
<circle cx="146.8" cy="407.9" r="4.6" fill="#e6ee22"/>
<circle cx="90.1" cy="413.4" r="3.8" fill="#e6ee22"/>
<circle cx="128.1" cy="303.3" r="4.6" fill="#e6ee22"/>
<circle cx="141.5" cy="390.4" r="4.7" fill="#98ee22"/>
<circle cx="190.9" cy="316.6" r="3.6" fill="#6cec22"/>
<circle cx="54.1" cy="348.5" r="4.2" fill="#c4f022"/>
<circle cx="87.1" cy="212.6" r="4.1" fill="#c4f022"/>
<circle cx="136.3" cy="356.8" r="3.7" fill="#c4f022"/>
<circle cx="69.8" cy="242.3" r="3.8" fill="#46e820"/>
<circle cx="107.9" cy="420.5" r="3.8" fill="#2ede20"/>
<circle cx="55.5" cy="357.1" r="4" fill="#98ee22"/>
<circle cx="118.3" cy="477.1" r="4.2" fill="#98ee22"/>
<circle cx="91.6" cy="379.2" r="4.9" fill="#98ee22"/>
<circle cx="46.2" cy="394.4" r="4.9" fill="#2ede20"/>
<circle cx="170.4" cy="251.9" r="4.6" fill="#46e820"/>
<circle cx="165.9" cy="200" r="3.7" fill="#6cec22"/>
<circle cx="123.4" cy="252.3" r="3.9" fill="#c4f022"/>
<circle cx="163.3" cy="343.3" r="4.4" fill="#c4f022"/>
<circle cx="171.5" cy="315.6" r="4" fill="#2ede20"/>
<circle cx="184.8" cy="235.5" r="4.4" fill="#46e820"/>
<circle cx="99.3" cy="248.7" r="4.2" fill="#98ee22"/>
<circle cx="95" cy="419" r="4.1" fill="#c4f022"/>
<circle cx="178.1" cy="200.7" r="3.5" fill="#98ee22"/>
<circle cx="87.2" cy="177.4" r="4" fill="#e6ee22"/>
<circle cx="187.3" cy="303.1" r="4.9" fill="#98ee22"/>
<circle cx="118.4" cy="247.5" r="3.9" fill="#6cec22"/>
<circle cx="124.2" cy="310.6" r="4.9" fill="#6cec22"/>
<circle cx="155.6" cy="378.3" r="4.6" fill="#c4f022"/>
<circle cx="110.4" cy="377.8" r="3.8" fill="#98ee22"/>
<circle cx="133.8" cy="452.9" r="5" fill="#e6ee22"/>
<circle cx="178.2" cy="407" r="4.3" fill="#6cec22"/>
<circle cx="139.6" cy="442.5" r="3.9" fill="#c4f022"/>
<circle cx="51.6" cy="390.1" r="5" fill="#2ede20"/>
<circle cx="157.7" cy="493.2" r="3.4" fill="#46e820"/>
<circle cx="116.1" cy="458.9" r="4.9" fill="#98ee22"/>
<circle cx="88.1" cy="189.3" r="3.5" fill="#46e820"/>
<circle cx="163.1" cy="208.6" r="4.5" fill="#c4f022"/>
<circle cx="88.1" cy="316.5" r="4.2" fill="#2ede20"/>
<circle cx="178.8" cy="213" r="4.9" fill="#6cec22"/>
<circle cx="61.7" cy="246" r="3.5" fill="#c4f022"/>
<circle cx="57.2" cy="389.2" r="3.3" fill="#2ede20"/>
<circle cx="188.8" cy="401" r="4" fill="#98ee22"/>
<circle cx="129.7" cy="195.4" r="4.2" fill="#c4f022"/>
<circle cx="58.1" cy="308.7" r="4.1" fill="#6cec22"/>
<circle cx="91.3" cy="471.3" r="4.2" fill="#c4f022"/>
<circle cx="61.9" cy="317.6" r="3.8" fill="#e6ee22"/>
<circle cx="76.4" cy="274.7" r="4.6" fill="#6cec22"/>
<circle cx="85.4" cy="440.5" r="3.9" fill="#c4f022"/>
<circle cx="191.3" cy="454.1" r="3.6" fill="#c4f022"/>
<circle cx="72.8" cy="409.1" r="4.8" fill="#e6ee22"/>
<circle cx="45.7" cy="248" r="4.2" fill="#c4f022"/>
<circle cx="69.1" cy="378.4" r="4.4" fill="#2ede20"/>
<circle cx="175" cy="392" r="4.6" fill="#e6ee22"/>
<circle cx="146.2" cy="317.6" r="3.7" fill="#6cec22"/>
<circle cx="45.8" cy="292.2" r="5" fill="#46e820"/>
<circle cx="80.4" cy="406.1" r="4.5" fill="#e6ee22"/>
<circle cx="60" cy="419.1" r="3.4" fill="#2ede20"/>
<circle cx="142.8" cy="230.8" r="4.4" fill="#e6ee24"/>
<circle cx="132.2" cy="440.6" r="3.6" fill="#c4f022"/>
<circle cx="139.7" cy="327.8" r="3.8" fill="#2ede20"/>
<circle cx="170.7" cy="308.5" r="4.3" fill="#46e820"/>
<circle cx="68.5" cy="225.6" r="3.4" fill="#98ee22"/>
<circle cx="153.8" cy="248.5" r="4.3" fill="#6cec22"/>
<circle cx="158" cy="309.6" r="4" fill="#6cec22"/>
<circle cx="86.2" cy="235.7" r="4.2" fill="#6cec22"/>
<circle cx="158.1" cy="237" r="4.4" fill="#e6ee22"/>
<circle cx="70.9" cy="322.9" r="4.8" fill="#98ee22"/>
<circle cx="49.2" cy="254.1" r="4.9" fill="#6cec22"/>
<circle cx="84.7" cy="230.2" r="4.9" fill="#c4f022"/>
<circle cx="116.5" cy="437.8" r="4.1" fill="#6cec22"/>
<circle cx="138.6" cy="317.6" r="4.6" fill="#46e820"/>
<circle cx="53.2" cy="280.1" r="4.3" fill="#c4f022"/>
<circle cx="110.7" cy="251.7" r="4.7" fill="#46e820"/>
<circle cx="101.5" cy="407.2" r="4.4" fill="#e6ee22"/>
<circle cx="128.5" cy="355.2" r="3.5" fill="#e6ee22"/>
<circle cx="120.6" cy="440.7" r="3.4" fill="#98ee22"/>
<circle cx="190.2" cy="277.1" r="4.4" fill="#e6ee22"/>
<circle cx="125" cy="406.7" r="4.7" fill="#c4f022"/>
<circle cx="192.2" cy="385.6" r="3.5" fill="#46e820"/>
<circle cx="51.4" cy="195.8" r="5" fill="#6cec22"/>
<circle cx="91.2" cy="424.6" r="3.4" fill="#46e820"/>
<circle cx="100.3" cy="340" r="4.6" fill="#6cec22"/>
<circle cx="77.8" cy="434.7" r="4" fill="#46e820"/>
<circle cx="127.8" cy="213.4" r="3.7" fill="#e6ee22"/>
<circle cx="72.4" cy="463.6" r="3.9" fill="#98ee22"/>
<circle cx="150.7" cy="491.4" r="3.7" fill="#6cec22"/>
<circle cx="188.3" cy="368" r="4.7" fill="#6cec22"/>
<circle cx="67" cy="271.4" r="3.7" fill="#f2c424"/>
<circle cx="193.2" cy="234.8" r="4.9" fill="#c4f022"/>
<circle cx="178.5" cy="338" r="4" fill="#98ee22"/>
<circle cx="166.2" cy="340.4" r="4.3" fill="#46e820"/>
<circle cx="123" cy="357.5" r="3.4" fill="#c4f022"/>
<circle cx="168.3" cy="184.8" r="3.6" fill="#f09020"/>
<circle cx="91" cy="319.9" r="3.7" fill="#46e820"/>
<circle cx="46.3" cy="338.7" r="4" fill="#c4f022"/>
<circle cx="114.8" cy="340.6" r="4" fill="#6cec22"/>
<circle cx="60.7" cy="408.4" r="3.8" fill="#b0ee22"/>
<circle cx="90.7" cy="448.3" r="2.1" fill="#2cc83a"/>
<circle cx="188.2" cy="207.3" r="3.5" fill="#6cec22"/>
<circle cx="118.3" cy="281.7" r="4" fill="#2ede20"/>
<circle cx="131.9" cy="489" r="4" fill="#46e820"/>
<circle cx="83.6" cy="289.2" r="4.8" fill="#f2c424"/>
<circle cx="108.6" cy="236.7" r="4.5" fill="#e6ee22"/>
<circle cx="155" cy="275.4" r="3.4" fill="#6cec22"/>
<circle cx="63.6" cy="435.8" r="3.4" fill="#f0681c"/>
<circle cx="54.7" cy="214.7" r="4.1" fill="#46e820"/>
<circle cx="165.7" cy="213.2" r="3.8" fill="#46e820"/>
<circle cx="186.3" cy="454.4" r="4.8" fill="#6cec22"/>
<circle cx="154.6" cy="468.7" r="2.5" fill="#2cc83a"/>
<circle cx="82.9" cy="436.9" r="3.7" fill="#6cec22"/>
<circle cx="142.3" cy="414.9" r="4.8" fill="#e6ee22"/>
<circle cx="181.2" cy="383" r="3.9" fill="#46e820"/>
<circle cx="51.7" cy="470.9" r="4.5" fill="#2ede20"/>
<circle cx="180.1" cy="453.2" r="5" fill="#98ee22"/>
<circle cx="63.4" cy="491.8" r="4.3" fill="#c4f022"/>
<circle cx="108.3" cy="487.6" r="3.8" fill="#98ee22"/>
<circle cx="170.7" cy="435" r="4.6" fill="#6cec22"/>
<circle cx="96.5" cy="253.6" r="3.7" fill="#e6ee24"/>
<circle cx="144.2" cy="275.4" r="3.6" fill="#e6ee22"/>
<circle cx="180.9" cy="196.6" r="3.5" fill="#98ee22"/>
<circle cx="76.5" cy="331.9" r="4.6" fill="#6cec22"/>
<circle cx="140.2" cy="350.9" r="4.9" fill="#6cec22"/>
<circle cx="82" cy="429.4" r="4.2" fill="#e6ee24"/>
<circle cx="113.6" cy="303.4" r="3.9" fill="#c4f022"/>
<circle cx="59.3" cy="214.6" r="3.4" fill="#e6ee22"/>
<circle cx="164.5" cy="453.6" r="4.4" fill="#46e820"/>
<circle cx="145.8" cy="283.4" r="3.4" fill="#6cec22"/>
<circle cx="94.2" cy="270.7" r="3.9" fill="#f0681c"/>
<circle cx="124.6" cy="425.9" r="4.1" fill="#98ee22"/>
<circle cx="57.9" cy="252.2" r="4.8" fill="#c4f022"/>
<circle cx="165.8" cy="407.5" r="4.2" fill="#c4f022"/>
<circle cx="94.5" cy="477.4" r="3.9" fill="#c4f022"/>
<circle cx="85.5" cy="489" r="3.4" fill="#b0ee22"/>
<circle cx="115.9" cy="448.3" r="4.5" fill="#98ee22"/>
<circle cx="98.3" cy="300.3" r="3.9" fill="#c4f022"/>
<circle cx="122.4" cy="449.1" r="4.9" fill="#2ede20"/>
<circle cx="78" cy="196.1" r="4.4" fill="#e6ee24"/>
<circle cx="104.2" cy="197.7" r="4.5" fill="#2ede20"/>
<circle cx="110.9" cy="458.7" r="3.5" fill="#c4f022"/>
<circle cx="177.2" cy="412" r="4.4" fill="#98ee22"/>
<circle cx="129.7" cy="491.5" r="4.2" fill="#98ee22"/>
<circle cx="65.7" cy="260.2" r="3.5" fill="#98ee22"/>
<circle cx="154.1" cy="258.7" r="4.9" fill="#2ede20"/>
<circle cx="182.8" cy="322.5" r="3.4" fill="#c4f022"/>
<circle cx="118.1" cy="219.4" r="4" fill="#6cec22"/>
<circle cx="49.2" cy="309.4" r="4.9" fill="#6cec22"/>
<circle cx="66.9" cy="463.7" r="4.9" fill="#c4f022"/>
<circle cx="70.6" cy="185.7" r="3.7" fill="#f0681c"/>
<circle cx="112.5" cy="315" r="3.9" fill="#98ee22"/>
<circle cx="83.9" cy="276.6" r="4.6" fill="#46e820"/>
<circle cx="92.7" cy="316.5" r="4.3" fill="#c4f022"/>
<circle cx="157.2" cy="299.7" r="1.9" fill="#3cd42c"/>
<circle cx="189.9" cy="184.8" r="4" fill="#6cec22"/>
<circle cx="103.7" cy="437.3" r="3.7" fill="#e6ee24"/>
<circle cx="81.7" cy="315.7" r="4.2" fill="#c4f022"/>
<circle cx="173" cy="363.3" r="4.5" fill="#6cec22"/>
<circle cx="55.5" cy="377.4" r="4.5" fill="#c4f022"/>
<circle cx="106.5" cy="245.8" r="3.8" fill="#c4f022"/>
<circle cx="146.4" cy="383.2" r="3.7" fill="#6cec22"/>
<circle cx="141.9" cy="401" r="3.7" fill="#c4f022"/>
<circle cx="84.9" cy="300.6" r="4.6" fill="#46e820"/>
<circle cx="92.7" cy="260.2" r="4.2" fill="#e6ee22"/>
<circle cx="191" cy="379.9" r="3.7" fill="#6cec22"/>
<circle cx="132.1" cy="248.9" r="4.2" fill="#2ede20"/>
<circle cx="164.9" cy="373.1" r="3.5" fill="#c4f022"/>
<circle cx="183.5" cy="286.5" r="4.4" fill="#c4f022"/>
<circle cx="139.6" cy="291.8" r="4.4" fill="#e6ee24"/>
<circle cx="191.7" cy="395.4" r="3.5" fill="#46e820"/>
<circle cx="188" cy="310.3" r="4.3" fill="#e6ee22"/>
<circle cx="82.7" cy="195.9" r="4.2" fill="#e6ee24"/>
<circle cx="51.5" cy="378" r="5" fill="#6cec22"/>
<circle cx="132.2" cy="384.9" r="4.3" fill="#f2c424"/>
<circle cx="79.8" cy="235.6" r="5" fill="#c4f022"/>
<circle cx="171.9" cy="431" r="4.4" fill="#e6ee24"/>
<circle cx="160" cy="397" r="4.7" fill="#b0ee22"/>
<circle cx="186.4" cy="293.6" r="4.9" fill="#c4f022"/>
<circle cx="147.4" cy="237.3" r="3.9" fill="#2ede20"/>
<circle cx="104.5" cy="300.2" r="4.7" fill="#98ee22"/>
<circle cx="170.7" cy="481.1" r="4.8" fill="#6cec22"/>
<circle cx="149.1" cy="334.4" r="4.7" fill="#e6ee22"/>
<circle cx="115.1" cy="488.3" r="4.4" fill="#c4f022"/>
<circle cx="182.8" cy="230.7" r="4.2" fill="#e6ee22"/>
<circle cx="103.9" cy="231.9" r="3.7" fill="#2ede20"/>
<circle cx="156.3" cy="391" r="4.6" fill="#98ee22"/>
<circle cx="79.2" cy="258.9" r="4.2" fill="#6cec22"/>
<circle cx="48.2" cy="188.5" r="4.8" fill="#2ede20"/>
<circle cx="85.2" cy="357" r="4.6" fill="#c4f022"/>
<circle cx="150.8" cy="400.1" r="4.3" fill="#e6ee22"/>
<circle cx="116.7" cy="378.6" r="4.4" fill="#46e820"/>
<circle cx="74.2" cy="325.9" r="3.4" fill="#98ee22"/>
<circle cx="163.3" cy="494.3" r="3.5" fill="#c4f022"/>
<circle cx="189.9" cy="493.6" r="3.8" fill="#46e820"/>
<circle cx="47.9" cy="441.2" r="3.5" fill="#2ede20"/>
<circle cx="67.2" cy="374.7" r="3.7" fill="#46e820"/>
<circle cx="137.3" cy="412.7" r="4" fill="#e6ee22"/>
<circle cx="93.7" cy="326.9" r="4.5" fill="#98ee22"/>
<circle cx="82.6" cy="332.8" r="4.7" fill="#c4f022"/>
<circle cx="108.3" cy="291.3" r="4.7" fill="#98ee22"/>
<circle cx="118.2" cy="332.8" r="4.4" fill="#f2c424"/>
<circle cx="56.4" cy="286.9" r="3.6" fill="#e6ee24"/>
<circle cx="93.1" cy="383.2" r="4.8" fill="#6cec22"/>
<circle cx="46.1" cy="282.4" r="4.5" fill="#98ee22"/>
<circle cx="108.5" cy="268.7" r="4.7" fill="#c4f022"/>
<circle cx="86.4" cy="431.4" r="3.6" fill="#e6ee24"/>
<circle cx="94.4" cy="292" r="4.7" fill="#46e820"/>
<circle cx="147.9" cy="339" r="4.6" fill="#c4f022"/>
<circle cx="164.5" cy="487.2" r="3.7" fill="#98ee22"/>
<circle cx="162.9" cy="277.2" r="4.4" fill="#98ee22"/>
<circle cx="99.5" cy="396.8" r="3.4" fill="#46e820"/>
<circle cx="158.2" cy="202.8" r="4.9" fill="#e6ee22"/>
<circle cx="164.5" cy="458.1" r="2.1" fill="#3cd42c"/>
<circle cx="114.9" cy="392.1" r="3.6" fill="#98ee22"/>
<circle cx="91.1" cy="346.3" r="3.7" fill="#c4f022"/>
<circle cx="122.4" cy="334.6" r="4.7" fill="#e6ee22"/>
<circle cx="169.1" cy="493.2" r="4" fill="#6cec22"/>
<circle cx="87.2" cy="200" r="4.1" fill="#ec4014"/>
<circle cx="71.1" cy="368.2" r="3.3" fill="#2ede20"/>
<circle cx="70.4" cy="493.1" r="4.5" fill="#98ee22"/>
<circle cx="164.5" cy="179.4" r="4.1" fill="#2ede20"/>
<circle cx="66" cy="443.3" r="4.3" fill="#f2c424"/>
<circle cx="159.6" cy="340.3" r="4.8" fill="#e6ee22"/>
<circle cx="140.3" cy="477.1" r="4.5" fill="#e6ee22"/>
<circle cx="59.8" cy="237.6" r="3.6" fill="#2ede20"/>
<circle cx="190" cy="194.6" r="4.5" fill="#98ee22"/>
<circle cx="143" cy="437.5" r="4.8" fill="#e6ee22"/>
<circle cx="80.4" cy="361.1" r="3.6" fill="#e6ee22"/>
<circle cx="76.9" cy="265.7" r="4.6" fill="#f09020"/>
<circle cx="141.3" cy="448.9" r="3.8" fill="#46e820"/>
<circle cx="73.1" cy="372.5" r="4.8" fill="#c4f022"/>
<circle cx="180.8" cy="269" r="4.6" fill="#46e820"/>
<circle cx="185.4" cy="486.8" r="4.1" fill="#46e820"/>
<circle cx="116.4" cy="196.8" r="5" fill="#98ee22"/>
<circle cx="165.4" cy="280.6" r="4.6" fill="#98ee22"/>
<circle cx="97.8" cy="471.9" r="4.7" fill="#98ee22"/>
<circle cx="113.7" cy="223.6" r="4.4" fill="#c4f022"/>
<circle cx="85.1" cy="494.9" r="4.2" fill="#6cec22"/>
<circle cx="117.7" cy="230" r="4" fill="#46e820"/>
<circle cx="157.5" cy="218.2" r="3.6" fill="#e6ee22"/>
<circle cx="47.8" cy="328.9" r="3.6" fill="#6cec22"/>
<circle cx="66.9" cy="314.4" r="4.9" fill="#2ede20"/>
<circle cx="136" cy="231.1" r="4.1" fill="#6cec22"/>
<circle cx="104" cy="389" r="4.4" fill="#2ede20"/>
<circle cx="94.1" cy="371.5" r="4.2" fill="#e6ee24"/>
<circle cx="100.3" cy="417.6" r="4.2" fill="#e6ee22"/>
<circle cx="145.7" cy="394.4" r="3.5" fill="#6cec22"/>
<circle cx="131" cy="322.5" r="3.9" fill="#f09020"/>
<circle cx="118.7" cy="214.6" r="4.8" fill="#98ee22"/>
<circle cx="64.2" cy="356.8" r="4" fill="#e6ee22"/>
<circle cx="121.2" cy="363.4" r="4.9" fill="#46e820"/>
<circle cx="108.6" cy="357.5" r="4.6" fill="#46e820"/>
<circle cx="173.2" cy="212.1" r="4.7" fill="#c4f022"/>
<circle cx="192.2" cy="443.5" r="3.3" fill="#e6ee22"/>
<circle cx="177.8" cy="418.9" r="4.2" fill="#2ede20"/>
<circle cx="58.2" cy="470.5" r="4.4" fill="#98ee22"/>
<circle cx="111.2" cy="220.6" r="3.6" fill="#46e820"/>
<circle cx="172.8" cy="452.7" r="4.8" fill="#6cec22"/>
<circle cx="161.9" cy="320.2" r="4.4" fill="#98ee22"/>
<circle cx="118" cy="401.5" r="4.8" fill="#98ee22"/>
<circle cx="120.3" cy="294.2" r="3.4" fill="#2ede20"/>
<circle cx="126.2" cy="200.4" r="3.9" fill="#e6ee22"/>
<circle cx="139.2" cy="464.2" r="4.6" fill="#6cec22"/>
<circle cx="49" cy="447.6" r="4" fill="#c4f022"/>
<circle cx="104.3" cy="469.7" r="3.8" fill="#98ee22"/>
<circle cx="177.8" cy="236.9" r="3.9" fill="#e6ee24"/>
<circle cx="61.5" cy="291.4" r="3.5" fill="#f09020"/>
<circle cx="152.2" cy="451.5" r="2.5" fill="#3cd42c"/>
<circle cx="102.1" cy="448.3" r="3.6" fill="#2ede20"/>
<circle cx="52.9" cy="453.9" r="3.4" fill="#46e820"/>
<circle cx="142" cy="483" r="4.8" fill="#c4f022"/>
<circle cx="80.7" cy="249.2" r="4.7" fill="#e6ee22"/>
<circle cx="56.9" cy="231.7" r="3.9" fill="#98ee22"/>
<circle cx="183.4" cy="491.9" r="3.4" fill="#c4f022"/>
<circle cx="62.7" cy="251.5" r="4.5" fill="#2ede20"/>
<circle cx="91.9" cy="282.9" r="3.5" fill="#f0681c"/>
<circle cx="175.4" cy="480.6" r="4.9" fill="#98ee22"/>
<circle cx="144.9" cy="488.2" r="3.5" fill="#46e820"/>
<circle cx="132" cy="406" r="4.4" fill="#e6ee22"/>
<circle cx="139.3" cy="420.6" r="4.8" fill="#46e820"/>
<circle cx="109.6" cy="332.7" r="3.5" fill="#f2c424"/>
<circle cx="76.3" cy="231.6" r="4.1" fill="#e6ee22"/>
<circle cx="129.3" cy="446.8" r="3.6" fill="#e6ee24"/>
<circle cx="145.6" cy="270.4" r="4" fill="#e6ee22"/>
<circle cx="129.6" cy="300.3" r="4.5" fill="#e6ee22"/>
<circle cx="167.8" cy="217.2" r="4.1" fill="#e6ee22"/>
<circle cx="89.1" cy="207" r="4.3" fill="#2ede20"/>
<circle cx="68.8" cy="394.3" r="4.4" fill="#46e820"/>
<circle cx="189.2" cy="424.8" r="4.5" fill="#e6ee22"/>
<circle cx="109.4" cy="196.9" r="3.9" fill="#e6ee22"/>
<circle cx="72.5" cy="477" r="4.5" fill="#f09020"/>
<circle cx="180.4" cy="431.2" r="3.8" fill="#2ede20"/>
<circle cx="190" cy="412" r="4.4" fill="#98ee22"/>
<circle cx="185.1" cy="419.7" r="4.9" fill="#46e820"/>
<circle cx="181.3" cy="332.5" r="3.3" fill="#c4f022"/>
<circle cx="122.5" cy="413.4" r="2.5" fill="#2cc83a"/>
<circle cx="185.6" cy="223.5" r="4.6" fill="#2ede20"/>
<circle cx="119.7" cy="487.7" r="4.7" fill="#46e820"/>
<circle cx="92.6" cy="363.2" r="4.3" fill="#f2c424"/>
<circle cx="64.3" cy="194.9" r="4.5" fill="#6cec22"/>
<circle cx="168.2" cy="320.6" r="4.3" fill="#2ede20"/>
<circle cx="74.5" cy="280.1" r="4.7" fill="#6cec22"/>
<circle cx="55.1" cy="408.3" r="4.5" fill="#e6ee24"/>
<circle cx="88.6" cy="349.8" r="2.3" fill="#3cd42c"/>
<circle cx="96.4" cy="344.3" r="3.8" fill="#98ee22"/>
<circle cx="152" cy="352" r="5" fill="#c4f022"/>
<circle cx="146.9" cy="224.2" r="5" fill="#e6ee22"/>
<circle cx="135.7" cy="480.1" r="4.1" fill="#98ee22"/>
<circle cx="101.2" cy="326" r="3.4" fill="#e6ee24"/>
<circle cx="103.2" cy="483.5" r="4.7" fill="#e6ee22"/>
<circle cx="107.4" cy="225.8" r="3.6" fill="#e6ee22"/>
<circle cx="83" cy="266.2" r="4.2" fill="#e6ee22"/>
<circle cx="183.9" cy="480.2" r="4.2" fill="#c4f022"/>
<circle cx="103.7" cy="207.1" r="3.9" fill="#98ee22"/>
<circle cx="90.6" cy="331.4" r="4.6" fill="#98ee22"/>
<circle cx="73.3" cy="304" r="4.4" fill="#c4f022"/>
<circle cx="120.6" cy="314.4" r="4.6" fill="#98ee22"/>
<circle cx="180.1" cy="441" r="4.5" fill="#6cec22"/>
<circle cx="135.5" cy="209.1" r="3.6" fill="#c4f022"/>
<circle cx="78.6" cy="212.2" r="3.7" fill="#98ee22"/>
<circle cx="73.2" cy="430.6" r="4.9" fill="#e6ee24"/>
<circle cx="148.6" cy="312.1" r="4.1" fill="#46e820"/>
<circle cx="139.1" cy="408.4" r="4.9" fill="#c4f022"/>
<circle cx="77.1" cy="413.6" r="4.7" fill="#98ee22"/>
<circle cx="111.1" cy="231.5" r="4.6" fill="#2ede20"/>
<circle cx="86.9" cy="362.7" r="3.7" fill="#e6ee22"/>
<circle cx="106" cy="306.1" r="4.9" fill="#6cec22"/>
<circle cx="62.8" cy="310.8" r="3.9" fill="#2ede20"/>
<circle cx="115.1" cy="481.8" r="3.8" fill="#98ee22"/>
<circle cx="142" cy="196.6" r="4.7" fill="#c4f022"/>
<circle cx="164.6" cy="303.4" r="2.1" fill="#5cdc26"/>
<circle cx="125.4" cy="463.7" r="4" fill="#e6ee22"/>
<circle cx="63.4" cy="457.4" r="4.7" fill="#98ee22"/>
<circle cx="67.6" cy="350.5" r="4.8" fill="#2ede20"/>
<circle cx="154.6" cy="183.5" r="4" fill="#c4f022"/>
<circle cx="183.7" cy="253.4" r="4.1" fill="#2ede20"/>
<circle cx="163.2" cy="357.1" r="4.6" fill="#6cec22"/>
<circle cx="60.5" cy="361.6" r="4.5" fill="#c4f022"/>
<circle cx="136.5" cy="378.4" r="3.8" fill="#6cec22"/>
<circle cx="143.8" cy="321.3" r="4.5" fill="#46e820"/>
<circle cx="51.1" cy="413.7" r="4.6" fill="#e6ee22"/>
<circle cx="145.8" cy="246.6" r="4.7" fill="#46e820"/>
<circle cx="80.7" cy="486.5" r="4.5" fill="#b0ee22"/>
<circle cx="175.9" cy="310.5" r="4.5" fill="#46e820"/>
<circle cx="97.7" cy="323.4" r="3.3" fill="#e6ee24"/>
<circle cx="81.1" cy="178.5" r="3.5" fill="#6cec22"/>
<circle cx="72.5" cy="452.1" r="4.6" fill="#6cec22"/>
<circle cx="170.2" cy="287.2" r="3.4" fill="#c4f022"/>
<circle cx="183.9" cy="390.9" r="4.6" fill="#6cec22"/>
<circle cx="99.8" cy="384.9" r="3.7" fill="#2ede20"/>
<circle cx="82.9" cy="320.1" r="3.3" fill="#46e820"/>
<circle cx="126.4" cy="178.4" r="3.7" fill="#c4f022"/>
<circle cx="88.9" cy="266.2" r="4.6" fill="#46e820"/>
<circle cx="82.2" cy="458.8" r="4.8" fill="#98ee22"/>
<circle cx="111.6" cy="265.2" r="4.5" fill="#6cec22"/>
<circle cx="177.9" cy="494.7" r="4.9" fill="#c4f022"/>
<circle cx="95.4" cy="246.6" r="3.7" fill="#6cec22"/>
<circle cx="135" cy="297.8" r="3.8" fill="#e6ee22"/>
<circle cx="101.6" cy="236.4" r="3.7" fill="#e6ee24"/>
<circle cx="153.4" cy="214.3" r="4.9" fill="#c4f022"/>
<circle cx="184.1" cy="241.5" r="4.1" fill="#98ee22"/>
<circle cx="54.6" cy="180.4" r="4" fill="#98ee22"/>
<circle cx="114.3" cy="384" r="4.5" fill="#98ee22"/>
<circle cx="103.3" cy="343.3" r="4.3" fill="#46e820"/>
<circle cx="46.3" cy="453.6" r="4" fill="#e6ee22"/>
<circle cx="112.7" cy="474.5" r="3.6" fill="#e6ee22"/>
<circle cx="78.8" cy="299.4" r="4.9" fill="#f2c424"/>
<circle cx="128.9" cy="344" r="4" fill="#e6ee24"/>
<circle cx="108.8" cy="208.7" r="4.2" fill="#98ee22"/>
<circle cx="95" cy="440.8" r="4.6" fill="#6cec22"/>
<circle cx="187.7" cy="463.1" r="3.5" fill="#46e820"/>
<circle cx="155.2" cy="322.4" r="4.7" fill="#c4f022"/>
<circle cx="119.3" cy="431" r="4.3" fill="#f2c424"/>
<circle cx="133.5" cy="270.5" r="3.4" fill="#6cec22"/>
<circle cx="96.5" cy="437.5" r="4.9" fill="#e6ee24"/>
<circle cx="111.8" cy="367.1" r="4.5" fill="#2ede20"/>
<circle cx="61.8" cy="260.2" r="4.1" fill="#46e820"/>
<circle cx="47.4" cy="374.7" r="4.3" fill="#46e820"/>
<circle cx="76.8" cy="492" r="4.1" fill="#98ee22"/>
<circle cx="104.9" cy="309.1" r="3.7" fill="#98ee22"/>
<circle cx="64.1" cy="401.9" r="4.8" fill="#b0ee22"/>
<circle cx="163.1" cy="411.6" r="2.7" fill="#3cd42c"/>
<circle cx="78.9" cy="303.1" r="4.6" fill="#98ee22"/>
<circle cx="150.1" cy="243.4" r="4.7" fill="#98ee22"/>
<circle cx="97.5" cy="197.4" r="4.8" fill="#98ee22"/>
<circle cx="123.5" cy="482.1" r="3.8" fill="#c4f022"/>
<circle cx="180.6" cy="190.1" r="4.4" fill="#98ee22"/>
<circle cx="46.6" cy="225" r="3.3" fill="#6cec22"/>
<circle cx="107.8" cy="201" r="3.9" fill="#2ede20"/>
<circle cx="119.9" cy="454.3" r="3.8" fill="#98ee22"/>
<circle cx="116.8" cy="241.6" r="3.5" fill="#46e820"/>
<circle cx="101.8" cy="350.5" r="4.9" fill="#2ede20"/>
<circle cx="149.1" cy="231.7" r="4.3" fill="#e6ee24"/>
<circle cx="172.9" cy="224" r="4.5" fill="#6cec22"/>
<circle cx="89.3" cy="493.6" r="4.6" fill="#46e820"/>
<circle cx="49.4" cy="218.4" r="3.4" fill="#e6ee22"/>
<circle cx="72.3" cy="397.2" r="4.1" fill="#46e820"/>
<circle cx="105.5" cy="407" r="3.3" fill="#46e820"/>
<circle cx="119.5" cy="303.3" r="4.4" fill="#e6ee22"/>
<circle cx="121.6" cy="396.6" r="4.1" fill="#98ee22"/>
<circle cx="95.7" cy="368.6" r="3.5" fill="#f2c424"/>
<circle cx="156.5" cy="194.8" r="3.6" fill="#c4f022"/>
<circle cx="74.9" cy="348.7" r="4.7" fill="#98ee22"/>
<circle cx="152.2" cy="304.4" r="2.6" fill="#8ae424"/>
<circle cx="152.4" cy="431.5" r="3.3" fill="#3cd42c"/>
<circle cx="174.5" cy="287.3" r="4" fill="#98ee22"/>
<circle cx="186.4" cy="406.2" r="3.6" fill="#46e820"/>
<circle cx="64.5" cy="368.1" r="4.9" fill="#e6ee22"/>
<circle cx="117.8" cy="288.6" r="3.5" fill="#2ede20"/>
<circle cx="139.2" cy="180.5" r="4.8" fill="#e6ee22"/>
<circle cx="47.5" cy="477" r="4.3" fill="#2ede20"/>
<circle cx="149.9" cy="342.9" r="4.6" fill="#6cec22"/>
<circle cx="70" cy="288.8" r="4.7" fill="#f09020"/>
<circle cx="122" cy="459.5" r="3.4" fill="#46e820"/>
<circle cx="177.2" cy="458.8" r="4" fill="#46e820"/>
<circle cx="55" cy="246" r="3.7" fill="#2ede20"/>
<circle cx="69.4" cy="424" r="4.5" fill="#f2c424"/>
<circle cx="52.5" cy="371.6" r="3.9" fill="#2ede20"/>
<circle cx="122" cy="207.7" r="4.2" fill="#e6ee22"/>
<circle cx="165.8" cy="394.8" r="4.1" fill="#e6ee22"/>
<circle cx="137.1" cy="366.2" r="4.5" fill="#f09020"/>
<circle cx="170.8" cy="355.6" r="4.9" fill="#6cec22"/>
<circle cx="165.4" cy="269" r="4.3" fill="#c4f022"/>
<circle cx="66.8" cy="305.6" r="3.5" fill="#46e820"/>
<circle cx="158.1" cy="303.2" r="2.3" fill="#8ae424"/>
<circle cx="194.3" cy="271.9" r="3.6" fill="#6cec22"/>
<circle cx="124.3" cy="220.4" r="4.3" fill="#46e820"/>
<circle cx="153.1" cy="178.1" r="4.4" fill="#6cec22"/>
<circle cx="180.5" cy="475.5" r="4.8" fill="#c4f022"/>
<circle cx="188.3" cy="265.9" r="4.3" fill="#e6ee22"/>
<circle cx="57.1" cy="414.1" r="3.5" fill="#c4f022"/>
<circle cx="174.8" cy="469.9" r="4.2" fill="#e6ee24"/>
<circle cx="68.4" cy="177.3" r="4.8" fill="#e6ee22"/>
<circle cx="174.7" cy="356.9" r="3.5" fill="#98ee22"/>
<circle cx="76.9" cy="240.3" r="4.4" fill="#c4f022"/>
<circle cx="123.4" cy="299.4" r="4.2" fill="#e6ee22"/>
<circle cx="76.9" cy="401.6" r="4.7" fill="#c4f022"/>
<circle cx="191.7" cy="303.4" r="4.8" fill="#46e820"/>
<circle cx="129.2" cy="470.6" r="4.8" fill="#98ee22"/>
<circle cx="58.1" cy="482.9" r="3.9" fill="#e6ee22"/>
<circle cx="119.9" cy="222.8" r="4.4" fill="#98ee22"/>
<circle cx="139" cy="397.6" r="4.2" fill="#46e820"/>
<circle cx="76.8" cy="182.9" r="4.3" fill="#f09020"/>
<circle cx="68.3" cy="326.7" r="3.8" fill="#f09020"/>
<circle cx="82.5" cy="241.7" r="3.3" fill="#46e820"/>
<circle cx="92.4" cy="222.8" r="3.7" fill="#98ee22"/>
<circle cx="148.3" cy="447" r="2" fill="#8ae424"/>
<circle cx="92.3" cy="236.9" r="4.8" fill="#c4f022"/>
<circle cx="97.1" cy="414.9" r="4.2" fill="#98ee22"/>
<circle cx="99.9" cy="477.3" r="4.6" fill="#98ee22"/>
<circle cx="98.8" cy="180.1" r="4.5" fill="#46e820"/>
<circle cx="169.1" cy="423.8" r="4.6" fill="#98ee22"/>
<circle cx="141.6" cy="213" r="4.1" fill="#2ede20"/>
<circle cx="73.3" cy="214.3" r="4.7" fill="#c4f022"/>
<circle cx="137.2" cy="184.8" r="3.5" fill="#46e820"/>
<circle cx="105.6" cy="373.7" r="4" fill="#98ee22"/>
<circle cx="122.5" cy="366.1" r="3.9" fill="#98ee22"/>
<circle cx="188.3" cy="331.6" r="3.4" fill="#e6ee24"/>
<circle cx="161.3" cy="182.9" r="3.7" fill="#46e820"/>
<circle cx="114.6" cy="441" r="3.4" fill="#98ee22"/>
<circle cx="64.4" cy="480.1" r="3.5" fill="#f09020"/>
<circle cx="71.7" cy="193" r="3.6" fill="#f09020"/>
<circle cx="72.5" cy="185.9" r="3.1" fill="#f2c424"/>
<circle cx="74.8" cy="188.3" r="4" fill="#f2c424"/>
<circle cx="71.4" cy="185.7" r="3.9" fill="#f09020"/>
<circle cx="72" cy="186.1" r="2.7" fill="#f0681c"/>
<circle cx="77.9" cy="188.8" r="3.1" fill="#f2c424"/>
<circle cx="74.9" cy="193.3" r="2.6" fill="#f09020"/>
<circle cx="71.9" cy="189.7" r="3.1" fill="#f2c424"/>
<circle cx="77.7" cy="185.8" r="2.8" fill="#f0681c"/>
<circle cx="75.7" cy="189.8" r="3.7" fill="#f09020"/>
<circle cx="85.7" cy="197.2" r="2.7" fill="#f0681c"/>
<circle cx="85.3" cy="197.1" r="2.6" fill="#f09020"/>
<circle cx="85.7" cy="197.2" r="2.6" fill="#f0681c"/>
<circle cx="83.9" cy="195.5" r="2.4" fill="#f0681c"/>
<circle cx="87.8" cy="197.5" r="2.3" fill="#f0681c"/>
<circle cx="89.4" cy="197.3" r="2.9" fill="#f09020"/>
<circle cx="82.4" cy="194.8" r="1.6" fill="#f09020"/>
<circle cx="80.4" cy="194.6" r="1.9" fill="#f2c424"/>
<circle cx="102.5" cy="187.2" r="2.3" fill="#e6ee24"/>
<circle cx="103.7" cy="188.3" r="2.6" fill="#b0ee22"/>
<circle cx="107.8" cy="187.4" r="2.1" fill="#e6ee24"/>
<circle cx="104.6" cy="187.6" r="2.7" fill="#e6ee24"/>
<circle cx="106" cy="191.9" r="3.2" fill="#e6ee24"/>
<circle cx="103.9" cy="188.1" r="2.8" fill="#e6ee24"/>
<circle cx="102.8" cy="184" r="1.7" fill="#e6ee24"/>
<circle cx="103" cy="184.3" r="1.6" fill="#f2c424"/>
<circle cx="54.9" cy="204.8" r="1.6" fill="#e6ee24"/>
<circle cx="55.1" cy="203.3" r="1.6" fill="#e6ee24"/>
<circle cx="78.3" cy="219.5" r="1.6" fill="#f2c424"/>
<circle cx="77.3" cy="219.9" r="1.6" fill="#b0ee22"/>
<circle cx="100.6" cy="238.2" r="1.6" fill="#b0ee22"/>
<circle cx="100.4" cy="239.7" r="1.6" fill="#e6ee24"/>
<circle cx="169.1" cy="184.7" r="1.6" fill="#f09020"/>
<circle cx="169.6" cy="182.8" r="1.6" fill="#f2c424"/>
<circle cx="145" cy="210.5" r="2.1" fill="#b0ee22"/>
<circle cx="145.7" cy="209.4" r="1.6" fill="#e6ee24"/>
<circle cx="144.6" cy="206.3" r="2.1" fill="#f2c424"/>
<circle cx="128.6" cy="227.5" r="1.6" fill="#e6ee24"/>
<circle cx="129.4" cy="226.6" r="1.6" fill="#e6ee24"/>
<circle cx="147.2" cy="231.6" r="2.3" fill="#e6ee24"/>
<circle cx="143.9" cy="230.8" r="2" fill="#e6ee24"/>
<circle cx="144.2" cy="229.7" r="1.6" fill="#b0ee22"/>
<circle cx="145" cy="232.6" r="2.3" fill="#e6ee24"/>
<circle cx="175.7" cy="232.4" r="2.1" fill="#f2c424"/>
<circle cx="173.7" cy="233.9" r="1.6" fill="#e6ee24"/>
<circle cx="175.8" cy="234.2" r="1.7" fill="#e6ee24"/>
<circle cx="153.9" cy="220.4" r="1.6" fill="#b0ee22"/>
<circle cx="155.2" cy="222.1" r="1.6" fill="#e6ee24"/>
<circle cx="70.1" cy="268.9" r="2.5" fill="#f2c424"/>
<circle cx="71.9" cy="271.8" r="2.1" fill="#f2c424"/>
<circle cx="74.6" cy="271" r="2.3" fill="#f2c424"/>
<circle cx="74.4" cy="269.9" r="3" fill="#f2c424"/>
<circle cx="69.7" cy="270.4" r="2.3" fill="#f09020"/>
<circle cx="75.9" cy="267.5" r="2.6" fill="#f09020"/>
<circle cx="71.3" cy="270.6" r="2.9" fill="#f09020"/>
<circle cx="74.3" cy="270.8" r="1.6" fill="#f09020"/>
<circle cx="75" cy="269.1" r="1.8" fill="#f2c424"/>
<circle cx="73.9" cy="269" r="2.1" fill="#f2c424"/>
<circle cx="96.7" cy="276.2" r="4.1" fill="#f09020"/>
<circle cx="99" cy="275.7" r="5.1" fill="#f0681c"/>
<circle cx="99.1" cy="270.4" r="4.6" fill="#f09020"/>
<circle cx="97.4" cy="270.6" r="4.1" fill="#f09020"/>
<circle cx="94.8" cy="275.8" r="4" fill="#f0681c"/>
<circle cx="96.9" cy="276" r="3.7" fill="#f0681c"/>
<circle cx="98.3" cy="276.5" r="4.8" fill="#f0681c"/>
<circle cx="103.1" cy="276.8" r="3.5" fill="#f0681c"/>
<circle cx="104.1" cy="274.2" r="5.1" fill="#f0681c"/>
<circle cx="101.1" cy="279.6" r="5.1" fill="#f09020"/>
<circle cx="94.8" cy="275.5" r="5.1" fill="#f0681c"/>
<circle cx="100.8" cy="278.8" r="3.7" fill="#f0681c"/>
<circle cx="97.4" cy="274.1" r="4.2" fill="#ec4014"/>
<circle cx="75.7" cy="294.8" r="3" fill="#f09020"/>
<circle cx="75.9" cy="294.9" r="2.6" fill="#f09020"/>
<circle cx="73.9" cy="290.4" r="2.6" fill="#f09020"/>
<circle cx="73.2" cy="293.3" r="3.5" fill="#f0681c"/>
<circle cx="76.4" cy="292.4" r="2.5" fill="#f2c424"/>
<circle cx="75.4" cy="292.6" r="3.7" fill="#f09020"/>
<circle cx="73.7" cy="289" r="3.6" fill="#f2c424"/>
<circle cx="79.2" cy="288.4" r="3.6" fill="#f09020"/>
<circle cx="78.9" cy="293.1" r="3.8" fill="#f09020"/>
<circle cx="58.3" cy="288.6" r="2.6" fill="#f2c424"/>
<circle cx="59.1" cy="293.4" r="2.1" fill="#e6ee24"/>
<circle cx="58.4" cy="293.4" r="2.3" fill="#e6ee24"/>
<circle cx="54.5" cy="294.1" r="3.1" fill="#e6ee24"/>
<circle cx="55.5" cy="290.9" r="2.7" fill="#f2c424"/>
<circle cx="98.7" cy="253.1" r="1.9" fill="#b0ee22"/>
<circle cx="100.8" cy="252.2" r="1.8" fill="#b0ee22"/>
<circle cx="64.3" cy="270.8" r="1.6" fill="#e6ee24"/>
<circle cx="64.8" cy="269.4" r="1.6" fill="#e6ee24"/>
<circle cx="87.3" cy="290.2" r="1.6" fill="#e6ee24"/>
<circle cx="88.6" cy="290.3" r="1.6" fill="#e6ee24"/>
<circle cx="116.7" cy="272.6" r="2" fill="#e6ee24"/>
<circle cx="114.5" cy="273.3" r="1.9" fill="#e6ee24"/>
<circle cx="140.8" cy="285.8" r="2.8" fill="#e6ee24"/>
<circle cx="140.6" cy="283.4" r="2.3" fill="#e6ee24"/>
<circle cx="135.9" cy="285.5" r="2.2" fill="#f2c424"/>
<circle cx="136.5" cy="283.6" r="2.6" fill="#b0ee22"/>
<circle cx="140.2" cy="283.2" r="3.1" fill="#e6ee24"/>
<circle cx="174.1" cy="258.9" r="3.4" fill="#e6ee24"/>
<circle cx="173.1" cy="261" r="2.5" fill="#e6ee24"/>
<circle cx="177.2" cy="264.5" r="2.8" fill="#f2c424"/>
<circle cx="174.4" cy="263.9" r="3.3" fill="#e6ee24"/>
<circle cx="173.1" cy="261.3" r="3.3" fill="#e6ee24"/>
<circle cx="174.5" cy="265.6" r="2.7" fill="#f09020"/>
<circle cx="172.4" cy="265.5" r="3.1" fill="#f09020"/>
<circle cx="181.7" cy="281.1" r="2.1" fill="#f2c424"/>
<circle cx="181.6" cy="281.9" r="2.2" fill="#e6ee24"/>
<circle cx="180.9" cy="280.9" r="2.3" fill="#e6ee24"/>
<circle cx="122.5" cy="266.3" r="1.8" fill="#e6ee24"/>
<circle cx="122.1" cy="264.9" r="1.7" fill="#e6ee24"/>
<circle cx="133.4" cy="317.2" r="1.6" fill="#f09020"/>
<circle cx="131.8" cy="318" r="1.6" fill="#f2c424"/>
<circle cx="64.9" cy="331.4" r="2.1" fill="#f09020"/>
<circle cx="64.8" cy="330.7" r="2.3" fill="#f2c424"/>
<circle cx="64.6" cy="330.2" r="2.8" fill="#f2c424"/>
<circle cx="67.7" cy="327.5" r="2" fill="#f09020"/>
<circle cx="65.7" cy="327.4" r="2.6" fill="#f2c424"/>
<circle cx="64.6" cy="333" r="2.4" fill="#f2c424"/>
<circle cx="65.9" cy="330" r="1.9" fill="#f09020"/>
<circle cx="68.4" cy="330.5" r="1.9" fill="#f2c424"/>
<circle cx="109.7" cy="334.6" r="2.4" fill="#f2c424"/>
<circle cx="113.3" cy="334.7" r="2" fill="#f09020"/>
<circle cx="114.5" cy="337" r="2.5" fill="#f09020"/>
<circle cx="113.5" cy="336.5" r="1.7" fill="#f09020"/>
<circle cx="115.6" cy="334.7" r="1.8" fill="#f09020"/>
<circle cx="114.4" cy="333.4" r="1.7" fill="#f2c424"/>
<circle cx="116.2" cy="333.8" r="1.8" fill="#f0681c"/>
<circle cx="96.9" cy="369" r="1.8" fill="#b0ee22"/>
<circle cx="95.4" cy="366.3" r="2.7" fill="#e6ee24"/>
<circle cx="97" cy="367.6" r="1.9" fill="#e6ee24"/>
<circle cx="95.1" cy="366.9" r="2.4" fill="#e6ee24"/>
<circle cx="95.8" cy="367.6" r="2" fill="#f2c424"/>
<circle cx="100" cy="323.9" r="1.6" fill="#e6ee24"/>
<circle cx="99.7" cy="322.5" r="1.6" fill="#b0ee22"/>
<circle cx="72.7" cy="363.7" r="1.6" fill="#e6ee24"/>
<circle cx="72.4" cy="363.7" r="1.6" fill="#e6ee24"/>
<circle cx="127.1" cy="324.8" r="2.2" fill="#f2c424"/>
<circle cx="128.5" cy="326.1" r="2.8" fill="#f2c424"/>
<circle cx="131.7" cy="322.9" r="3.4" fill="#f2c424"/>
<circle cx="127.4" cy="327.6" r="3.2" fill="#f2c424"/>
<circle cx="134.6" cy="325.5" r="2.4" fill="#f2c424"/>
<circle cx="131.7" cy="329.1" r="2.2" fill="#f09020"/>
<circle cx="131.7" cy="323.5" r="2" fill="#f09020"/>
<circle cx="130.6" cy="324.9" r="1.6" fill="#f09020"/>
<circle cx="132.7" cy="323.6" r="2.2" fill="#f2c424"/>
<circle cx="140.1" cy="343" r="2.6" fill="#f09020"/>
<circle cx="142.2" cy="345.9" r="2" fill="#f09020"/>
<circle cx="138.8" cy="342.2" r="2.4" fill="#f2c424"/>
<circle cx="142.4" cy="345.1" r="1.8" fill="#f0681c"/>
<circle cx="174.1" cy="350.7" r="3.2" fill="#e6ee24"/>
<circle cx="178.6" cy="345.7" r="2.6" fill="#f2c424"/>
<circle cx="176.9" cy="346.8" r="2.2" fill="#f09020"/>
<circle cx="172.8" cy="350.7" r="2.5" fill="#e6ee24"/>
<circle cx="178" cy="349.1" r="3.4" fill="#e6ee24"/>
<circle cx="177.5" cy="345.6" r="3.2" fill="#f2c424"/>
<circle cx="170.5" cy="346.7" r="2.4" fill="#f09020"/>
<circle cx="175.7" cy="349.3" r="2.4" fill="#f09020"/>
<circle cx="173.1" cy="349.6" r="2.2" fill="#f09020"/>
<circle cx="168.5" cy="361.1" r="2.3" fill="#f09020"/>
<circle cx="169.8" cy="360.7" r="1.7" fill="#f09020"/>
<circle cx="166.2" cy="360.7" r="1.6" fill="#f09020"/>
<circle cx="184" cy="327.3" r="2.3" fill="#e6ee24"/>
<circle cx="185.4" cy="328" r="2.1" fill="#e6ee24"/>
<circle cx="187.7" cy="328.8" r="1.7" fill="#f2c424"/>
<circle cx="137.5" cy="369.7" r="1.6" fill="#f09020"/>
<circle cx="135.9" cy="369" r="1.7" fill="#f09020"/>
<circle cx="123.6" cy="384.2" r="2.1" fill="#f2c424"/>
<circle cx="127.3" cy="376" r="2.3" fill="#f2c424"/>
<circle cx="127.1" cy="380.6" r="2.9" fill="#f2c424"/>
<circle cx="126.5" cy="385.4" r="3.2" fill="#f2c424"/>
<circle cx="127.3" cy="379.5" r="3.1" fill="#f09020"/>
<circle cx="127.9" cy="382.8" r="3.2" fill="#f09020"/>
<circle cx="128.7" cy="382.6" r="3" fill="#f2c424"/>
<circle cx="127.3" cy="385.4" r="2.4" fill="#f2c424"/>
<circle cx="126.6" cy="380.5" r="2.5" fill="#f2c424"/>
<circle cx="148.1" cy="359.7" r="1.7" fill="#e6ee24"/>
<circle cx="151.1" cy="359.8" r="2" fill="#f2c424"/>
<circle cx="131.8" cy="342.7" r="1.9" fill="#e6ee24"/>
<circle cx="127.5" cy="342.6" r="2.2" fill="#e6ee24"/>
<circle cx="58" cy="431.6" r="5.2" fill="#f09020"/>
<circle cx="69.4" cy="429.8" r="4.7" fill="#f2c424"/>
<circle cx="66" cy="431.2" r="5.6" fill="#f2c424"/>
<circle cx="67.1" cy="432" r="5.3" fill="#f2c424"/>
<circle cx="67.2" cy="429.6" r="4.6" fill="#f2c424"/>
<circle cx="67.6" cy="437.8" r="4.4" fill="#f09020"/>
<circle cx="64.1" cy="429.3" r="5.4" fill="#f2c424"/>
<circle cx="62.4" cy="434.1" r="4.1" fill="#e6ee24"/>
<circle cx="62" cy="431.3" r="5.8" fill="#f09020"/>
<circle cx="61.6" cy="427.1" r="4.4" fill="#f09020"/>
<circle cx="62.9" cy="438" r="4.1" fill="#f2c424"/>
<circle cx="64.8" cy="428.4" r="5.5" fill="#f2c424"/>
<circle cx="63.5" cy="429.2" r="5.2" fill="#f2c424"/>
<circle cx="59.7" cy="433.2" r="5.6" fill="#e6ee24"/>
<circle cx="64.8" cy="435.8" r="4.3" fill="#f2c424"/>
<circle cx="70.6" cy="432.1" r="4.6" fill="#f09020"/>
<circle cx="62" cy="431" r="5.1" fill="#e6ee24"/>
<circle cx="63.1" cy="428.1" r="3.7" fill="#e6ee24"/>
<circle cx="59.4" cy="437" r="5" fill="#f09020"/>
<circle cx="59.4" cy="434.3" r="4.4" fill="#f2c424"/>
<circle cx="65" cy="427.4" r="4.3" fill="#e6ee24"/>
<circle cx="60.8" cy="436.4" r="2.6" fill="#f09020"/>
<circle cx="62.3" cy="434.3" r="3.4" fill="#f09020"/>
<circle cx="63.5" cy="436.5" r="3.7" fill="#f0681c"/>
<circle cx="64.9" cy="435.2" r="3.1" fill="#f09020"/>
<circle cx="61.9" cy="431.8" r="2.7" fill="#f09020"/>
<circle cx="68.1" cy="431.4" r="2.5" fill="#f0681c"/>
<circle cx="59.1" cy="433.7" r="4" fill="#f0681c"/>
<circle cx="58.2" cy="433.4" r="3.8" fill="#f0681c"/>
<circle cx="68.5" cy="433.8" r="4" fill="#f0681c"/>
<circle cx="64.7" cy="431.5" r="3.4" fill="#f0681c"/>
<circle cx="62.8" cy="431.1" r="1.8" fill="#ec4014"/>
<circle cx="64.2" cy="430.2" r="2.5" fill="#f0681c"/>
<circle cx="61" cy="432.2" r="1.8" fill="#ec4014"/>
<circle cx="85.4" cy="431.3" r="2.2" fill="#e6ee24"/>
<circle cx="85.7" cy="432.7" r="1.9" fill="#e6ee24"/>
<circle cx="84.2" cy="431.4" r="2" fill="#e6ee24"/>
<circle cx="105.6" cy="438.6" r="2.4" fill="#e6ee24"/>
<circle cx="101.8" cy="434.4" r="2.6" fill="#e6ee24"/>
<circle cx="103" cy="435.5" r="2.4" fill="#e6ee24"/>
<circle cx="100.8" cy="439.1" r="2.8" fill="#e6ee24"/>
<circle cx="104.5" cy="438.7" r="2.1" fill="#e6ee24"/>
<circle cx="106.7" cy="438.2" r="2.8" fill="#b0ee22"/>
<circle cx="112.8" cy="446.8" r="1.6" fill="#f09020"/>
<circle cx="109.7" cy="445.6" r="1.6" fill="#f2c424"/>
<circle cx="102.4" cy="404.7" r="1.6" fill="#f2c424"/>
<circle cx="102.7" cy="404.7" r="1.6" fill="#e6ee24"/>
<circle cx="60.3" cy="403.2" r="2.2" fill="#e6ee24"/>
<circle cx="61" cy="403.3" r="2.5" fill="#e6ee24"/>
<circle cx="56.4" cy="401.9" r="2.4" fill="#e6ee24"/>
<circle cx="57.9" cy="405.2" r="2.9" fill="#b0ee22"/>
<circle cx="162.1" cy="400.4" r="2.2" fill="#e6ee24"/>
<circle cx="161.5" cy="399.3" r="2.2" fill="#f2c424"/>
<circle cx="158.9" cy="395.6" r="1.8" fill="#e6ee24"/>
<circle cx="158.5" cy="396.9" r="2.6" fill="#e6ee24"/>
<circle cx="161.9" cy="396.3" r="2.6" fill="#e6ee24"/>
<circle cx="137.2" cy="433.3" r="2.5" fill="#f2c424"/>
<circle cx="136.5" cy="427.2" r="3.7" fill="#e6ee24"/>
<circle cx="135.5" cy="431.8" r="3.2" fill="#f2c424"/>
<circle cx="138.5" cy="431" r="2.7" fill="#f09020"/>
<circle cx="137.9" cy="433.3" r="3.8" fill="#f2c424"/>
<circle cx="139.5" cy="433.8" r="3" fill="#f2c424"/>
<circle cx="136.7" cy="425.2" r="2.7" fill="#f2c424"/>
<circle cx="141.1" cy="433" r="3" fill="#f2c424"/>
<circle cx="139.3" cy="430.9" r="2.4" fill="#f09020"/>
<circle cx="137.7" cy="427.1" r="2" fill="#f09020"/>
<circle cx="138" cy="429.1" r="2.2" fill="#f2c424"/>
<circle cx="137" cy="429.5" r="2.3" fill="#f2c424"/>
<circle cx="123.9" cy="431.5" r="1.6" fill="#f2c424"/>
<circle cx="122.6" cy="433" r="1.6" fill="#e6ee24"/>
<circle cx="185.5" cy="432.7" r="1.6" fill="#e6ee24"/>
<circle cx="187.1" cy="434.5" r="1.8" fill="#f2c424"/>
<circle cx="183.8" cy="432.4" r="2" fill="#f2c424"/>
<circle cx="188.3" cy="432.4" r="1.6" fill="#f2c424"/>
<circle cx="154.8" cy="411.8" r="1.6" fill="#e6ee24"/>
<circle cx="155.1" cy="410" r="1.6" fill="#b0ee22"/>
<circle cx="171.1" cy="429.6" r="1.6" fill="#e6ee24"/>
<circle cx="169.4" cy="431.5" r="1.6" fill="#f2c424"/>
<circle cx="160.4" cy="441.2" r="1.6" fill="#e6ee24"/>
<circle cx="159.6" cy="441.3" r="1.6" fill="#e6ee24"/>
<circle cx="126.1" cy="445.4" r="1.7" fill="#e6ee24"/>
<circle cx="125.5" cy="444.3" r="1.8" fill="#e6ee24"/>
<circle cx="66.6" cy="472.9" r="3.9" fill="#f09020"/>
<circle cx="61.8" cy="475.8" r="2.9" fill="#f2c424"/>
<circle cx="66.3" cy="476.5" r="3.1" fill="#f2c424"/>
<circle cx="67.5" cy="472.5" r="3.3" fill="#f2c424"/>
<circle cx="69" cy="478.7" r="3.9" fill="#f0681c"/>
<circle cx="67.2" cy="477.6" r="3.2" fill="#f2c424"/>
<circle cx="66.5" cy="475.8" r="3.4" fill="#f09020"/>
<circle cx="64.8" cy="470.9" r="2.6" fill="#f2c424"/>
<circle cx="63.7" cy="478.6" r="2.9" fill="#f09020"/>
<circle cx="58.1" cy="440.3" r="1.6" fill="#f09020"/>
<circle cx="58.2" cy="441.6" r="1.6" fill="#f0681c"/>
<circle cx="99.2" cy="465.6" r="1.6" fill="#e6ee24"/>
<circle cx="101.6" cy="465.1" r="2" fill="#e6ee24"/>
<circle cx="103.9" cy="466.8" r="2.2" fill="#f09020"/>
<circle cx="109.3" cy="446.9" r="1.6" fill="#e6ee24"/>
<circle cx="112.8" cy="446.9" r="1.6" fill="#e6ee24"/>
<circle cx="55.8" cy="461.3" r="1.6" fill="#b0ee22"/>
<circle cx="56.7" cy="462.7" r="1.6" fill="#f2c424"/>
<circle cx="80.7" cy="473.1" r="1.6" fill="#b0ee22"/>
<circle cx="82.3" cy="472.7" r="1.6" fill="#e6ee24"/>
<circle cx="83.3" cy="487.5" r="1.6" fill="#e6ee24"/>
<circle cx="81" cy="488" r="1.6" fill="#e6ee24"/>
<circle cx="82.5" cy="488.6" r="1.6" fill="#b0ee22"/>
<circle cx="164.3" cy="463" r="1.6" fill="#e6ee24"/>
<circle cx="165.7" cy="464.3" r="1.6" fill="#e6ee24"/>
<circle cx="155.2" cy="460.2" r="1.8" fill="#b0ee22"/>
<circle cx="152.7" cy="463" r="1.6" fill="#e6ee24"/>
<circle cx="178.6" cy="472.5" r="1.6" fill="#e6ee24"/>
<circle cx="178.7" cy="468" r="1.6" fill="#b0ee22"/>
<circle cx="177.4" cy="469.2" r="2.2" fill="#e6ee24"/>
<circle cx="124.5" cy="486.1" r="1.6" fill="#b0ee22"/>
<circle cx="124.9" cy="488.6" r="1.6" fill="#b0ee22"/>
<circle cx="123.3" cy="441.6" r="1.6" fill="#b0ee22"/>
<circle cx="124.2" cy="443.4" r="1.6" fill="#b0ee22"/>
<ellipse cx="70" cy="203.5" rx="4.4" ry="4" fill="#1c4cb4"/><circle cx="65.8" cy="200.7" r="1.9" fill="#1c4cb4"/><circle cx="71.5" cy="207" r="1.2" fill="#1c4cb4"/><circle cx="67.9" cy="202.4" r="1.7" fill="#1c4cb4"/><circle cx="66.1" cy="205.6" r="1.7" fill="#1c4cb4"/><circle cx="66.6" cy="205.1" r="1.4" fill="#1c4cb4"/><circle cx="67.1" cy="202.2" r="1.2" fill="#1c4cb4"/><circle cx="67.7" cy="204.9" r="1.8" fill="#1c4cb4"/><circle cx="72.8" cy="207.5" r="1.8" fill="#1c4cb4"/><circle cx="72" cy="200.7" r="1.2" fill="#1c4cb4"/>
<ellipse cx="66" cy="199" rx="2.4" ry="2" fill="#1c4cb4"/><circle cx="66.5" cy="200.1" r="0.9" fill="#1c4cb4"/><circle cx="65.4" cy="200.4" r="0.9" fill="#1c4cb4"/><circle cx="65.3" cy="197.5" r="0.9" fill="#1c4cb4"/>
<ellipse cx="74" cy="208" rx="2.4" ry="2" fill="#1c4cb4"/><circle cx="75.5" cy="208.7" r="0.9" fill="#1c4cb4"/><circle cx="72.4" cy="207.7" r="0.9" fill="#1c4cb4"/><circle cx="72.6" cy="208" r="0.9" fill="#1c4cb4"/>
<ellipse cx="90" cy="223.5" rx="1.6" ry="2" fill="#1c4cb4"/><circle cx="89.5" cy="224.8" r="0.9" fill="#1c4cb4"/><circle cx="90.5" cy="224.4" r="0.9" fill="#1c4cb4"/><circle cx="89.6" cy="221.3" r="0.9" fill="#1c4cb4"/>
<ellipse cx="71" cy="238" rx="4.8" ry="1.4" fill="#1c4cb4"/><circle cx="72.8" cy="237.5" r="0.9" fill="#1c4cb4"/><circle cx="74.8" cy="237.8" r="0.9" fill="#1c4cb4"/><circle cx="65.5" cy="237.9" r="0.9" fill="#1c4cb4"/>
<ellipse cx="94" cy="204" rx="1.6" ry="1" fill="#1c4cb4"/><circle cx="95.5" cy="203.6" r="0.9" fill="#1c4cb4"/><circle cx="92.7" cy="203.7" r="0.9" fill="#1c4cb4"/><circle cx="93.1" cy="204.9" r="0.9" fill="#1c4cb4"/>
<ellipse cx="52.5" cy="232" rx="2" ry="4.8" fill="#1c8070"/><circle cx="54.5" cy="234.7" r="0.9" fill="#1c8070"/><circle cx="51.7" cy="229.5" r="0.9" fill="#1c8070"/><circle cx="51.4" cy="230.2" r="0.9" fill="#1c8070"/><circle cx="51.7" cy="229.5" r="0.9" fill="#1c8070"/><circle cx="53.4" cy="228.7" r="0.9" fill="#1c8070"/>
<ellipse cx="129.5" cy="231.8" rx="2.8" ry="1.4" fill="#1c4cb4"/><circle cx="132.4" cy="231.1" r="0.9" fill="#1c4cb4"/><circle cx="131.3" cy="231.5" r="0.9" fill="#1c4cb4"/><circle cx="129" cy="230.4" r="0.9" fill="#1c4cb4"/>
<ellipse cx="171" cy="244" rx="3.2" ry="3.2" fill="#1c4cb4"/><circle cx="167.7" cy="244.2" r="1.2" fill="#1c4cb4"/><circle cx="171.3" cy="240.9" r="1.2" fill="#1c4cb4"/><circle cx="169.2" cy="243" r="1.3" fill="#1c4cb4"/><circle cx="168" cy="246.2" r="1.2" fill="#1c4cb4"/><circle cx="173.1" cy="242.3" r="1" fill="#1c4cb4"/>
<ellipse cx="141.5" cy="240" rx="2" ry="3.2" fill="#1c4cb4"/><circle cx="141.3" cy="236.3" r="1" fill="#1c4cb4"/><circle cx="141.5" cy="243.5" r="1" fill="#1c4cb4"/><circle cx="143.6" cy="238.9" r="0.9" fill="#1c4cb4"/>
<ellipse cx="160" cy="210" rx="1.6" ry="1.6" fill="#1c4cb4"/><circle cx="158.5" cy="208.9" r="0.9" fill="#1c4cb4"/><circle cx="160" cy="208.7" r="0.9" fill="#1c4cb4"/><circle cx="161.2" cy="210.9" r="0.9" fill="#1c4cb4"/>
<ellipse cx="188" cy="228.5" rx="1.6" ry="2" fill="#1c4cb4"/><circle cx="188.6" cy="227.6" r="0.9" fill="#1c4cb4"/><circle cx="188.8" cy="228" r="0.9" fill="#1c4cb4"/><circle cx="187.2" cy="228.8" r="0.9" fill="#1c4cb4"/>
<ellipse cx="172" cy="216.8" rx="1.2" ry="1.2" fill="#1c8070"/><circle cx="172.5" cy="216.2" r="0.9" fill="#1c8070"/><circle cx="172.3" cy="216.2" r="0.9" fill="#1c8070"/><circle cx="171.4" cy="216.4" r="0.9" fill="#1c8070"/>
<ellipse cx="75.5" cy="256.2" rx="5.2" ry="3" fill="#1c4cb4"/><circle cx="74.5" cy="253.6" r="0.9" fill="#1c4cb4"/><circle cx="79.9" cy="254.8" r="1" fill="#1c4cb4"/><circle cx="75.6" cy="254.5" r="1.4" fill="#1c4cb4"/><circle cx="79.2" cy="255.9" r="1" fill="#1c4cb4"/><circle cx="69.8" cy="256.1" r="1.3" fill="#1c4cb4"/><circle cx="71.8" cy="258.6" r="0.9" fill="#1c4cb4"/><circle cx="78.9" cy="253.4" r="1.5" fill="#1c4cb4"/><circle cx="76.6" cy="254.6" r="1.1" fill="#1c4cb4"/>
<ellipse cx="94.5" cy="264.6" rx="2" ry="1.6" fill="#1c4cb4"/><circle cx="96.4" cy="264.5" r="0.9" fill="#1c4cb4"/><circle cx="95.6" cy="264.3" r="0.9" fill="#1c4cb4"/><circle cx="93.5" cy="262.9" r="0.9" fill="#1c4cb4"/>
<ellipse cx="62.7" cy="281.5" rx="3" ry="2" fill="#1c4cb4"/><circle cx="60.6" cy="280.5" r="0.9" fill="#1c4cb4"/><circle cx="61.1" cy="283.4" r="0.9" fill="#1c4cb4"/><circle cx="61" cy="281.6" r="0.9" fill="#1c4cb4"/>
<ellipse cx="69" cy="296.3" rx="2" ry="2.6" fill="#1c4cb4"/><circle cx="70.1" cy="297.3" r="0.9" fill="#1c4cb4"/><circle cx="70.1" cy="295.7" r="0.9" fill="#1c4cb4"/><circle cx="68.3" cy="294.8" r="0.9" fill="#1c4cb4"/>
<ellipse cx="83" cy="299" rx="2" ry="1.6" fill="#1c4cb4"/><circle cx="81" cy="298.8" r="0.9" fill="#1c4cb4"/><circle cx="83.1" cy="298" r="0.9" fill="#1c4cb4"/><circle cx="81.2" cy="299" r="0.9" fill="#1c4cb4"/>
<ellipse cx="90.5" cy="304.5" rx="2" ry="2" fill="#1c4cb4"/><circle cx="89.9" cy="306.4" r="0.9" fill="#1c4cb4"/><circle cx="91.9" cy="305" r="0.9" fill="#1c4cb4"/><circle cx="91.6" cy="305.5" r="0.9" fill="#1c4cb4"/>
<ellipse cx="77" cy="306.7" rx="1.6" ry="1.4" fill="#1c4cb4"/><circle cx="78.5" cy="307.7" r="0.9" fill="#1c4cb4"/><circle cx="78" cy="307.5" r="0.9" fill="#1c4cb4"/><circle cx="77.7" cy="305.8" r="0.9" fill="#1c4cb4"/>
<ellipse cx="113.6" cy="292.5" rx="4" ry="3.6" fill="#1c4cb4"/><circle cx="114.6" cy="289.9" r="1.2" fill="#1c4cb4"/><circle cx="115.1" cy="290.3" r="1.2" fill="#1c4cb4"/><circle cx="114.6" cy="296.1" r="1.7" fill="#1c4cb4"/><circle cx="118.1" cy="293" r="1.7" fill="#1c4cb4"/><circle cx="110.8" cy="291.6" r="1.4" fill="#1c4cb4"/><circle cx="118.1" cy="293.7" r="1.2" fill="#1c4cb4"/><circle cx="117.3" cy="293.3" r="1.8" fill="#1c4cb4"/>
<ellipse cx="110.5" cy="309.5" rx="3.6" ry="1.4" fill="#1c4cb4"/><circle cx="112.8" cy="310.9" r="0.9" fill="#1c4cb4"/><circle cx="107" cy="309.2" r="0.9" fill="#1c4cb4"/><circle cx="108.9" cy="310.9" r="0.9" fill="#1c4cb4"/>
<ellipse cx="139.7" cy="261.5" rx="4.6" ry="2" fill="#1c4cb4"/><circle cx="143.1" cy="260.4" r="0.9" fill="#1c4cb4"/><circle cx="136.6" cy="260.6" r="0.9" fill="#1c4cb4"/><circle cx="141.2" cy="259.4" r="0.9" fill="#1c4cb4"/><circle cx="142.4" cy="260.7" r="0.9" fill="#1c4cb4"/>
<ellipse cx="169" cy="266.5" rx="2.5" ry="2" fill="#1c4cb4"/><circle cx="166.4" cy="265.9" r="1" fill="#1c4cb4"/><circle cx="170.9" cy="266.8" r="0.9" fill="#1c4cb4"/><circle cx="170.5" cy="266.3" r="0.9" fill="#1c4cb4"/>
<ellipse cx="129.3" cy="281.8" rx="2.6" ry="3" fill="#1c4cb4"/><circle cx="127" cy="283.7" r="0.9" fill="#1c4cb4"/><circle cx="127.8" cy="281.7" r="1.1" fill="#1c4cb4"/><circle cx="132.2" cy="281.3" r="1" fill="#1c4cb4"/><circle cx="129.5" cy="278.8" r="1.1" fill="#1c4cb4"/>
<ellipse cx="169.6" cy="297" rx="3" ry="3.2" fill="#1830d8"/><circle cx="167.6" cy="299.5" r="1.1" fill="#1830d8"/><circle cx="171" cy="298.2" r="1.5" fill="#1830d8"/><circle cx="168.1" cy="294.2" r="1.4" fill="#1830d8"/><circle cx="168.9" cy="300" r="1.2" fill="#1830d8"/><circle cx="167" cy="298.4" r="1.1" fill="#1830d8"/>
<ellipse cx="158" cy="273" rx="4" ry="3" fill="#1c8070"/><circle cx="156" cy="274" r="0.9" fill="#1c8070"/><circle cx="155.4" cy="270.1" r="1.2" fill="#1c8070"/><circle cx="155.2" cy="272.4" r="0.9" fill="#1c8070"/><circle cx="154.3" cy="274.2" r="0.9" fill="#1c8070"/><circle cx="155.5" cy="272.7" r="1.3" fill="#1c8070"/><circle cx="154.9" cy="272.7" r="1.3" fill="#1c8070"/>
<ellipse cx="188" cy="281.8" rx="1.6" ry="5" fill="#1ea050"/><circle cx="187.1" cy="279.1" r="0.9" fill="#1ea050"/><circle cx="187.3" cy="277" r="0.9" fill="#1ea050"/><circle cx="188.9" cy="278.3" r="0.9" fill="#1ea050"/><circle cx="189.5" cy="278.4" r="0.9" fill="#1ea050"/>
<ellipse cx="60" cy="343" rx="3.2" ry="2.4" fill="#1c4cb4"/><circle cx="57.6" cy="341.3" r="1" fill="#1c4cb4"/><circle cx="57.8" cy="344.2" r="0.9" fill="#1c4cb4"/><circle cx="61.9" cy="341.8" r="0.9" fill="#1c4cb4"/><circle cx="60.5" cy="341.6" r="0.9" fill="#1c4cb4"/>
<ellipse cx="83.7" cy="337" rx="2.6" ry="2.4" fill="#1c4cb4"/><circle cx="82" cy="339.3" r="0.9" fill="#1c4cb4"/><circle cx="84.3" cy="338.6" r="1" fill="#1c4cb4"/><circle cx="84.3" cy="334.9" r="1" fill="#1c4cb4"/>
<ellipse cx="86" cy="327" rx="1.6" ry="1.6" fill="#1c4cb4"/><circle cx="84.8" cy="327.1" r="0.9" fill="#1c4cb4"/><circle cx="84.7" cy="326" r="0.9" fill="#1c4cb4"/><circle cx="86.5" cy="328.3" r="0.9" fill="#1c4cb4"/>
<ellipse cx="96.3" cy="354.5" rx="4.6" ry="2" fill="#1c4cb4"/><circle cx="98.8" cy="354.6" r="0.9" fill="#1c4cb4"/><circle cx="94.5" cy="355.7" r="0.9" fill="#1c4cb4"/><circle cx="100.5" cy="353.5" r="0.9" fill="#1c4cb4"/><circle cx="99.6" cy="356.3" r="1" fill="#1c4cb4"/>
<ellipse cx="158.2" cy="330.8" rx="2" ry="2.6" fill="#1c4cb4"/><circle cx="157.8" cy="328.9" r="0.9" fill="#1c4cb4"/><circle cx="159.8" cy="332.8" r="1" fill="#1c4cb4"/><circle cx="159.3" cy="329.3" r="0.9" fill="#1c4cb4"/>
<ellipse cx="133.2" cy="334.6" rx="2.6" ry="1.5" fill="#1c4cb4"/><circle cx="131.4" cy="334" r="0.9" fill="#1c4cb4"/><circle cx="133.4" cy="332.9" r="0.9" fill="#1c4cb4"/><circle cx="134.5" cy="335.8" r="0.9" fill="#1c4cb4"/>
<ellipse cx="127.5" cy="359.5" rx="2" ry="2" fill="#1c4cb4"/><circle cx="127.4" cy="358.3" r="0.9" fill="#1c4cb4"/><circle cx="127.3" cy="357.5" r="0.9" fill="#1c4cb4"/><circle cx="128.2" cy="358.6" r="0.9" fill="#1c4cb4"/>
<ellipse cx="174" cy="372.2" rx="2.4" ry="2" fill="#1830d8"/><circle cx="172.6" cy="370.7" r="0.9" fill="#1830d8"/><circle cx="173.2" cy="373.4" r="1" fill="#1830d8"/><circle cx="175" cy="373.1" r="0.9" fill="#1830d8"/>
<ellipse cx="149.8" cy="379" rx="2.6" ry="1.6" fill="#1c4cb4"/><circle cx="151.7" cy="377.5" r="0.9" fill="#1c4cb4"/><circle cx="152.5" cy="379.1" r="0.9" fill="#1c4cb4"/><circle cx="147.4" cy="379.1" r="0.9" fill="#1c4cb4"/>
<ellipse cx="162.6" cy="377.2" rx="1.5" ry="1" fill="#1c4cb4"/><circle cx="161.9" cy="376.2" r="0.9" fill="#1c4cb4"/><circle cx="164.1" cy="376.8" r="0.9" fill="#1c4cb4"/><circle cx="162" cy="377.7" r="0.9" fill="#1c4cb4"/>
<ellipse cx="184.8" cy="382.5" rx="3" ry="2" fill="#1c4cb4"/><circle cx="183.4" cy="383.9" r="0.9" fill="#1c4cb4"/><circle cx="187.2" cy="383.4" r="0.9" fill="#1c4cb4"/><circle cx="183.3" cy="383.8" r="0.9" fill="#1c4cb4"/>
<ellipse cx="122" cy="344" rx="1.6" ry="3.2" fill="#1c4cb4"/><circle cx="122.3" cy="340.3" r="0.9" fill="#1c4cb4"/><circle cx="121.6" cy="346" r="0.9" fill="#1c4cb4"/><circle cx="122.6" cy="345" r="0.9" fill="#1c4cb4"/>
<ellipse cx="141" cy="326.3" rx="1.6" ry="1" fill="#1c4cb4"/><circle cx="139.6" cy="325.5" r="0.9" fill="#1c4cb4"/><circle cx="142.4" cy="326.9" r="0.9" fill="#1c4cb4"/><circle cx="142.1" cy="326.1" r="0.9" fill="#1c4cb4"/>
<ellipse cx="90.7" cy="399.5" rx="3" ry="7.6" fill="#1c4cb4"/><circle cx="91.7" cy="402.7" r="0.9" fill="#1c4cb4"/><circle cx="91.5" cy="395" r="0.9" fill="#1c4cb4"/><circle cx="92.5" cy="399" r="1.2" fill="#1c4cb4"/><circle cx="91.4" cy="407.8" r="1.3" fill="#1c4cb4"/><circle cx="88.9" cy="400.5" r="1.2" fill="#1c4cb4"/><circle cx="91.9" cy="406" r="1.1" fill="#1c4cb4"/><circle cx="90" cy="391.9" r="0.9" fill="#1c4cb4"/><circle cx="90.2" cy="394.9" r="0.9" fill="#1c4cb4"/><circle cx="92.1" cy="397.4" r="1.4" fill="#1c4cb4"/><circle cx="89.2" cy="400.3" r="0.9" fill="#1c4cb4"/><circle cx="90.2" cy="395.1" r="0.9" fill="#1c4cb4"/>
<ellipse cx="105.5" cy="411" rx="3.6" ry="3.6" fill="#1c8070"/><circle cx="105.9" cy="414.8" r="1.8" fill="#1c8070"/><circle cx="106.8" cy="414.6" r="1.1" fill="#1c8070"/><circle cx="105.4" cy="407.2" r="1.2" fill="#1c8070"/><circle cx="109.3" cy="412.9" r="1.5" fill="#1c8070"/><circle cx="103.8" cy="413.4" r="1.4" fill="#1c8070"/><circle cx="105.2" cy="408.6" r="1.2" fill="#1c8070"/>
<ellipse cx="54.3" cy="443.3" rx="2.6" ry="3" fill="#1c4cb4"/><circle cx="52.3" cy="445" r="1.1" fill="#1c4cb4"/><circle cx="53" cy="441.2" r="1" fill="#1c4cb4"/><circle cx="55.5" cy="440.7" r="1" fill="#1c4cb4"/><circle cx="56.3" cy="444.4" r="0.9" fill="#1c4cb4"/>
<ellipse cx="112.2" cy="427" rx="3" ry="4" fill="#1c8070"/><circle cx="109.9" cy="426.5" r="1.1" fill="#1c8070"/><circle cx="109.6" cy="428.7" r="1" fill="#1c8070"/><circle cx="113.5" cy="430.4" r="1.1" fill="#1c8070"/><circle cx="109.2" cy="428.5" r="1.4" fill="#1c8070"/><circle cx="114.5" cy="427.5" r="1" fill="#1c8070"/><circle cx="115.4" cy="427" r="1.1" fill="#1c8070"/>
<ellipse cx="78" cy="422.2" rx="2" ry="1.4" fill="#1c4cb4"/><circle cx="76.7" cy="421.8" r="0.9" fill="#1c4cb4"/><circle cx="77" cy="422.5" r="0.9" fill="#1c4cb4"/><circle cx="79.8" cy="423.2" r="0.9" fill="#1c4cb4"/>
<ellipse cx="163.3" cy="430" rx="2" ry="1.6" fill="#1c4cb4"/><circle cx="163.3" cy="428.3" r="0.9" fill="#1c4cb4"/><circle cx="161.3" cy="430.6" r="0.9" fill="#1c4cb4"/><circle cx="164.9" cy="430.1" r="0.9" fill="#1c4cb4"/>
<ellipse cx="172.8" cy="462.7" rx="2.6" ry="2.2" fill="#1c4cb4"/><circle cx="174.1" cy="462.8" r="1" fill="#1c4cb4"/><circle cx="174.3" cy="461.7" r="0.9" fill="#1c4cb4"/><circle cx="175.1" cy="464" r="0.9" fill="#1c4cb4"/>
<ellipse cx="54.5" cy="484.5" rx="1.6" ry="2" fill="#1c4cb4"/><circle cx="55.6" cy="485.1" r="0.9" fill="#1c4cb4"/><circle cx="55.4" cy="485.3" r="0.9" fill="#1c4cb4"/><circle cx="54.7" cy="485.9" r="0.9" fill="#1c4cb4"/>
<ellipse cx="98.5" cy="487.7" rx="2" ry="2.6" fill="#1c4cb4"/><circle cx="98.4" cy="486.2" r="0.9" fill="#1c4cb4"/><circle cx="99.9" cy="489.6" r="0.9" fill="#1c4cb4"/><circle cx="97.8" cy="486" r="0.9" fill="#1c4cb4"/>
<ellipse cx="56" cy="365" rx="4" ry="4" fill="#1c8070"/><circle cx="53.8" cy="368.2" r="1.4" fill="#1c8070"/><circle cx="54.2" cy="367" r="1.6" fill="#1c8070"/><circle cx="58.2" cy="362.6" r="1.2" fill="#1c8070"/><circle cx="52.6" cy="364.9" r="1.7" fill="#1c8070"/><circle cx="54.2" cy="361.6" r="1.4" fill="#1c8070"/><circle cx="51.5" cy="366.6" r="1.8" fill="#1c8070"/><circle cx="53.6" cy="364.9" r="1.4" fill="#1c8070"/><circle cx="56.7" cy="367.1" r="1.8" fill="#1c8070"/>
<ellipse cx="53" cy="384" rx="2.4" ry="4.8" fill="#1c8070"/><circle cx="53.3" cy="387.1" r="0.9" fill="#1c8070"/><circle cx="53.9" cy="386" r="1" fill="#1c8070"/><circle cx="52.2" cy="382" r="0.9" fill="#1c8070"/><circle cx="53.3" cy="388.7" r="0.9" fill="#1c8070"/><circle cx="50.3" cy="383.8" r="0.9" fill="#1c8070"/><circle cx="53.2" cy="381.5" r="0.9" fill="#1c8070"/>
<ellipse cx="87" cy="302" rx="2.1" ry="1.8" fill="#1c4cb4"/><circle cx="88.6" cy="302.1" r="0.9" fill="#1c4cb4"/><circle cx="85.8" cy="301.3" r="0.9" fill="#1c4cb4"/><circle cx="87.4" cy="303.3" r="0.9" fill="#1c4cb4"/>
<ellipse cx="91.5" cy="307" rx="1.8" ry="2.1" fill="#1c4cb4"/><circle cx="90.6" cy="307.6" r="0.9" fill="#1c4cb4"/><circle cx="92.9" cy="306.7" r="0.9" fill="#1c4cb4"/><circle cx="91" cy="308.9" r="0.9" fill="#1c4cb4"/>
<ellipse cx="95" cy="311" rx="1.9" ry="1.6" fill="#1c8070"/><circle cx="96.1" cy="311" r="0.9" fill="#1c8070"/><circle cx="93.2" cy="311.2" r="0.9" fill="#1c8070"/><circle cx="96.7" cy="310.3" r="0.9" fill="#1c8070"/>
<ellipse cx="99" cy="315.5" rx="1.8" ry="1.8" fill="#1c4cb4"/><circle cx="99.1" cy="314" r="0.9" fill="#1c4cb4"/><circle cx="100.4" cy="316" r="0.9" fill="#1c4cb4"/><circle cx="98.7" cy="316.6" r="0.9" fill="#1c4cb4"/>
<ellipse cx="84" cy="306" rx="1.6" ry="1.3" fill="#1c8070"/><circle cx="85.6" cy="306" r="0.9" fill="#1c8070"/><circle cx="84.2" cy="307.4" r="0.9" fill="#1c8070"/><circle cx="83.6" cy="307.5" r="0.9" fill="#1c8070"/>
<ellipse cx="150" cy="288" rx="4.8" ry="4" fill="#1c8070"/><circle cx="152.4" cy="291.5" r="1.7" fill="#1c8070"/><circle cx="153.7" cy="289.1" r="1.9" fill="#1c8070"/><circle cx="147.3" cy="287.8" r="1.1" fill="#1c8070"/><circle cx="153.1" cy="289.3" r="1.8" fill="#1c8070"/><circle cx="145.6" cy="285.4" r="1.1" fill="#1c8070"/><circle cx="147.6" cy="288.4" r="1.2" fill="#1c8070"/><circle cx="146.7" cy="289.7" r="1.8" fill="#1c8070"/><circle cx="145" cy="289" r="1.4" fill="#1c8070"/><circle cx="153.1" cy="291.5" r="1.2" fill="#1c8070"/><circle cx="151.9" cy="286.6" r="1.3" fill="#1c8070"/>
<ellipse cx="176" cy="303" rx="4" ry="4" fill="#1c4cb4"/><circle cx="173.7" cy="300.5" r="1" fill="#1c4cb4"/><circle cx="173.7" cy="307.1" r="1.9" fill="#1c4cb4"/><circle cx="173.6" cy="302.3" r="1.1" fill="#1c4cb4"/><circle cx="176.6" cy="307.2" r="1.8" fill="#1c4cb4"/><circle cx="177.7" cy="304.5" r="1.8" fill="#1c4cb4"/><circle cx="175.7" cy="300" r="1.7" fill="#1c4cb4"/><circle cx="176.5" cy="305.7" r="1.8" fill="#1c4cb4"/><circle cx="173.7" cy="304" r="1.1" fill="#1c4cb4"/>
<ellipse cx="97" cy="262.5" rx="3.2" ry="1.6" fill="#1c4cb4"/><circle cx="96" cy="261" r="0.9" fill="#1c4cb4"/><circle cx="98.9" cy="262.9" r="0.9" fill="#1c4cb4"/><circle cx="95.7" cy="261.8" r="0.9" fill="#1c4cb4"/>
<ellipse cx="93" cy="337" rx="3.2" ry="3.2" fill="#1c4cb4"/><circle cx="91.4" cy="337.7" r="1.1" fill="#1c4cb4"/><circle cx="96.4" cy="335.6" r="1" fill="#1c4cb4"/><circle cx="90.6" cy="336" r="1.4" fill="#1c4cb4"/><circle cx="93" cy="333.9" r="0.9" fill="#1c4cb4"/><circle cx="90.9" cy="340.1" r="0.9" fill="#1c4cb4"/>
<ellipse cx="85" cy="384" rx="3.2" ry="7.2" fill="#1c8070"/><circle cx="85.8" cy="375.7" r="1.4" fill="#1c8070"/><circle cx="84.1" cy="390" r="1.2" fill="#1c8070"/><circle cx="83.8" cy="380.4" r="1.4" fill="#1c8070"/><circle cx="87.1" cy="382.2" r="1.1" fill="#1c8070"/><circle cx="86.6" cy="381.2" r="1.1" fill="#1c8070"/><circle cx="83.4" cy="380.3" r="1.5" fill="#1c8070"/><circle cx="82.6" cy="383.7" r="1.6" fill="#1c8070"/><circle cx="83.6" cy="390.3" r="1.1" fill="#1c8070"/><circle cx="84.3" cy="389.6" r="1.3" fill="#1c8070"/><circle cx="81.4" cy="382.8" r="1.4" fill="#1c8070"/><circle cx="82.9" cy="383.2" r="1.5" fill="#1c8070"/><circle cx="82.9" cy="382.8" r="1.5" fill="#1c8070"/>
<ellipse cx="111" cy="411" rx="4.8" ry="3.2" fill="#1c4cb4"/><circle cx="108" cy="412.2" r="1.5" fill="#1c4cb4"/><circle cx="114.9" cy="410.9" r="1.6" fill="#1c4cb4"/><circle cx="115.4" cy="410.7" r="1" fill="#1c4cb4"/><circle cx="113.3" cy="413.2" r="1.2" fill="#1c4cb4"/><circle cx="111.2" cy="409.1" r="1.6" fill="#1c4cb4"/><circle cx="113.7" cy="410.8" r="1.2" fill="#1c4cb4"/><circle cx="115.8" cy="411.7" r="0.9" fill="#1c4cb4"/><circle cx="108.8" cy="412.8" r="1.4" fill="#1c4cb4"/>
<ellipse cx="99.5" cy="466.5" rx="3.2" ry="3.2" fill="#1c4cb4"/><circle cx="97.1" cy="468.7" r="1.3" fill="#1c4cb4"/><circle cx="100.9" cy="465" r="1.1" fill="#1c4cb4"/><circle cx="96.5" cy="467.5" r="1.2" fill="#1c4cb4"/><circle cx="95.9" cy="467.3" r="1" fill="#1c4cb4"/><circle cx="102.3" cy="466.9" r="1.3" fill="#1c4cb4"/>
<ellipse cx="184.5" cy="376" rx="3.2" ry="5.6" fill="#1c4cb4"/><circle cx="181.4" cy="374.8" r="1.2" fill="#1c4cb4"/><circle cx="182.4" cy="377.7" r="1" fill="#1c4cb4"/><circle cx="182.1" cy="378.3" r="1.1" fill="#1c4cb4"/><circle cx="185.1" cy="381.1" r="1.2" fill="#1c4cb4"/><circle cx="186.9" cy="376.6" r="1.1" fill="#1c4cb4"/><circle cx="180.9" cy="374.5" r="1" fill="#1c4cb4"/><circle cx="181" cy="377.8" r="1.5" fill="#1c4cb4"/><circle cx="183" cy="372" r="1.4" fill="#1c4cb4"/><circle cx="182.9" cy="370.5" r="1.4" fill="#1c4cb4"/>
<ellipse cx="162" cy="416" rx="4.8" ry="3.2" fill="#1c4cb4"/><circle cx="162.5" cy="419" r="1.5" fill="#1c4cb4"/><circle cx="161.2" cy="418.7" r="1.4" fill="#1c4cb4"/><circle cx="165.2" cy="416.3" r="1.3" fill="#1c4cb4"/><circle cx="160.1" cy="419.2" r="0.9" fill="#1c4cb4"/><circle cx="158.2" cy="415.9" r="0.9" fill="#1c4cb4"/><circle cx="163.9" cy="414" r="0.9" fill="#1c4cb4"/><circle cx="160.6" cy="419.1" r="1.4" fill="#1c4cb4"/><circle cx="163.5" cy="418.3" r="1" fill="#1c4cb4"/>
<ellipse cx="118" cy="352" rx="2.4" ry="2.4" fill="#1c4cb4"/><circle cx="117.2" cy="354.3" r="0.9" fill="#1c4cb4"/><circle cx="120.1" cy="352.2" r="0.9" fill="#1c4cb4"/><circle cx="116" cy="352" r="0.9" fill="#1c4cb4"/>
<ellipse cx="181" cy="446" rx="3.2" ry="3.2" fill="#1c8070"/><circle cx="181.9" cy="449.4" r="0.9" fill="#1c8070"/><circle cx="182.9" cy="443.9" r="1.3" fill="#1c8070"/><circle cx="180.3" cy="442.7" r="1.1" fill="#1c8070"/><circle cx="182.6" cy="447.3" r="1.2" fill="#1c8070"/><circle cx="178.2" cy="446.1" r="0.9" fill="#1c8070"/>
<ellipse cx="60" cy="375" rx="2.4" ry="2.4" fill="#1c8070"/><circle cx="58.4" cy="375.6" r="0.9" fill="#1c8070"/><circle cx="59.4" cy="373.2" r="0.9" fill="#1c8070"/><circle cx="61.9" cy="374.8" r="0.9" fill="#1c8070"/>
<ellipse cx="102" cy="264" rx="1.9" ry="1.9" fill="#1c4cb4"/><circle cx="100.9" cy="264.1" r="0.9" fill="#1c4cb4"/><circle cx="101.1" cy="265.8" r="0.9" fill="#1c4cb4"/><circle cx="100.7" cy="264.7" r="0.9" fill="#1c4cb4"/>
<ellipse cx="105" cy="262" rx="1.9" ry="1.9" fill="#1c4cb4"/><circle cx="106.8" cy="262.9" r="0.9" fill="#1c4cb4"/><circle cx="104.8" cy="263.5" r="0.9" fill="#1c4cb4"/><circle cx="105.4" cy="263.2" r="0.9" fill="#1c4cb4"/>
<ellipse cx="108" cy="260" rx="1.9" ry="1.9" fill="#1c4cb4"/><circle cx="107.9" cy="258.3" r="0.9" fill="#1c4cb4"/><circle cx="109.6" cy="260.3" r="0.9" fill="#1c4cb4"/><circle cx="109.7" cy="260.6" r="0.9" fill="#1c4cb4"/>
<ellipse cx="113" cy="257" rx="1.9" ry="1.9" fill="#1c4cb4"/><circle cx="112.4" cy="256" r="0.9" fill="#1c4cb4"/><circle cx="113.9" cy="256.5" r="0.9" fill="#1c4cb4"/><circle cx="112.3" cy="258.4" r="0.9" fill="#1c4cb4"/>
<ellipse cx="116" cy="255.5" rx="1.9" ry="1.9" fill="#1c4cb4"/><circle cx="118" cy="256.1" r="0.9" fill="#1c4cb4"/><circle cx="117.1" cy="256.5" r="0.9" fill="#1c4cb4"/><circle cx="118" cy="255.9" r="0.9" fill="#1c4cb4"/>
<ellipse cx="119" cy="254" rx="1.9" ry="1.9" fill="#1c4cb4"/><circle cx="119.1" cy="256.1" r="0.9" fill="#1c4cb4"/><circle cx="119.8" cy="254.9" r="0.9" fill="#1c4cb4"/><circle cx="117.5" cy="253.5" r="0.9" fill="#1c4cb4"/>
<ellipse cx="73" cy="353" rx="2.6" ry="2.6" fill="#1c8070"/><circle cx="72.2" cy="354.4" r="1" fill="#1c8070"/><circle cx="73.4" cy="354.7" r="0.9" fill="#1c8070"/><circle cx="71.4" cy="351.1" r="1.2" fill="#1c8070"/>
<ellipse cx="74" cy="356.1" rx="2.6" ry="2.6" fill="#1c8070"/><circle cx="75.1" cy="358.4" r="0.9" fill="#1c8070"/><circle cx="71.8" cy="356.1" r="1.1" fill="#1c8070"/><circle cx="75.6" cy="357.3" r="1.2" fill="#1c8070"/>
<ellipse cx="75" cy="359.1" rx="2.6" ry="2.6" fill="#1c8070"/><circle cx="75" cy="360.5" r="0.9" fill="#1c8070"/><circle cx="73.7" cy="361.4" r="1" fill="#1c8070"/><circle cx="74.3" cy="356.7" r="0.9" fill="#1c8070"/>
<ellipse cx="76" cy="362.2" rx="2.6" ry="2.6" fill="#1c8070"/><circle cx="75" cy="360.5" r="0.9" fill="#1c8070"/><circle cx="74.8" cy="360.6" r="0.9" fill="#1c8070"/><circle cx="74.1" cy="360.6" r="1.3" fill="#1c8070"/>
<ellipse cx="77" cy="365.2" rx="2.6" ry="2.6" fill="#1c8070"/><circle cx="78.3" cy="364.9" r="1.1" fill="#1c8070"/><circle cx="79.1" cy="366.7" r="1.3" fill="#1c8070"/><circle cx="75" cy="367.1" r="1.1" fill="#1c8070"/>
<ellipse cx="78" cy="368.3" rx="2.6" ry="2.6" fill="#1c8070"/><circle cx="75.1" cy="368.4" r="0.9" fill="#1c8070"/><circle cx="76.8" cy="370.7" r="0.9" fill="#1c8070"/><circle cx="79.7" cy="369.8" r="1" fill="#1c8070"/>
<ellipse cx="79" cy="371.4" rx="2.6" ry="2.6" fill="#1c8070"/><circle cx="77.6" cy="372.4" r="0.9" fill="#1c8070"/><circle cx="79.5" cy="369.1" r="0.9" fill="#1c8070"/><circle cx="80.8" cy="370.5" r="1" fill="#1c8070"/>
<ellipse cx="80" cy="374.4" rx="2.6" ry="2.6" fill="#1c8070"/><circle cx="81.9" cy="374.1" r="1.1" fill="#1c8070"/><circle cx="77.8" cy="373.5" r="0.9" fill="#1c8070"/><circle cx="80.8" cy="372.4" r="0.9" fill="#1c8070"/>
<ellipse cx="81" cy="377.5" rx="2.6" ry="2.6" fill="#1c8070"/><circle cx="79.1" cy="375.9" r="0.9" fill="#1c8070"/><circle cx="80.1" cy="379.1" r="1" fill="#1c8070"/><circle cx="83.8" cy="377.4" r="0.9" fill="#1c8070"/>
<ellipse cx="82" cy="380.5" rx="2.6" ry="2.6" fill="#1c8070"/><circle cx="80.5" cy="381.4" r="1.1" fill="#1c8070"/><circle cx="80.8" cy="381.6" r="1.1" fill="#1c8070"/><circle cx="81.6" cy="378.7" r="1.1" fill="#1c8070"/>
<ellipse cx="83" cy="383.6" rx="2.6" ry="2.6" fill="#1c8070"/><circle cx="81.6" cy="381.8" r="1.2" fill="#1c8070"/><circle cx="81.6" cy="385.4" r="1" fill="#1c8070"/><circle cx="81.2" cy="385.8" r="1" fill="#1c8070"/>
<ellipse cx="177" cy="368" rx="1.9" ry="1.9" fill="#1c4cb4"/><circle cx="176" cy="368.2" r="0.9" fill="#1c4cb4"/><circle cx="177.8" cy="367.5" r="0.9" fill="#1c4cb4"/><circle cx="178.4" cy="368.9" r="0.9" fill="#1c4cb4"/>
<ellipse cx="179.9" cy="366.2" rx="1.9" ry="1.9" fill="#1c4cb4"/><circle cx="181.8" cy="366.9" r="0.9" fill="#1c4cb4"/><circle cx="179.2" cy="367.4" r="0.9" fill="#1c4cb4"/><circle cx="179.5" cy="364.5" r="0.9" fill="#1c4cb4"/>
<ellipse cx="182.8" cy="364.5" rx="1.9" ry="1.9" fill="#1c4cb4"/><circle cx="184.7" cy="365.4" r="0.9" fill="#1c4cb4"/><circle cx="183.6" cy="363.9" r="0.9" fill="#1c4cb4"/><circle cx="182.2" cy="363.1" r="0.9" fill="#1c4cb4"/>
<ellipse cx="185.8" cy="362.8" rx="1.9" ry="1.9" fill="#1c4cb4"/><circle cx="184.9" cy="363.7" r="0.9" fill="#1c4cb4"/><circle cx="186.6" cy="363.5" r="0.9" fill="#1c4cb4"/><circle cx="187.9" cy="362.1" r="0.9" fill="#1c4cb4"/>
<ellipse cx="188.7" cy="361" rx="1.9" ry="1.9" fill="#1c4cb4"/><circle cx="189.1" cy="359.6" r="1" fill="#1c4cb4"/><circle cx="188" cy="362.1" r="0.9" fill="#1c4cb4"/><circle cx="187.6" cy="360.3" r="0.9" fill="#1c4cb4"/>
<circle cx="73.1" cy="199.2" r="2" fill="#6cec22"/>
<circle cx="63.9" cy="202.1" r="2" fill="#46e820"/>
<circle cx="76.2" cy="204.2" r="2.5" fill="#98ee22"/>
<circle cx="67.3" cy="198.7" r="2.4" fill="#46e820"/>
<circle cx="69.3" cy="236.1" r="1.7" fill="#c4f022"/>
<circle cx="77.3" cy="237.4" r="2.5" fill="#e6ee22"/>
<circle cx="75.1" cy="236.4" r="2.4" fill="#98ee22"/>
<circle cx="54.5" cy="227.9" r="2" fill="#46e820"/>
<circle cx="51.3" cy="237.3" r="2.1" fill="#98ee22"/>
<circle cx="50" cy="233.7" r="1.6" fill="#e6ee22"/>
<circle cx="167" cy="244.8" r="1.8" fill="#c4f022"/>
<circle cx="175" cy="246.4" r="1.9" fill="#e6ee22"/>
<circle cx="172.8" cy="248.5" r="1.9" fill="#e6ee22"/>
<circle cx="142.3" cy="235.5" r="2.4" fill="#46e820"/>
<circle cx="143.9" cy="238.2" r="2.1" fill="#6cec22"/>
<circle cx="80.4" cy="259.8" r="2" fill="#c4f022"/>
<circle cx="72.5" cy="259.9" r="2" fill="#46e820"/>
<circle cx="82" cy="257.9" r="2" fill="#98ee22"/>
<circle cx="81.4" cy="257.8" r="1.9" fill="#46e820"/>
<circle cx="66.6" cy="282.6" r="2.4" fill="#98ee22"/>
<circle cx="66.9" cy="281.2" r="1.6" fill="#98ee22"/>
<circle cx="67.4" cy="293.1" r="2.2" fill="#2ede20"/>
<circle cx="68.1" cy="293.1" r="1.7" fill="#2ede20"/>
<circle cx="108.7" cy="291.2" r="2.5" fill="#46e820"/>
<circle cx="108.2" cy="292.4" r="1.6" fill="#e6ee22"/>
<circle cx="111.6" cy="297.4" r="2.5" fill="#c4f022"/>
<circle cx="113.7" cy="311" r="2.5" fill="#6cec22"/>
<circle cx="107.9" cy="307.8" r="2.4" fill="#98ee22"/>
<circle cx="134.5" cy="263.5" r="1.9" fill="#6cec22"/>
<circle cx="137.7" cy="259" r="2.1" fill="#c4f022"/>
<circle cx="140.6" cy="264.2" r="2.1" fill="#98ee22"/>
<circle cx="131.4" cy="284.9" r="1.8" fill="#6cec22"/>
<circle cx="130.5" cy="277.8" r="2.2" fill="#46e820"/>
<circle cx="168.8" cy="292.3" r="2.2" fill="#c4f022"/>
<circle cx="165.9" cy="294.5" r="1.9" fill="#2ede20"/>
<circle cx="166.1" cy="294.7" r="2.4" fill="#98ee22"/>
<circle cx="159" cy="276.8" r="1.9" fill="#98ee22"/>
<circle cx="153.2" cy="271.7" r="2.1" fill="#6cec22"/>
<circle cx="164.1" cy="272.9" r="2.4" fill="#46e820"/>
<circle cx="189.6" cy="277.2" r="2.3" fill="#c4f022"/>
<circle cx="188.3" cy="289.5" r="1.9" fill="#98ee22"/>
<circle cx="189.9" cy="278.9" r="1.7" fill="#c4f022"/>
<circle cx="56.2" cy="341.8" r="2.6" fill="#c4f022"/>
<circle cx="60.5" cy="339.4" r="1.7" fill="#46e820"/>
<circle cx="87.2" cy="337.8" r="1.6" fill="#2ede20"/>
<circle cx="86.8" cy="335.9" r="2.4" fill="#98ee22"/>
<circle cx="92.4" cy="356.8" r="2.3" fill="#6cec22"/>
<circle cx="89.7" cy="354" r="2.2" fill="#6cec22"/>
<circle cx="93.3" cy="356.8" r="2" fill="#2ede20"/>
<circle cx="158.4" cy="334.2" r="1.8" fill="#2ede20"/>
<circle cx="156" cy="333.1" r="1.8" fill="#6cec22"/>
<circle cx="186.7" cy="379.7" r="1.9" fill="#2ede20"/>
<circle cx="186.9" cy="384.9" r="1.8" fill="#46e820"/>
<circle cx="120.6" cy="340.1" r="2.4" fill="#98ee22"/>
<circle cx="119.7" cy="343.7" r="1.8" fill="#46e820"/>
<circle cx="89.5" cy="389" r="2" fill="#46e820"/>
<circle cx="88.5" cy="409" r="1.9" fill="#c4f022"/>
<circle cx="94.3" cy="397.6" r="1.7" fill="#c4f022"/>
<circle cx="91.2" cy="389.8" r="1.9" fill="#c4f022"/>
<circle cx="92" cy="409.4" r="2.5" fill="#6cec22"/>
<circle cx="109.5" cy="407.9" r="2.2" fill="#98ee22"/>
<circle cx="100.1" cy="411" r="1.7" fill="#46e820"/>
<circle cx="108.3" cy="406.7" r="2.5" fill="#e6ee22"/>
<circle cx="55.1" cy="447.6" r="1.7" fill="#98ee22"/>
<circle cx="53.3" cy="447.3" r="1.9" fill="#46e820"/>
<circle cx="109.3" cy="422.4" r="2.1" fill="#98ee22"/>
<circle cx="109.2" cy="431.7" r="1.7" fill="#e6ee22"/>
<circle cx="110.8" cy="431.8" r="2" fill="#98ee22"/>
<circle cx="175.8" cy="464" r="2.1" fill="#46e820"/>
<circle cx="174.9" cy="460.5" r="1.7" fill="#e6ee22"/>
<circle cx="98.1" cy="483.7" r="2.1" fill="#6cec22"/>
<circle cx="96.6" cy="485" r="1.9" fill="#46e820"/>
<circle cx="60.4" cy="362.1" r="1.6" fill="#6cec22"/>
<circle cx="54.2" cy="370.4" r="1.7" fill="#6cec22"/>
<circle cx="53.8" cy="369.8" r="2.5" fill="#46e820"/>
<circle cx="58.3" cy="359.3" r="2.2" fill="#c4f022"/>
<circle cx="55.3" cy="378.3" r="2.3" fill="#6cec22"/>
<circle cx="53.2" cy="390.6" r="2.3" fill="#c4f022"/>
<circle cx="50.9" cy="389.2" r="2.4" fill="#c4f022"/>
<circle cx="144" cy="287" r="1.9" fill="#46e820"/>
<circle cx="143.5" cy="289.6" r="2" fill="#e6ee22"/>
<circle cx="154" cy="284.1" r="2.3" fill="#98ee22"/>
<circle cx="155.5" cy="290.8" r="2.1" fill="#6cec22"/>
<circle cx="177.3" cy="297.2" r="1.8" fill="#2ede20"/>
<circle cx="174.9" cy="308.7" r="2.5" fill="#e6ee22"/>
<circle cx="173.5" cy="307.4" r="1.8" fill="#98ee22"/>
<circle cx="180.6" cy="301" r="1.7" fill="#6cec22"/>
<circle cx="100" cy="260.9" r="1.8" fill="#46e820"/>
<circle cx="100.2" cy="260.9" r="2.4" fill="#6cec22"/>
<circle cx="94.1" cy="341" r="1.7" fill="#46e820"/>
<circle cx="89.5" cy="339.1" r="2.4" fill="#e6ee22"/>
<circle cx="90.1" cy="332.9" r="2.2" fill="#e6ee22"/>
<circle cx="85.4" cy="374.1" r="2.5" fill="#98ee22"/>
<circle cx="81.1" cy="379" r="1.9" fill="#46e820"/>
<circle cx="85.5" cy="394.3" r="2.3" fill="#46e820"/>
<circle cx="81.3" cy="390.2" r="2.3" fill="#6cec22"/>
<circle cx="82.4" cy="393.3" r="1.8" fill="#98ee22"/>
<circle cx="104.8" cy="412" r="2.1" fill="#e6ee22"/>
<circle cx="116.2" cy="413.9" r="2.1" fill="#46e820"/>
<circle cx="116.9" cy="413.4" r="1.9" fill="#98ee22"/>
<circle cx="104" cy="412.6" r="1.9" fill="#98ee22"/>
<circle cx="95.8" cy="464.1" r="2" fill="#6cec22"/>
<circle cx="97.1" cy="462.6" r="2.3" fill="#e6ee22"/>
<circle cx="95" cy="467.6" r="2" fill="#6cec22"/>
<circle cx="188.9" cy="376.6" r="2.2" fill="#2ede20"/>
<circle cx="182.3" cy="369.1" r="2.6" fill="#6cec22"/>
<circle cx="180.9" cy="370.4" r="2.6" fill="#46e820"/>
<circle cx="183.6" cy="367.5" r="2.1" fill="#6cec22"/>
<circle cx="155.8" cy="416.9" r="1.7" fill="#6cec22"/>
<circle cx="168.4" cy="417.1" r="2" fill="#2ede20"/>
<circle cx="155.2" cy="414.9" r="1.9" fill="#6cec22"/>
<circle cx="156.7" cy="419.4" r="1.9" fill="#6cec22"/>
<circle cx="121.1" cy="353.9" r="2.2" fill="#6cec22"/>
<circle cx="117" cy="355.2" r="1.7" fill="#6cec22"/>
<circle cx="182.2" cy="450.6" r="2.4" fill="#98ee22"/>
<circle cx="183.7" cy="449.2" r="1.7" fill="#98ee22"/>
<circle cx="181.4" cy="441.6" r="2" fill="#e6ee22"/>
<circle cx="58.9" cy="378" r="2.2" fill="#2ede20"/>
<circle cx="63.1" cy="373.4" r="2.6" fill="#98ee22"/>
<circle cx="70.4" cy="350.6" r="2.2" fill="#46e820"/>
<circle cx="72.6" cy="349.8" r="2.2" fill="#46e820"/>
<circle cx="72.3" cy="352.6" r="1.7" fill="#2ede20"/>
<circle cx="71.9" cy="358.9" r="2.2" fill="#e6ee22"/>
<circle cx="77" cy="361.8" r="2.6" fill="#98ee22"/>
<circle cx="78.5" cy="358.9" r="2" fill="#2ede20"/>
<circle cx="72.5" cy="360.3" r="2" fill="#c4f022"/>
<circle cx="76.4" cy="366.1" r="1.7" fill="#46e820"/>
<circle cx="74.1" cy="362.9" r="2" fill="#6cec22"/>
<circle cx="73.4" cy="364.4" r="2.5" fill="#c4f022"/>
<circle cx="74.6" cy="370.3" r="2.1" fill="#98ee22"/>
<circle cx="77.3" cy="371.6" r="1.8" fill="#c4f022"/>
<circle cx="75.9" cy="369.9" r="1.9" fill="#c4f022"/>
<circle cx="77.5" cy="374.4" r="2" fill="#e6ee22"/>
<circle cx="83.5" cy="372.9" r="2.5" fill="#6cec22"/>
<circle cx="79.8" cy="378" r="1.6" fill="#e6ee22"/>
<circle cx="81.4" cy="380.8" r="2.2" fill="#46e820"/>
<circle cx="82.6" cy="374.3" r="2.1" fill="#e6ee22"/>
<circle cx="78.6" cy="382.6" r="2.1" fill="#6cec22"/>
<circle cx="84.5" cy="383.1" r="2.3" fill="#2ede20"/>
<circle cx="86.4" cy="383.1" r="2.3" fill="#c4f022"/>
<circle cx="85.9" cy="385.3" r="2.5" fill="#e6ee22"/>
</g></g>
<rect x="105.5" y="208.3" width="27.4" height="26.6" fill="none" stroke="#000" stroke-width="1.1"/>
<rect x="104" y="287.5" width="27.5" height="28" fill="none" stroke="#000" stroke-width="1.1"/>
<rect x="104.8" y="370.8" width="27.6" height="27.5" fill="none" stroke="#000" stroke-width="1.1"/>
<rect x="108" y="453.6" width="27.4" height="28" fill="none" stroke="#000" stroke-width="1.1"/>
<rect x="115" y="184.6" width="67.6" height="17" fill="#f4f8f2" fill-opacity="0.93"/>
<text x="148.6" y="197.9" text-anchor="middle" font-family="'Liberation Sans', Arial, sans-serif" font-weight="bold" font-size="10.4" fill="#111" textLength="47" lengthAdjust="spacingAndGlyphs">Field Plots</text>
<text x="59.4" y="195.6" font-family="'Liberation Sans', Arial, sans-serif" font-weight="bold" font-size="10.5" fill="#111" textLength="8.5" lengthAdjust="spacingAndGlyphs">E)</text>
<line x1="96.6" y1="207.5" x2="96.6" y2="232.6" stroke="#000" stroke-width="1.1"/>
<path d="M96.6 205 L94.4 210 L98.8 210 Z M96.6 235 L94.4 230 L98.8 230 Z" fill="#000"/>
<line x1="104.5" y1="241.6" x2="133" y2="241.6" stroke="#000" stroke-width="1.1"/>
<path d="M102 241.6 L107 239.4 L107 243.8 Z M135.5 241.6 L130.5 239.4 L130.5 243.8 Z" fill="#000"/>
<text x="121.3" y="251.8" text-anchor="middle" font-family="'Liberation Sans', Arial, sans-serif" font-weight="bold" font-size="10.5" fill="#111" textLength="22.5" lengthAdjust="spacingAndGlyphs">50 m</text>
<text transform="translate(86.8,219.8) rotate(-90)" text-anchor="middle" font-family="'Liberation Sans', Arial, sans-serif" font-weight="bold" font-size="10.5" fill="#111" textLength="21" lengthAdjust="spacingAndGlyphs">50 m</text>
<text x="164.2" y="485.2" text-anchor="middle" font-family="'Liberation Sans', Arial, sans-serif" font-weight="bold" font-size="10.6" fill="#fff" stroke="#3a4a3a" stroke-opacity="0.75" stroke-width="2" paint-order="stroke" stroke-linejoin="round" textLength="38.8" lengthAdjust="spacingAndGlyphs">RIL 2008</text>
<rect x="51.4" y="182.8" width="138.8" height="309.5" fill="none" stroke="#333" stroke-width="0.9"/>
<line x1="51.6" y1="492.3" x2="51.6" y2="498.6" stroke="#555" stroke-width="0.9"/>
<line x1="79.5" y1="492.3" x2="79.5" y2="498.6" stroke="#555" stroke-width="0.9"/>
<line x1="107.5" y1="492.3" x2="107.5" y2="498.6" stroke="#555" stroke-width="0.9"/>
<line x1="135.4" y1="492.3" x2="135.4" y2="498.6" stroke="#555" stroke-width="0.9"/>
<line x1="163.4" y1="492.3" x2="163.4" y2="498.6" stroke="#555" stroke-width="0.9"/>
<line x1="191.3" y1="492.3" x2="191.3" y2="498.6" stroke="#555" stroke-width="0.9"/>
<text x="51.6" y="514.3" text-anchor="middle" font-family="'Liberation Sans', Arial, sans-serif" font-size="10" fill="#222" textLength="33" lengthAdjust="spacingAndGlyphs">779400</text>
<text x="107.5" y="514.3" text-anchor="middle" font-family="'Liberation Sans', Arial, sans-serif" font-size="10" fill="#222" textLength="33" lengthAdjust="spacingAndGlyphs">779500</text>
<text x="163.4" y="514.3" text-anchor="middle" font-family="'Liberation Sans', Arial, sans-serif" font-size="10" fill="#222" textLength="33" lengthAdjust="spacingAndGlyphs">779600</text>
<clipPath id="cEl"><rect x="20" y="179" width="30" height="330"/></clipPath>
<line x1="46" y1="182.9" x2="51.4" y2="182.9" stroke="#666" stroke-width="0.9"/>
<g clip-path="url(#cEl)"><text transform="translate(38.3,182.9) rotate(-90)" text-anchor="middle" font-family="'Liberation Sans', Arial, sans-serif" font-size="10" fill="#222" textLength="38" lengthAdjust="spacingAndGlyphs">9585200</text></g>
<line x1="46" y1="238.3" x2="51.4" y2="238.3" stroke="#666" stroke-width="0.9"/>
<g clip-path="url(#cEl)"><text transform="translate(38.3,238.3) rotate(-90)" text-anchor="middle" font-family="'Liberation Sans', Arial, sans-serif" font-size="10" fill="#222" textLength="38" lengthAdjust="spacingAndGlyphs">9585100</text></g>
<line x1="46" y1="293.7" x2="51.4" y2="293.7" stroke="#666" stroke-width="0.9"/>
<g clip-path="url(#cEl)"><text transform="translate(38.3,293.7) rotate(-90)" text-anchor="middle" font-family="'Liberation Sans', Arial, sans-serif" font-size="10" fill="#222" textLength="38" lengthAdjust="spacingAndGlyphs">9585000</text></g>
<line x1="46" y1="349" x2="51.4" y2="349" stroke="#666" stroke-width="0.9"/>
<g clip-path="url(#cEl)"><text transform="translate(38.3,349) rotate(-90)" text-anchor="middle" font-family="'Liberation Sans', Arial, sans-serif" font-size="10" fill="#222" textLength="38" lengthAdjust="spacingAndGlyphs">9584900</text></g>
<line x1="46" y1="404.4" x2="51.4" y2="404.4" stroke="#666" stroke-width="0.9"/>
<g clip-path="url(#cEl)"><text transform="translate(38.3,404.4) rotate(-90)" text-anchor="middle" font-family="'Liberation Sans', Arial, sans-serif" font-size="10" fill="#222" textLength="38" lengthAdjust="spacingAndGlyphs">9584800</text></g>
<line x1="46" y1="459.8" x2="51.4" y2="459.8" stroke="#666" stroke-width="0.9"/>
<g clip-path="url(#cEl)"><text transform="translate(38.3,459.8) rotate(-90)" text-anchor="middle" font-family="'Liberation Sans', Arial, sans-serif" font-size="10" fill="#222" textLength="38" lengthAdjust="spacingAndGlyphs">9584700</text></g>
<line x1="106.8" y1="39.8" x2="205" y2="18.3" stroke="#000" stroke-width="1.25" stroke-dasharray="4.2 3.4"/>
<line x1="106.8" y1="70.4" x2="205" y2="159.5" stroke="#000" stroke-width="1.25" stroke-dasharray="4.2 3.4"/>
<line x1="311" y1="70.5" x2="368.5" y2="18.3" stroke="#000" stroke-width="1.25" stroke-dasharray="4.2 3.4"/>
<line x1="311" y1="97.9" x2="368.5" y2="159.5" stroke="#000" stroke-width="1.25" stroke-dasharray="4.2 3.4"/>
<line x1="391.4" y1="117.7" x2="221.4" y2="185.5" stroke="#000" stroke-width="1.25" stroke-dasharray="4.2 3.4"/>
<line x1="399.5" y1="125.2" x2="458" y2="186" stroke="#000" stroke-width="1.25" stroke-dasharray="4.2 3.4"/>
<line x1="190" y1="183.5" x2="334" y2="345" stroke="#000" stroke-width="1.25" stroke-dasharray="4.2 3.4"/>
<line x1="190" y1="492" x2="333" y2="393" stroke="#000" stroke-width="1.25" stroke-dasharray="4.2 3.4"/>
<defs><linearGradient id="cbg" x1="0" y1="1" x2="0" y2="0"><stop offset="0" stop-color="#0000ff"/><stop offset="0.3333" stop-color="#00ff00"/><stop offset="0.6667" stop-color="#ffff00"/><stop offset="1" stop-color="#ff0000"/></linearGradient></defs>
<rect x="475" y="234.2" width="19.1" height="266.7" fill="url(#cbg)" stroke="#111" stroke-width="1.4"/>
<line x1="494.8" y1="501.6" x2="496.5" y2="501.6" stroke="#444" stroke-width="0.6"/>
<text x="499.6" y="504.7" font-family="'Liberation Sans', Arial, sans-serif" font-size="8.6" fill="#111">0</text>
<line x1="494.8" y1="457" x2="496.5" y2="457" stroke="#444" stroke-width="0.6"/>
<text x="499.6" y="460.1" font-family="'Liberation Sans', Arial, sans-serif" font-size="8.6" fill="#111">10</text>
<line x1="494.8" y1="412.5" x2="496.5" y2="412.5" stroke="#444" stroke-width="0.6"/>
<text x="499.6" y="415.6" font-family="'Liberation Sans', Arial, sans-serif" font-size="8.6" fill="#111">20</text>
<line x1="494.8" y1="367.9" x2="496.5" y2="367.9" stroke="#444" stroke-width="0.6"/>
<text x="499.6" y="371" font-family="'Liberation Sans', Arial, sans-serif" font-size="8.6" fill="#111">30</text>
<line x1="494.8" y1="323.3" x2="496.5" y2="323.3" stroke="#444" stroke-width="0.6"/>
<text x="499.6" y="326.4" font-family="'Liberation Sans', Arial, sans-serif" font-size="8.6" fill="#111">40</text>
<line x1="494.8" y1="278.8" x2="496.5" y2="278.8" stroke="#444" stroke-width="0.6"/>
<text x="499.6" y="281.9" font-family="'Liberation Sans', Arial, sans-serif" font-size="8.6" fill="#111">50</text>
<line x1="494.8" y1="234.2" x2="496.5" y2="234.2" stroke="#444" stroke-width="0.6"/>
<text x="499.6" y="237.3" font-family="'Liberation Sans', Arial, sans-serif" font-size="8.6" fill="#111">60</text>
<text x="503.6" y="249.6" text-anchor="middle" font-family="'Liberation Sans', Arial, sans-serif" font-weight="bold" font-size="10" fill="#111">≥</text>
<text transform="translate(528,360) rotate(-90)" text-anchor="middle" font-family="'Liberation Sans', Arial, sans-serif" font-weight="bold" font-size="11" fill="#111" textLength="207" lengthAdjust="spacingAndGlyphs">Lidar-derived Canopy Height Model (m)</text>
<path d="M489.9 184.5 L480.2 211 L490.1 202.5 Z" fill="#fff" stroke="#111" stroke-width="0.8" stroke-linejoin="miter"/>
<path d="M489.9 184.5 L490.1 202.5 L499.6 211.4 Z" fill="#000" stroke="#000" stroke-width="0.5"/>
<text x="490" y="220.7" text-anchor="middle" font-family="'Liberation Sans', Arial, sans-serif" font-size="10.4" fill="#111" textLength="6.4" lengthAdjust="spacingAndGlyphs">N</text>
<text x="269.3" y="545" text-anchor="middle" font-family="'Liberation Sans', Arial, sans-serif" font-weight="bold" font-size="11" fill="#111" textLength="85" lengthAdjust="spacingAndGlyphs">UTM Easting (m)</text>
<text transform="translate(21.5,342.8) rotate(-90)" text-anchor="middle" font-family="'Liberation Sans', Arial, sans-serif" font-weight="bold" font-size="11" fill="#111" textLength="94.5" lengthAdjust="spacingAndGlyphs">UTM Northing (m)</text>
</svg>
</body></html>
